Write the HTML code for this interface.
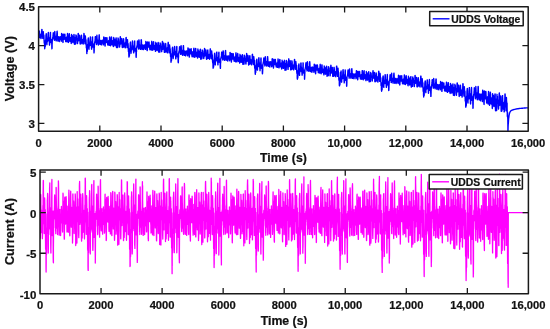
<!DOCTYPE html>
<html lang="en"><head><meta charset="utf-8"><title>UDDS Voltage and Current</title>
<style>html,body{margin:0;padding:0;background:#fff;overflow:hidden}body{width:550px;height:329px}</style></head>
<body>
<svg width="550" height="329" viewBox="0 0 550 329" style="display:block">
<rect width="100%" height="100%" fill="#fff"/>
<g font-family="'Liberation Sans', Arial, Helvetica, sans-serif" font-weight="bold" fill="#111" stroke="#111" stroke-width="0.22" stroke-linejoin="round">
<clipPath id="c6"><rect x="38.6" y="6.8" width="489.6" height="124.5"/></clipPath>
<polyline clip-path="url(#c6)" fill="none" stroke="#0000ff" stroke-width="1.35" stroke-linejoin="round" points="38.6,30.9 38.7,37.2 38.7,37.8 38.8,37.9 38.8,37.8 38.9,37.4 39.0,36.7 39.0,35.5 39.1,33.5 39.2,32.4 39.2,31.8 39.3,31.3 39.3,31.0 39.4,31.2 39.5,31.8 39.5,32.4 39.6,33.3 39.6,34.3 39.7,35.2 39.8,36.1 39.8,36.8 39.9,37.2 39.9,37.4 40.0,37.5 40.1,37.0 40.1,36.3 40.2,35.7 40.3,35.5 40.3,34.4 40.4,34.5 40.4,34.8 40.5,34.6 40.6,36.1 40.6,37.4 40.7,37.7 40.7,37.3 40.8,36.6 40.9,37.2 40.9,38.2 41.0,38.6 41.0,38.6 41.1,38.3 41.2,38.0 41.2,37.2 41.3,36.2 41.4,35.6 41.4,34.3 41.5,33.4 41.5,34.1 41.6,34.4 41.7,32.5 41.7,30.9 41.8,30.0 41.8,29.6 41.9,29.5 42.0,29.6 42.0,30.1 42.1,31.1 42.1,32.5 42.2,33.7 42.3,35.3 42.3,36.2 42.4,35.1 42.5,34.0 42.5,34.8 42.6,35.7 42.6,36.1 42.7,37.1 42.8,38.1 42.8,38.4 42.9,38.4 42.9,38.4 43.0,37.8 43.1,36.8 43.1,35.1 43.2,32.5 43.3,31.6 43.3,31.9 43.4,32.6 43.4,33.7 43.5,34.5 43.6,34.3 43.6,34.8 43.7,35.5 43.7,35.4 43.8,35.6 43.9,35.4 43.9,35.3 44.0,37.3 44.0,39.1 44.1,40.7 44.2,42.4 44.2,42.9 44.3,42.7 44.4,41.8 44.4,41.1 44.5,41.3 44.5,43.1 44.6,46.3 44.7,48.0 44.7,48.7 44.8,48.1 44.8,47.0 44.9,45.0 45.0,44.1 45.0,45.3 45.1,46.8 45.1,47.1 45.2,46.8 45.3,45.5 45.3,44.1 45.4,42.6 45.5,40.9 45.5,40.0 45.6,40.7 45.6,41.1 45.7,42.0 45.8,42.4 45.8,41.0 45.9,37.6 45.9,35.6 46.0,35.0 46.1,34.8 46.1,34.3 46.2,33.8 46.2,33.6 46.3,33.6 46.4,34.0 46.4,34.9 46.5,37.1 46.6,40.9 46.6,41.7 46.7,42.0 46.7,42.9 46.8,44.3 46.9,44.7 46.9,44.5 47.0,42.8 47.0,41.7 47.1,40.7 47.2,40.4 47.2,40.8 47.3,40.3 47.4,41.1 47.4,41.7 47.5,41.2 47.5,39.8 47.6,38.6 47.7,40.1 47.7,40.5 47.8,39.0 47.8,39.1 47.9,38.1 48.0,37.2 48.0,36.7 48.1,35.9 48.1,34.3 48.2,33.2 48.3,32.7 48.3,32.5 48.4,32.5 48.5,33.2 48.5,34.6 48.6,36.0 48.6,37.0 48.7,37.5 48.8,39.2 48.8,40.8 48.9,41.1 48.9,40.6 49.0,39.1 49.1,37.6 49.1,38.8 49.2,40.2 49.2,41.2 49.3,42.0 49.4,43.2 49.4,44.6 49.5,45.2 49.6,44.7 49.6,43.2 49.7,41.9 49.7,40.4 49.8,39.5 49.9,39.6 49.9,40.0 50.0,38.7 50.0,38.1 50.1,39.8 50.2,41.1 50.2,40.7 50.3,36.9 50.4,34.3 50.4,33.0 50.5,32.5 50.5,33.1 50.6,38.0 50.7,40.8 50.7,41.9 50.8,42.5 50.8,42.6 50.9,42.5 51.0,41.7 51.0,40.9 51.1,40.4 51.1,40.9 51.2,41.1 51.3,40.5 51.3,41.2 51.4,40.9 51.5,40.2 51.5,40.1 51.6,39.6 51.6,40.9 51.7,42.6 51.8,44.5 51.8,47.2 51.9,48.3 51.9,48.9 52.0,48.6 52.1,46.9 52.1,44.8 52.2,43.3 52.2,42.7 52.3,40.9 52.4,39.8 52.4,38.9 52.5,39.2 52.6,38.6 52.6,37.9 52.7,38.2 52.7,37.9 52.8,37.2 52.9,37.3 52.9,37.2 53.0,36.5 53.0,35.6 53.1,34.7 53.2,33.7 53.2,32.9 53.3,32.9 53.3,32.7 53.4,33.1 53.5,33.9 53.5,35.2 53.6,36.6 53.7,36.1 53.7,36.8 53.8,37.0 53.8,37.3 53.9,37.0 54.0,37.7 54.0,38.7 54.1,39.3 54.1,38.9 54.2,38.9 54.3,39.6 54.3,40.1 54.4,40.3 54.5,40.3 54.5,39.6 54.6,38.6 54.6,36.5 54.7,32.4 54.8,31.4 54.8,31.5 54.9,32.2 54.9,33.2 55.0,34.5 55.1,35.7 55.1,36.4 55.2,35.7 55.2,35.9 55.3,36.8 55.4,36.4 55.4,36.4 55.5,37.8 55.6,39.0 55.6,39.7 55.7,39.2 55.7,38.4 55.8,38.6 55.9,38.2 55.9,37.6 56.0,38.2 56.0,39.2 56.1,40.1 56.2,40.6 56.2,40.9 56.3,40.8 56.3,40.2 56.4,39.3 56.5,38.1 56.5,37.6 56.6,37.0 56.7,35.8 56.7,35.6 56.8,36.3 56.8,34.7 56.9,33.1 57.0,32.1 57.0,31.4 57.1,31.2 57.1,31.4 57.2,31.9 57.3,33.1 57.3,34.6 57.4,36.0 57.4,37.7 57.5,38.3 57.6,38.2 57.6,38.6 57.7,39.3 57.8,40.3 57.8,41.1 57.9,41.0 57.9,40.9 58.0,40.3 58.1,39.3 58.1,38.0 58.2,37.0 58.2,37.1 58.3,37.8 58.4,37.9 58.4,37.1 58.5,37.6 58.6,38.3 58.6,36.8 58.7,36.7 58.7,37.3 58.8,37.4 58.9,37.5 58.9,38.0 59.0,38.3 59.0,38.7 59.1,39.6 59.2,40.9 59.2,41.5 59.3,41.6 59.3,41.3 59.4,40.8 59.5,39.7 59.5,38.6 59.6,38.3 59.7,38.5 59.7,38.4 59.8,38.6 59.8,39.3 59.9,39.5 60.0,39.4 60.0,38.3 60.1,36.6 60.1,37.7 60.2,38.8 60.3,38.0 60.3,37.8 60.4,38.6 60.4,38.1 60.5,37.9 60.6,37.8 60.6,37.2 60.7,37.0 60.8,37.8 60.8,37.8 60.9,38.1 60.9,38.3 61.0,38.6 61.1,39.9 61.1,40.8 61.2,41.1 61.2,41.2 61.3,41.1 61.4,40.2 61.4,39.5 61.5,38.0 61.5,35.0 61.6,33.5 61.7,33.4 61.7,33.5 61.8,34.0 61.9,34.9 61.9,36.2 62.0,37.7 62.0,38.8 62.1,39.5 62.2,39.0 62.2,38.0 62.3,37.8 62.3,37.7 62.4,37.4 62.5,36.1 62.5,35.1 62.6,34.9 62.7,35.7 62.7,38.8 62.8,40.7 62.8,41.7 62.9,42.3 63.0,42.5 63.0,42.4 63.1,41.8 63.1,40.8 63.2,38.8 63.3,35.5 63.3,34.4 63.4,34.2 63.4,34.2 63.5,35.0 63.6,35.7 63.6,36.2 63.7,36.5 63.8,37.1 63.8,38.6 63.9,39.0 63.9,38.1 64.0,37.4 64.1,38.0 64.1,38.2 64.2,38.3 64.2,39.4 64.3,39.1 64.4,38.7 64.4,37.8 64.5,37.7 64.5,36.6 64.6,35.8 64.7,35.0 64.7,34.3 64.8,34.1 64.9,34.3 64.9,34.8 65.0,35.5 65.0,36.5 65.1,37.3 65.2,37.8 65.2,38.2 65.3,38.1 65.3,38.7 65.4,39.6 65.5,39.9 65.5,40.1 65.6,40.9 65.7,41.6 65.7,41.6 65.8,41.4 65.8,41.0 65.9,39.9 66.0,38.8 66.0,38.2 66.1,39.2 66.1,38.9 66.2,38.8 66.3,38.2 66.3,38.6 66.4,38.6 66.4,37.6 66.5,37.1 66.6,38.5 66.6,38.5 66.7,38.0 66.8,38.4 66.8,39.2 66.9,40.2 66.9,41.3 67.0,41.8 67.1,41.9 67.1,41.9 67.2,41.5 67.2,40.4 67.3,38.6 67.4,35.7 67.4,34.1 67.5,33.7 67.5,33.5 67.6,33.5 67.7,34.0 67.7,35.0 67.8,36.2 67.9,37.7 67.9,38.6 68.0,37.7 68.0,37.5 68.1,37.9 68.2,37.8 68.2,39.0 68.3,40.6 68.3,41.7 68.4,42.3 68.5,42.5 68.5,42.1 68.6,41.4 68.6,40.6 68.7,39.4 68.8,39.1 68.8,39.4 68.9,38.1 69.0,37.5 69.0,38.1 69.1,37.1 69.1,35.7 69.2,34.7 69.3,34.0 69.3,33.9 69.4,33.8 69.4,34.6 69.5,35.5 69.6,36.4 69.6,37.4 69.7,37.5 69.8,38.1 69.8,39.3 69.9,40.4 69.9,41.1 70.0,41.2 70.1,41.0 70.1,40.1 70.2,39.4 70.2,39.6 70.3,39.6 70.4,39.2 70.4,39.1 70.5,37.9 70.5,38.8 70.6,39.1 70.7,38.4 70.7,37.7 70.8,37.7 70.9,38.7 70.9,38.7 71.0,39.8 71.0,41.2 71.1,42.5 71.2,43.2 71.2,43.6 71.3,43.3 71.3,42.5 71.4,41.1 71.5,38.8 71.5,35.1 71.6,34.4 71.6,35.2 71.7,35.9 71.8,37.1 71.8,39.5 71.9,40.1 72.0,38.8 72.0,38.3 72.1,38.4 72.1,38.0 72.2,36.8 72.3,35.8 72.3,35.7 72.4,36.0 72.4,37.5 72.5,39.1 72.6,38.7 72.6,39.3 72.7,40.7 72.7,41.7 72.8,42.4 72.9,42.6 72.9,42.5 73.0,41.8 73.1,40.9 73.1,39.6 73.2,38.6 73.2,38.1 73.3,37.9 73.4,37.9 73.4,38.3 73.5,38.7 73.5,38.3 73.6,38.1 73.7,37.5 73.7,37.1 73.8,36.0 73.9,35.2 73.9,34.6 74.0,34.5 74.0,34.7 74.1,35.2 74.2,36.7 74.2,40.2 74.3,42.1 74.3,43.4 74.4,44.3 74.5,44.3 74.5,44.1 74.6,43.3 74.6,42.0 74.7,40.3 74.8,39.0 74.8,39.9 74.9,41.2 75.0,41.4 75.0,41.1 75.1,40.1 75.1,38.5 75.2,37.8 75.3,38.9 75.3,40.4 75.4,42.1 75.4,43.3 75.5,43.9 75.6,44.1 75.6,43.8 75.7,43.2 75.7,42.1 75.8,39.4 75.9,35.2 75.9,34.8 76.0,35.8 76.1,37.0 76.1,38.4 76.2,39.1 76.2,37.8 76.3,36.5 76.4,35.7 76.4,36.0 76.5,37.2 76.5,38.6 76.6,38.6 76.7,38.9 76.7,39.8 76.8,38.8 76.8,38.5 76.9,39.2 77.0,39.3 77.0,39.5 77.1,38.3 77.2,39.3 77.2,40.7 77.3,41.8 77.3,42.8 77.4,43.4 77.5,43.6 77.5,43.5 77.6,43.0 77.6,41.9 77.7,40.5 77.8,38.9 77.8,38.6 77.9,39.7 78.0,39.3 78.0,36.7 78.1,35.0 78.1,33.9 78.2,33.4 78.3,33.4 78.3,33.4 78.4,33.9 78.4,35.1 78.5,37.5 78.6,40.6 78.6,40.7 78.7,39.4 78.7,38.9 78.8,39.2 78.9,38.6 78.9,40.1 79.0,40.6 79.1,39.9 79.1,38.5 79.2,38.8 79.2,39.6 79.3,39.9 79.4,38.2 79.4,36.8 79.5,35.8 79.5,35.2 79.6,35.5 79.7,35.7 79.7,35.9 79.8,36.8 79.8,38.3 79.9,40.5 80.0,41.1 80.0,42.5 80.1,43.6 80.2,44.0 80.2,44.1 80.3,44.1 80.3,43.7 80.4,42.9 80.5,42.0 80.5,41.1 80.6,39.9 80.6,40.5 80.7,42.0 80.8,43.0 80.8,43.8 80.9,43.9 81.0,43.6 81.0,43.1 81.1,42.1 81.1,40.7 81.2,38.2 81.3,36.6 81.3,35.8 81.4,35.2 81.4,35.1 81.5,35.3 81.6,35.7 81.6,36.6 81.7,37.9 81.7,39.3 81.8,40.7 81.9,41.5 81.9,42.5 82.0,43.1 82.1,43.0 82.1,43.1 82.2,42.6 82.2,41.6 82.3,41.1 82.4,40.9 82.4,39.6 82.5,39.9 82.5,40.0 82.6,39.6 82.7,41.4 82.7,42.9 82.8,43.3 82.8,42.8 82.9,41.9 83.0,42.4 83.0,43.5 83.1,44.0 83.2,44.1 83.2,44.1 83.3,43.7 83.3,42.6 83.4,41.8 83.5,41.3 83.5,39.6 83.6,38.2 83.6,39.2 83.7,39.4 83.8,37.0 83.8,35.1 83.9,34.0 83.9,33.5 84.0,33.5 84.1,33.7 84.1,34.2 84.2,35.1 84.3,36.8 84.3,38.6 84.4,40.3 84.4,40.9 84.5,39.8 84.6,39.0 84.6,40.0 84.7,40.7 84.7,41.2 84.8,42.0 84.9,43.1 84.9,43.5 85.0,43.7 85.1,43.7 85.1,43.2 85.2,41.9 85.2,39.7 85.3,36.7 85.4,35.9 85.4,36.5 85.5,37.5 85.5,38.3 85.6,38.9 85.7,38.9 85.7,39.2 85.8,40.2 85.8,40.2 85.9,40.3 86.0,39.8 86.0,39.8 86.1,42.2 86.2,44.0 86.2,45.3 86.3,46.5 86.3,47.8 86.4,47.9 86.5,46.9 86.5,46.3 86.6,46.2 86.6,47.8 86.7,50.5 86.8,52.6 86.8,53.6 86.9,53.4 86.9,51.7 87.0,49.8 87.1,49.0 87.1,50.1 87.2,51.3 87.3,51.5 87.3,51.3 87.4,50.1 87.4,48.8 87.5,47.6 87.6,45.4 87.6,44.3 87.7,45.2 87.7,45.6 87.8,46.7 87.9,47.3 87.9,45.8 88.0,41.9 88.0,40.0 88.1,39.4 88.2,39.5 88.2,38.7 88.3,38.0 88.4,38.0 88.4,38.1 88.5,38.8 88.5,39.6 88.6,41.6 88.7,44.9 88.7,45.9 88.8,46.5 88.8,47.7 88.9,49.0 89.0,49.3 89.0,49.2 89.1,47.3 89.2,46.0 89.2,44.8 89.3,44.8 89.3,45.2 89.4,44.6 89.5,45.5 89.5,46.0 89.6,45.4 89.6,44.2 89.7,43.0 89.8,44.6 89.8,45.2 89.9,43.6 89.9,43.7 90.0,42.7 90.1,41.7 90.1,41.1 90.2,40.0 90.3,38.5 90.3,37.4 90.4,37.0 90.4,36.9 90.5,36.9 90.6,37.4 90.6,38.8 90.7,40.6 90.7,41.7 90.8,42.0 90.9,43.8 90.9,45.4 91.0,45.5 91.0,44.9 91.1,43.5 91.2,41.7 91.2,43.1 91.3,44.5 91.4,45.4 91.4,46.6 91.5,47.9 91.5,49.0 91.6,49.2 91.7,49.0 91.7,48.2 91.8,46.7 91.8,44.9 91.9,43.9 92.0,43.9 92.0,44.6 92.1,43.4 92.2,42.3 92.2,43.8 92.3,45.4 92.3,44.7 92.4,40.7 92.5,38.6 92.5,37.4 92.6,36.9 92.6,37.4 92.7,41.9 92.8,45.0 92.8,46.0 92.9,46.8 92.9,47.0 93.0,46.7 93.1,46.2 93.1,45.6 93.2,45.1 93.3,45.1 93.3,45.2 93.4,44.9 93.4,45.6 93.5,45.3 93.6,44.4 93.6,44.4 93.7,44.1 93.7,44.9 93.8,46.8 93.9,48.8 93.9,50.8 94.0,52.4 94.0,52.9 94.1,52.2 94.2,51.0 94.2,48.9 94.3,47.6 94.4,47.1 94.4,45.0 94.5,43.5 94.5,43.1 94.6,43.2 94.7,42.5 94.7,41.8 94.8,42.0 94.8,42.0 94.9,41.5 95.0,41.5 95.0,41.1 95.1,40.4 95.1,39.6 95.2,38.5 95.3,37.4 95.3,36.7 95.4,36.6 95.5,36.8 95.5,36.9 95.6,37.8 95.6,39.2 95.7,40.8 95.8,40.3 95.8,40.7 95.9,41.0 95.9,41.5 96.0,41.3 96.1,41.9 96.1,43.0 96.2,43.1 96.3,42.8 96.3,43.0 96.4,43.8 96.4,44.5 96.5,44.6 96.6,44.4 96.6,43.8 96.7,42.9 96.7,40.6 96.8,36.3 96.9,35.2 96.9,35.3 97.0,35.9 97.0,37.0 97.1,38.4 97.2,39.7 97.2,40.3 97.3,39.7 97.4,40.2 97.4,40.8 97.5,40.1 97.5,40.2 97.6,41.7 97.7,42.8 97.7,43.1 97.8,42.8 97.8,42.2 97.9,42.5 98.0,42.2 98.0,41.2 98.1,41.4 98.1,42.8 98.2,44.0 98.3,44.6 98.3,44.9 98.4,45.0 98.5,44.2 98.5,42.9 98.6,42.1 98.6,41.9 98.7,41.1 98.8,40.0 98.8,39.6 98.9,40.0 98.9,38.7 99.0,36.9 99.1,35.5 99.1,35.0 99.2,34.8 99.2,34.9 99.3,35.7 99.4,37.1 99.4,38.6 99.5,39.8 99.6,41.8 99.6,42.2 99.7,41.9 99.7,42.1 99.8,43.0 99.9,43.8 99.9,44.3 100.0,44.4 100.0,44.3 100.1,43.8 100.2,42.8 100.2,41.6 100.3,40.7 100.4,40.9 100.4,42.0 100.5,42.0 100.5,40.9 100.6,41.0 100.7,41.4 100.7,40.3 100.8,40.3 100.8,40.8 100.9,41.1 101.0,41.0 101.0,41.7 101.1,42.0 101.1,42.2 101.2,43.3 101.3,44.3 101.3,44.9 101.4,44.9 101.5,44.9 101.5,44.4 101.6,43.1 101.6,42.2 101.7,41.7 101.8,41.8 101.8,41.7 101.9,42.2 101.9,42.8 102.0,43.2 102.1,43.1 102.1,41.9 102.2,40.3 102.2,41.3 102.3,42.4 102.4,41.5 102.4,41.4 102.5,42.1 102.6,41.0 102.6,40.9 102.7,41.4 102.7,40.4 102.8,40.2 102.9,40.9 102.9,41.0 103.0,41.5 103.0,41.9 103.1,42.3 103.2,43.3 103.2,44.1 103.3,44.8 103.3,44.9 103.4,44.8 103.5,44.3 103.5,43.2 103.6,41.5 103.7,38.8 103.7,37.4 103.8,37.0 103.8,37.0 103.9,37.8 104.0,38.6 104.0,39.9 104.1,41.3 104.1,42.2 104.2,42.8 104.3,42.7 104.3,41.8 104.4,41.5 104.5,41.2 104.5,41.0 104.6,39.6 104.6,38.2 104.7,37.9 104.8,38.8 104.8,42.2 104.9,44.2 104.9,45.2 105.0,45.9 105.1,46.0 105.1,45.9 105.2,45.3 105.2,44.2 105.3,42.3 105.4,38.9 105.4,37.7 105.5,37.7 105.6,37.7 105.6,38.2 105.7,39.1 105.7,39.9 105.8,40.4 105.9,40.4 105.9,41.9 106.0,42.4 106.0,41.5 106.1,40.9 106.2,41.5 106.2,41.7 106.3,41.6 106.3,42.5 106.4,42.3 106.5,42.1 106.5,41.6 106.6,41.2 106.7,40.0 106.7,39.0 106.8,38.3 106.8,37.6 106.9,37.6 107.0,37.8 107.0,38.1 107.1,39.0 107.1,39.9 107.2,40.6 107.3,41.5 107.3,41.9 107.4,41.5 107.4,42.2 107.5,43.1 107.6,43.3 107.6,43.5 107.7,44.4 107.8,44.9 107.8,45.0 107.9,44.9 107.9,44.5 108.0,43.7 108.1,42.4 108.1,41.3 108.2,42.5 108.2,42.5 108.3,42.3 108.4,42.0 108.4,42.1 108.5,41.9 108.6,40.8 108.6,40.6 108.7,42.4 108.7,42.0 108.8,41.4 108.9,41.8 108.9,42.7 109.0,43.5 109.0,44.5 109.1,45.2 109.2,45.4 109.2,44.9 109.3,44.5 109.3,43.8 109.4,42.0 109.5,39.4 109.5,37.7 109.6,37.1 109.7,37.0 109.7,37.1 109.8,37.5 109.8,38.6 109.9,39.9 110.0,41.5 110.0,42.1 110.1,41.1 110.1,41.0 110.2,41.4 110.3,41.1 110.3,42.4 110.4,44.1 110.4,45.1 110.5,45.6 110.6,45.8 110.6,45.7 110.7,45.0 110.8,43.9 110.8,42.7 110.9,42.1 110.9,42.2 111.0,41.2 111.1,41.1 111.1,41.3 111.2,39.9 111.2,38.6 111.3,37.8 111.4,37.4 111.4,37.1 111.5,37.0 111.6,37.4 111.6,38.8 111.7,40.4 111.7,41.3 111.8,41.1 111.9,41.8 111.9,42.9 112.0,43.9 112.0,44.7 112.1,44.8 112.2,44.1 112.2,43.1 112.3,42.6 112.3,43.0 112.4,42.7 112.5,42.4 112.5,42.4 112.6,41.4 112.7,42.1 112.7,42.3 112.8,41.5 112.8,40.7 112.9,41.0 113.0,41.8 113.0,41.8 113.1,43.0 113.1,44.5 113.2,45.8 113.3,46.5 113.3,46.5 113.4,46.5 113.4,45.9 113.5,44.6 113.6,42.1 113.6,38.1 113.7,37.5 113.8,38.2 113.8,39.2 113.9,40.7 113.9,42.8 114.0,43.6 114.1,42.5 114.1,42.0 114.2,41.9 114.2,41.3 114.3,40.3 114.4,39.3 114.4,39.0 114.5,39.3 114.5,40.7 114.6,42.2 114.7,42.2 114.7,43.0 114.8,44.1 114.9,45.2 114.9,45.8 115.0,45.7 115.0,45.6 115.1,45.2 115.2,44.4 115.2,43.2 115.3,41.7 115.3,41.2 115.4,41.3 115.5,41.3 115.5,41.8 115.6,42.0 115.7,41.4 115.7,41.4 115.8,40.8 115.8,40.2 115.9,39.2 116.0,38.3 116.0,37.9 116.1,37.9 116.1,38.0 116.2,38.3 116.3,40.1 116.3,43.4 116.4,45.5 116.4,46.6 116.5,47.5 116.6,47.6 116.6,47.2 116.7,46.5 116.8,45.3 116.8,43.5 116.9,42.0 116.9,43.1 117.0,44.3 117.1,44.8 117.1,44.7 117.2,43.3 117.2,41.8 117.3,41.1 117.4,42.4 117.4,43.9 117.5,45.4 117.5,46.2 117.6,47.0 117.7,47.6 117.7,47.4 117.8,46.5 117.9,45.5 117.9,42.9 118.0,38.6 118.0,38.0 118.1,39.1 118.2,40.3 118.2,41.5 118.3,42.5 118.3,40.9 118.4,39.3 118.5,39.0 118.5,39.5 118.6,40.7 118.6,41.8 118.7,41.6 118.8,41.9 118.8,42.9 118.9,42.5 119.0,42.1 119.0,42.7 119.1,42.8 119.1,42.9 119.2,41.9 119.3,42.6 119.3,44.0 119.4,45.2 119.4,46.2 119.5,46.9 119.6,47.1 119.6,47.0 119.7,46.5 119.8,45.4 119.8,43.6 119.9,42.2 119.9,42.1 120.0,43.2 120.1,42.7 120.1,40.5 120.2,38.5 120.2,37.3 120.3,36.7 120.4,36.7 120.4,36.8 120.5,37.4 120.5,38.5 120.6,40.7 120.7,44.0 120.7,43.8 120.8,42.7 120.9,42.1 120.9,42.2 121.0,41.9 121.0,43.6 121.1,43.8 121.2,43.2 121.2,41.8 121.3,42.2 121.3,43.1 121.4,43.4 121.5,41.7 121.5,40.0 121.6,39.2 121.6,38.8 121.7,38.6 121.8,38.7 121.8,39.4 121.9,40.5 122.0,41.9 122.0,43.8 122.1,44.5 122.1,45.5 122.2,46.7 122.3,47.4 122.3,47.6 122.4,47.5 122.4,46.9 122.5,46.1 122.6,45.6 122.6,44.7 122.7,43.6 122.8,44.2 122.8,45.5 122.9,46.5 122.9,47.1 123.0,47.4 123.1,47.3 123.1,46.7 123.2,45.8 123.2,44.7 123.3,42.1 123.4,40.4 123.4,39.4 123.5,38.7 123.5,38.7 123.6,38.9 123.7,39.4 123.7,40.3 123.8,41.4 123.9,42.7 123.9,43.9 124.0,45.1 124.0,46.3 124.1,46.6 124.2,46.7 124.2,46.6 124.3,46.0 124.3,45.3 124.4,44.6 124.5,44.3 124.5,43.2 124.6,43.3 124.6,43.4 124.7,43.1 124.8,44.6 124.8,46.3 124.9,46.8 125.0,46.6 125.0,45.7 125.1,46.1 125.1,47.2 125.2,47.7 125.3,47.9 125.3,47.9 125.4,47.2 125.4,46.1 125.5,45.4 125.6,44.8 125.6,43.2 125.7,42.0 125.7,42.9 125.8,43.3 125.9,41.0 125.9,39.0 126.0,37.8 126.1,37.5 126.1,37.5 126.2,37.6 126.2,38.2 126.3,39.4 126.4,40.9 126.4,42.3 126.5,43.9 126.5,44.8 126.6,43.3 126.7,42.1 126.7,43.3 126.8,44.3 126.9,44.9 126.9,45.8 127.0,46.7 127.0,47.4 127.1,47.6 127.2,47.4 127.2,46.7 127.3,45.7 127.3,43.6 127.4,40.3 127.5,39.6 127.5,40.4 127.6,41.2 127.6,42.1 127.7,42.7 127.8,43.0 127.8,43.5 127.9,44.1 128.0,44.0 128.0,44.0 128.1,43.9 128.1,43.6 128.2,45.5 128.3,47.9 128.3,49.4 128.4,51.0 128.4,51.6 128.5,51.7 128.6,50.7 128.6,49.9 128.7,50.2 128.7,51.7 128.8,55.0 128.9,56.6 128.9,57.0 129.0,56.9 129.1,55.8 129.1,53.6 129.2,52.8 129.2,54.0 129.3,55.5 129.4,56.1 129.4,55.8 129.5,54.4 129.5,52.7 129.6,51.3 129.7,49.4 129.7,48.4 129.8,49.2 129.8,49.6 129.9,50.6 130.0,51.0 130.0,49.5 130.1,46.0 130.2,44.1 130.2,43.3 130.3,43.4 130.3,43.0 130.4,42.2 130.5,42.0 130.5,42.2 130.6,42.6 130.6,43.5 130.7,45.6 130.8,49.2 130.8,50.1 130.9,50.6 131.0,51.8 131.0,53.2 131.1,53.1 131.1,53.0 131.2,51.6 131.3,50.3 131.3,49.2 131.4,48.9 131.4,49.4 131.5,48.8 131.6,49.6 131.6,49.9 131.7,49.3 131.7,48.4 131.8,47.4 131.9,49.1 131.9,49.3 132.0,47.5 132.1,47.5 132.1,46.9 132.2,46.0 132.2,45.3 132.3,44.4 132.4,42.8 132.4,41.5 132.5,41.0 132.5,41.0 132.6,41.5 132.7,42.1 132.7,43.1 132.8,44.5 132.8,45.8 132.9,46.2 133.0,47.6 133.0,49.2 133.1,49.8 133.2,49.4 133.2,47.5 133.3,45.8 133.3,47.5 133.4,48.7 133.5,49.8 133.5,51.1 133.6,52.2 133.6,52.7 133.7,52.9 133.8,52.8 133.8,51.6 133.9,50.6 133.9,49.0 134.0,48.4 134.1,48.5 134.1,48.8 134.2,47.2 134.3,46.4 134.3,48.2 134.4,49.7 134.4,49.3 134.5,45.5 134.6,42.9 134.6,41.6 134.7,41.0 134.7,41.6 134.8,46.6 134.9,49.5 134.9,50.3 135.0,50.9 135.1,51.1 135.1,51.0 135.2,50.5 135.2,49.9 135.3,49.3 135.4,49.7 135.4,49.9 135.5,49.3 135.5,49.7 135.6,49.5 135.7,48.8 135.7,48.7 135.8,48.5 135.8,49.4 135.9,51.3 136.0,53.3 136.0,55.9 136.1,57.2 136.2,57.3 136.2,57.0 136.3,55.3 136.3,53.3 136.4,52.0 136.5,51.5 136.5,49.5 136.6,48.1 136.6,47.3 136.7,47.6 136.8,47.1 136.8,46.3 136.9,46.4 136.9,46.3 137.0,45.7 137.1,45.8 137.1,45.5 137.2,45.1 137.3,44.3 137.3,43.0 137.4,41.8 137.4,41.2 137.5,41.1 137.6,41.0 137.6,41.3 137.7,42.5 137.7,44.1 137.8,45.2 137.9,44.7 137.9,45.3 138.0,45.5 138.1,45.7 138.1,45.3 138.2,46.0 138.2,47.2 138.3,47.7 138.4,47.5 138.4,47.4 138.5,48.3 138.5,48.8 138.6,49.0 138.7,49.1 138.7,48.5 138.8,47.2 138.8,44.7 138.9,40.6 139.0,39.8 139.0,40.0 139.1,40.6 139.2,41.8 139.2,43.4 139.3,44.5 139.3,44.7 139.4,44.4 139.5,44.9 139.5,45.6 139.6,45.0 139.6,44.9 139.7,46.3 139.8,47.8 139.8,48.1 139.9,47.7 139.9,47.0 140.0,47.1 140.1,46.8 140.1,46.0 140.2,46.6 140.3,47.8 140.3,48.8 140.4,49.3 140.4,49.4 140.5,49.4 140.6,48.9 140.6,47.8 140.7,46.8 140.7,46.3 140.8,45.8 140.9,44.8 140.9,44.3 141.0,44.5 141.0,43.4 141.1,41.7 141.2,40.4 141.2,39.7 141.3,39.8 141.4,39.9 141.4,40.2 141.5,41.7 141.5,43.0 141.6,44.4 141.7,46.2 141.7,46.8 141.8,46.2 141.8,46.8 141.9,47.9 142.0,48.9 142.0,49.6 142.1,49.6 142.2,49.3 142.2,48.8 142.3,47.7 142.3,46.3 142.4,45.2 142.5,45.4 142.5,46.3 142.6,46.5 142.6,45.7 142.7,45.9 142.8,46.4 142.8,44.9 142.9,45.0 142.9,45.9 143.0,45.8 143.1,45.5 143.1,46.3 143.2,46.9 143.3,47.0 143.3,47.8 143.4,48.8 143.4,49.6 143.5,49.6 143.6,49.4 143.6,48.9 143.7,47.9 143.7,46.8 143.8,46.2 143.9,46.3 143.9,46.2 144.0,46.9 144.0,47.9 144.1,48.1 144.2,47.7 144.2,46.5 144.3,44.9 144.4,45.9 144.4,47.0 144.5,46.2 144.5,46.2 144.6,46.8 144.7,46.3 144.7,46.3 144.8,46.2 144.8,45.2 144.9,45.0 145.0,45.8 145.0,45.9 145.1,46.2 145.1,46.5 145.2,46.7 145.3,47.8 145.3,48.8 145.4,49.3 145.5,49.4 145.5,49.3 145.6,48.7 145.6,47.5 145.7,46.1 145.8,42.9 145.8,41.4 145.9,41.6 145.9,41.7 146.0,42.3 146.1,43.3 146.1,44.4 146.2,45.9 146.3,46.8 146.3,47.3 146.4,47.1 146.4,46.0 146.5,45.6 146.6,45.9 146.6,45.6 146.7,44.4 146.7,43.3 146.8,43.0 146.9,43.8 146.9,46.8 147.0,48.8 147.0,49.9 147.1,50.4 147.2,50.6 147.2,50.6 147.3,50.2 147.4,49.2 147.4,47.1 147.5,43.6 147.5,42.1 147.6,42.0 147.7,42.3 147.7,42.9 147.8,43.6 147.8,44.5 147.9,44.8 148.0,44.9 148.0,46.3 148.1,46.9 148.1,46.2 148.2,45.6 148.3,46.1 148.3,46.4 148.4,46.1 148.5,47.0 148.5,46.8 148.6,46.5 148.6,45.9 148.7,45.9 148.8,44.5 148.8,43.3 148.9,42.9 148.9,42.4 149.0,42.0 149.1,42.3 149.1,42.8 149.2,43.7 149.2,44.5 149.3,45.1 149.4,45.6 149.4,46.3 149.5,46.3 149.6,46.9 149.6,47.8 149.7,48.2 149.7,48.2 149.8,49.1 149.9,49.6 149.9,49.8 150.0,49.5 150.0,48.9 150.1,47.9 150.2,46.7 150.2,45.9 150.3,47.1 150.4,47.2 150.4,46.9 150.5,46.7 150.5,46.7 150.6,46.5 150.7,45.3 150.7,45.1 150.8,46.7 150.8,46.4 150.9,45.8 151.0,46.2 151.0,46.9 151.1,48.1 151.1,49.3 151.2,49.9 151.3,50.0 151.3,50.1 151.4,49.4 151.5,48.5 151.5,46.9 151.6,44.0 151.6,42.4 151.7,41.6 151.8,41.3 151.8,41.4 151.9,42.1 151.9,43.2 152.0,44.7 152.1,45.8 152.1,46.5 152.2,45.5 152.2,45.4 152.3,46.1 152.4,45.8 152.4,47.1 152.5,48.4 152.6,49.3 152.6,50.0 152.7,50.2 152.7,50.3 152.8,49.6 152.9,48.6 152.9,47.5 153.0,46.9 153.0,46.9 153.1,45.9 153.2,45.9 153.2,46.0 153.3,44.6 153.3,43.2 153.4,42.3 153.5,42.0 153.5,41.8 153.6,41.7 153.7,42.2 153.7,43.4 153.8,44.7 153.8,45.5 153.9,45.6 154.0,46.2 154.0,47.4 154.1,48.5 154.1,49.2 154.2,49.4 154.3,49.1 154.3,48.0 154.4,47.5 154.5,47.6 154.5,47.2 154.6,47.0 154.6,47.3 154.7,46.0 154.8,46.6 154.8,46.9 154.9,46.1 154.9,45.4 155.0,45.6 155.1,46.5 155.1,46.6 155.2,47.7 155.2,49.4 155.3,50.5 155.4,51.2 155.4,51.3 155.5,51.3 155.6,50.8 155.6,49.4 155.7,47.1 155.7,43.3 155.8,42.3 155.9,42.9 155.9,43.7 156.0,45.3 156.0,47.5 156.1,47.8 156.2,46.7 156.2,46.6 156.3,46.4 156.3,46.0 156.4,45.1 156.5,44.0 156.5,43.5 156.6,43.8 156.7,45.2 156.7,46.7 156.8,46.6 156.8,47.6 156.9,48.9 157.0,50.1 157.0,50.4 157.1,50.5 157.1,50.4 157.2,49.9 157.3,48.8 157.3,47.3 157.4,46.3 157.5,45.9 157.5,45.9 157.6,46.0 157.6,46.3 157.7,46.6 157.8,46.1 157.8,46.1 157.9,45.4 157.9,45.0 158.0,44.4 158.1,43.1 158.1,42.3 158.2,42.3 158.2,42.5 158.3,43.2 158.4,44.6 158.4,47.9 158.5,50.1 158.6,51.3 158.6,52.0 158.7,52.1 158.7,51.9 158.8,51.3 158.9,50.3 158.9,48.2 159.0,46.6 159.0,47.8 159.1,49.2 159.2,49.3 159.2,49.0 159.3,48.2 159.3,46.7 159.4,45.6 159.5,46.9 159.5,48.5 159.6,49.8 159.7,50.9 159.7,51.6 159.8,52.2 159.8,52.1 159.9,51.1 160.0,49.8 160.0,47.3 160.1,43.2 160.1,42.8 160.2,44.0 160.3,45.2 160.3,46.4 160.4,47.1 160.4,45.4 160.5,43.9 160.6,43.8 160.6,44.2 160.7,45.4 160.8,46.6 160.8,46.4 160.9,46.4 160.9,47.5 161.0,46.8 161.1,46.5 161.1,47.1 161.2,47.0 161.2,47.4 161.3,46.3 161.4,47.2 161.4,48.5 161.5,49.9 161.6,51.0 161.6,51.5 161.7,51.7 161.7,51.6 161.8,50.8 161.9,49.9 161.9,48.7 162.0,46.9 162.0,46.3 162.1,47.5 162.2,47.4 162.2,45.3 162.3,43.3 162.3,41.8 162.4,41.4 162.5,41.5 162.5,41.4 162.6,41.9 162.7,43.1 162.7,45.7 162.8,49.4 162.8,49.0 162.9,47.6 163.0,47.0 163.0,47.2 163.1,46.6 163.1,48.4 163.2,48.7 163.3,48.0 163.3,46.7 163.4,47.2 163.4,48.2 163.5,48.3 163.6,46.5 163.6,44.7 163.7,43.6 163.8,43.2 163.8,43.1 163.9,43.3 163.9,43.8 164.0,44.9 164.1,46.4 164.1,48.2 164.2,49.3 164.2,50.7 164.3,51.8 164.4,52.4 164.4,52.4 164.5,52.2 164.5,51.7 164.6,51.0 164.7,50.5 164.7,49.4 164.8,48.4 164.9,49.0 164.9,50.4 165.0,51.5 165.0,52.2 165.1,52.1 165.2,51.9 165.2,51.6 165.3,50.6 165.3,48.9 165.4,46.4 165.5,45.1 165.5,44.3 165.6,43.6 165.7,43.6 165.7,43.5 165.8,44.2 165.8,45.2 165.9,46.3 166.0,47.6 166.0,49.2 166.1,50.4 166.1,51.3 166.2,51.8 166.3,51.8 166.3,51.4 166.4,50.7 166.4,49.7 166.5,49.3 166.6,49.2 166.6,48.1 166.7,48.6 166.8,48.7 166.8,48.2 166.9,49.5 166.9,51.3 167.0,51.8 167.1,51.4 167.1,50.3 167.2,51.0 167.2,52.2 167.3,52.7 167.4,52.9 167.4,52.9 167.5,52.2 167.5,51.0 167.6,49.9 167.7,49.4 167.7,47.9 167.8,46.9 167.9,47.7 167.9,47.9 168.0,45.9 168.0,44.0 168.1,42.8 168.2,42.3 168.2,42.3 168.3,42.5 168.3,43.0 168.4,43.9 168.5,45.4 168.5,47.0 168.6,48.8 168.7,49.7 168.7,48.5 168.8,47.3 168.8,48.5 168.9,49.4 169.0,49.7 169.0,51.0 169.1,52.1 169.1,52.8 169.2,52.9 169.3,52.7 169.3,52.1 169.4,50.9 169.4,48.9 169.5,45.6 169.6,44.9 169.6,45.5 169.7,46.1 169.8,47.1 169.8,47.8 169.9,47.7 169.9,48.3 170.0,49.2 170.1,49.4 170.1,49.4 170.2,48.9 170.2,48.8 170.3,51.2 170.4,53.3 170.4,54.6 170.5,55.8 170.5,56.6 170.6,56.7 170.7,55.9 170.7,55.5 170.8,55.5 170.9,57.5 170.9,60.6 171.0,62.3 171.0,62.3 171.1,62.0 171.2,61.0 171.2,58.9 171.3,58.0 171.3,59.2 171.4,60.4 171.5,60.5 171.5,60.2 171.6,59.3 171.6,57.9 171.7,56.7 171.8,54.6 171.8,53.6 171.9,54.4 172.0,54.6 172.0,55.7 172.1,56.1 172.1,54.6 172.2,50.9 172.3,48.9 172.3,48.4 172.4,48.4 172.4,47.9 172.5,47.5 172.6,47.3 172.6,47.2 172.7,47.9 172.8,48.9 172.8,50.8 172.9,54.6 172.9,55.4 173.0,55.8 173.1,56.5 173.1,57.8 173.2,58.5 173.2,58.5 173.3,57.0 173.4,55.5 173.4,54.2 173.5,53.9 173.5,54.4 173.6,53.9 173.7,55.0 173.7,55.5 173.8,55.0 173.9,53.9 173.9,52.7 174.0,54.4 174.0,54.8 174.1,53.0 174.2,52.9 174.2,52.3 174.3,51.3 174.3,50.5 174.4,49.6 174.5,48.3 174.5,47.2 174.6,46.5 174.6,46.3 174.7,46.7 174.8,47.1 174.8,48.3 174.9,50.1 175.0,51.1 175.0,51.5 175.1,53.4 175.1,54.7 175.2,55.0 175.3,54.5 175.3,52.9 175.4,51.4 175.4,52.7 175.5,53.8 175.6,54.9 175.6,56.2 175.7,57.4 175.7,58.8 175.8,58.9 175.9,58.5 175.9,57.5 176.0,56.3 176.1,54.5 176.1,53.2 176.2,53.5 176.2,53.9 176.3,52.5 176.4,51.7 176.4,53.4 176.5,54.9 176.5,54.5 176.6,50.2 176.7,47.9 176.7,47.0 176.8,46.4 176.9,46.9 176.9,51.8 177.0,54.8 177.0,55.8 177.1,56.5 177.2,56.8 177.2,56.7 177.3,55.9 177.3,55.1 177.4,54.7 177.5,55.2 177.5,55.6 177.6,54.5 177.6,54.9 177.7,54.8 177.8,54.2 177.8,54.3 177.9,54.0 178.0,54.6 178.0,56.6 178.1,58.7 178.1,61.4 178.2,62.5 178.3,62.6 178.3,62.7 178.4,61.5 178.4,59.0 178.5,57.5 178.6,56.7 178.6,54.9 178.7,53.4 178.7,52.6 178.8,53.1 178.9,52.5 178.9,51.6 179.0,51.9 179.1,51.8 179.1,51.0 179.2,51.2 179.2,50.9 179.3,50.3 179.4,49.7 179.4,48.4 179.5,47.5 179.5,46.9 179.6,46.7 179.7,46.7 179.7,47.1 179.8,48.1 179.8,49.5 179.9,50.8 180.0,50.4 180.0,50.9 180.1,51.1 180.2,51.6 180.2,51.4 180.3,51.8 180.3,52.7 180.4,53.4 180.5,53.2 180.5,52.9 180.6,53.5 180.6,54.2 180.7,54.4 180.8,54.4 180.8,53.9 180.9,52.8 181.0,50.5 181.0,46.5 181.1,45.6 181.1,45.6 181.2,46.3 181.3,47.7 181.3,48.8 181.4,49.9 181.4,50.5 181.5,50.0 181.6,50.4 181.6,51.3 181.7,50.7 181.7,50.5 181.8,51.8 181.9,53.2 181.9,53.8 182.0,53.7 182.1,52.8 182.1,53.0 182.2,52.9 182.2,51.8 182.3,52.0 182.4,53.2 182.4,54.3 182.5,55.0 182.5,55.2 182.6,55.1 182.7,54.5 182.7,53.5 182.8,52.5 182.8,52.1 182.9,51.3 183.0,50.2 183.0,49.8 183.1,50.0 183.2,48.6 183.2,47.3 183.3,46.1 183.3,45.6 183.4,45.7 183.5,45.7 183.5,46.1 183.6,47.4 183.6,48.9 183.7,50.4 183.8,52.4 183.8,52.7 183.9,52.1 183.9,52.6 184.0,53.6 184.1,54.6 184.1,55.2 184.2,55.4 184.3,55.3 184.3,54.4 184.4,53.5 184.4,52.3 184.5,51.2 184.6,51.5 184.6,52.5 184.7,52.6 184.7,51.6 184.8,51.7 184.9,52.1 184.9,50.9 185.0,51.0 185.1,51.7 185.1,51.8 185.2,51.4 185.2,52.1 185.3,52.8 185.4,53.1 185.4,53.9 185.5,54.9 185.5,55.7 185.6,55.9 185.7,55.8 185.7,55.3 185.8,54.2 185.8,53.1 185.9,52.7 186.0,52.7 186.0,52.4 186.1,52.8 186.2,53.6 186.2,54.0 186.3,53.9 186.3,52.5 186.4,51.0 186.5,52.3 186.5,53.2 186.6,52.3 186.6,52.4 186.7,52.9 186.8,52.3 186.8,52.0 186.9,52.1 186.9,51.6 187.0,51.2 187.1,51.7 187.1,52.0 187.2,52.3 187.3,52.7 187.3,53.0 187.4,54.1 187.4,55.2 187.5,55.6 187.6,55.9 187.6,55.9 187.7,55.2 187.7,54.0 187.8,52.1 187.9,48.9 187.9,48.1 188.0,48.0 188.1,48.1 188.1,48.7 188.2,49.3 188.2,50.5 188.3,52.3 188.4,53.5 188.4,54.0 188.5,53.6 188.5,52.3 188.6,52.1 188.7,52.0 188.7,51.7 188.8,50.7 188.8,49.8 188.9,49.3 189.0,50.3 189.0,53.5 189.1,55.5 189.2,56.5 189.2,56.9 189.3,57.0 189.3,57.1 189.4,56.4 189.5,55.2 189.5,53.1 189.6,50.2 189.6,49.2 189.7,49.0 189.8,49.2 189.8,49.5 189.9,50.3 189.9,51.1 190.0,51.4 190.1,51.6 190.1,52.9 190.2,53.2 190.3,52.6 190.3,52.4 190.4,52.8 190.4,53.0 190.5,53.0 190.6,53.9 190.6,53.7 190.7,53.5 190.7,53.0 190.8,53.0 190.9,51.6 190.9,50.3 191.0,49.5 191.0,48.9 191.1,48.7 191.2,48.8 191.2,49.4 191.3,50.3 191.4,51.4 191.4,52.4 191.5,52.5 191.5,52.9 191.6,52.6 191.7,53.4 191.7,54.5 191.8,54.8 191.8,55.0 191.9,55.8 192.0,56.4 192.0,56.6 192.1,56.7 192.2,55.9 192.2,54.8 192.3,53.5 192.3,52.7 192.4,53.9 192.5,54.0 192.5,53.8 192.6,53.1 192.6,53.4 192.7,53.5 192.8,52.2 192.8,51.6 192.9,53.5 192.9,53.3 193.0,52.7 193.1,53.1 193.1,54.0 193.2,54.9 193.3,55.9 193.3,56.7 193.4,56.9 193.4,56.8 193.5,56.0 193.6,54.8 193.6,52.8 193.7,50.0 193.7,48.7 193.8,48.4 193.9,48.3 193.9,48.4 194.0,48.8 194.0,49.9 194.1,51.2 194.2,52.6 194.2,53.5 194.3,52.5 194.4,52.2 194.4,52.6 194.5,52.5 194.5,53.9 194.6,55.4 194.7,56.5 194.7,57.3 194.8,57.4 194.8,57.1 194.9,56.4 195.0,55.7 195.0,54.4 195.1,53.9 195.1,53.7 195.2,52.4 195.3,52.1 195.3,52.4 195.4,51.4 195.5,50.2 195.5,49.2 195.6,48.6 195.6,48.3 195.7,48.5 195.8,49.0 195.8,50.2 195.9,51.7 195.9,52.5 196.0,52.4 196.1,52.9 196.1,54.0 196.2,55.1 196.3,56.1 196.3,56.5 196.4,56.2 196.4,55.2 196.5,54.6 196.6,54.6 196.6,54.1 196.7,53.8 196.7,53.8 196.8,52.7 196.9,53.5 196.9,53.8 197.0,52.9 197.0,52.1 197.1,52.2 197.2,53.3 197.2,53.4 197.3,54.5 197.4,56.0 197.4,57.1 197.5,58.0 197.5,58.1 197.6,57.9 197.7,57.3 197.7,56.1 197.8,53.9 197.8,49.8 197.9,49.0 198.0,49.7 198.0,50.7 198.1,52.2 198.1,54.4 198.2,54.6 198.3,53.6 198.3,53.6 198.4,53.3 198.5,52.7 198.5,51.8 198.6,51.0 198.6,50.7 198.7,51.0 198.8,52.4 198.8,53.8 198.9,53.4 198.9,54.4 199.0,55.5 199.1,56.4 199.1,57.1 199.2,57.4 199.2,57.3 199.3,57.0 199.4,56.0 199.4,54.5 199.5,53.2 199.6,52.9 199.6,53.0 199.7,52.9 199.7,53.3 199.8,53.7 199.9,53.5 199.9,53.5 200.0,52.6 200.0,51.9 200.1,51.0 200.2,50.0 200.2,49.4 200.3,49.4 200.4,49.3 200.4,50.0 200.5,51.5 200.5,54.7 200.6,57.0 200.7,58.5 200.7,59.0 200.8,59.3 200.8,59.0 200.9,58.2 201.0,56.9 201.0,55.0 201.1,53.7 201.1,54.8 201.2,56.3 201.3,56.6 201.3,56.0 201.4,54.9 201.5,53.5 201.5,52.4 201.6,53.6 201.6,55.2 201.7,56.9 201.8,58.3 201.8,58.7 201.9,58.7 201.9,58.7 202.0,58.1 202.1,57.0 202.1,54.7 202.2,50.4 202.2,50.0 202.3,51.0 202.4,52.0 202.4,53.4 202.5,54.2 202.6,52.4 202.6,51.1 202.7,50.9 202.7,51.3 202.8,52.3 202.9,53.5 202.9,53.5 203.0,53.9 203.0,54.7 203.1,53.9 203.2,53.8 203.2,54.4 203.3,54.0 203.4,54.2 203.4,53.4 203.5,54.4 203.5,55.7 203.6,57.0 203.7,57.8 203.7,58.4 203.8,58.5 203.8,58.4 203.9,57.8 204.0,56.7 204.0,55.2 204.1,53.6 204.1,53.4 204.2,54.6 204.3,54.6 204.3,52.0 204.4,50.2 204.5,49.0 204.5,48.4 204.6,48.4 204.6,48.4 204.7,48.9 204.8,50.1 204.8,52.6 204.9,56.1 204.9,55.6 205.0,54.2 205.1,53.9 205.1,54.0 205.2,53.5 205.2,55.1 205.3,55.3 205.4,54.7 205.4,53.5 205.5,53.8 205.6,54.8 205.6,55.0 205.7,53.1 205.7,51.4 205.8,50.4 205.9,50.0 205.9,50.0 206.0,50.3 206.0,50.9 206.1,51.8 206.2,53.4 206.2,55.5 206.3,56.3 206.3,57.6 206.4,58.7 206.5,59.2 206.5,59.3 206.6,58.9 206.7,58.4 206.7,57.7 206.8,57.2 206.8,56.3 206.9,55.2 207.0,55.8 207.0,56.9 207.1,58.0 207.1,58.6 207.2,58.7 207.3,58.7 207.3,58.3 207.4,57.2 207.5,55.7 207.5,53.4 207.6,51.8 207.6,51.0 207.7,50.3 207.8,50.0 207.8,50.3 207.9,51.0 207.9,51.8 208.0,53.1 208.1,54.3 208.1,55.4 208.2,56.6 208.2,57.6 208.3,58.2 208.4,58.4 208.4,58.2 208.5,57.8 208.6,57.0 208.6,55.9 208.7,55.5 208.7,54.4 208.8,54.8 208.9,55.0 208.9,54.8 209.0,56.5 209.0,57.9 209.1,58.3 209.2,57.8 209.2,57.0 209.3,57.7 209.3,58.7 209.4,59.1 209.5,59.3 209.5,59.0 209.6,58.5 209.7,57.5 209.7,56.8 209.8,56.0 209.8,54.6 209.9,53.6 210.0,54.3 210.0,54.4 210.1,52.3 210.1,50.5 210.2,49.4 210.3,48.8 210.3,48.9 210.4,49.0 210.4,49.3 210.5,50.7 210.6,52.2 210.6,53.6 210.7,55.2 210.8,56.3 210.8,54.9 210.9,54.1 210.9,55.2 211.0,55.7 211.1,56.1 211.1,56.9 211.2,58.2 211.2,58.6 211.3,58.8 211.4,58.7 211.4,58.4 211.5,57.3 211.6,55.2 211.6,51.8 211.7,50.9 211.7,51.4 211.8,52.3 211.9,53.1 211.9,53.9 212.0,54.0 212.0,54.6 212.1,55.3 212.2,55.1 212.2,55.2 212.3,54.8 212.3,54.8 212.4,57.3 212.5,59.3 212.5,60.8 212.6,62.0 212.7,62.9 212.7,62.9 212.8,62.0 212.8,61.3 212.9,61.4 213.0,63.3 213.0,66.3 213.1,67.9 213.1,68.2 213.2,68.0 213.3,67.1 213.3,65.2 213.4,64.2 213.4,65.3 213.5,66.4 213.6,67.0 213.6,66.7 213.7,65.5 213.8,64.0 213.8,62.6 213.9,60.6 213.9,59.8 214.0,60.7 214.1,60.9 214.1,61.6 214.2,62.1 214.2,61.0 214.3,57.4 214.4,55.3 214.4,54.8 214.5,54.9 214.5,54.2 214.6,53.4 214.7,53.2 214.7,53.4 214.8,53.8 214.9,54.9 214.9,57.2 215.0,60.6 215.0,61.4 215.1,61.9 215.2,63.0 215.2,64.5 215.3,64.9 215.3,64.4 215.4,62.8 215.5,61.6 215.5,60.2 215.6,60.2 215.7,60.9 215.7,60.1 215.8,60.7 215.8,61.1 215.9,60.5 216.0,59.5 216.0,58.3 216.1,60.2 216.1,60.8 216.2,59.1 216.3,58.9 216.3,58.1 216.4,57.2 216.4,56.5 216.5,55.6 216.6,54.2 216.6,52.8 216.7,52.2 216.8,52.1 216.8,52.2 216.9,52.9 216.9,54.3 217.0,55.9 217.1,57.1 217.1,57.7 217.2,59.5 217.2,60.5 217.3,60.9 217.4,60.5 217.4,59.1 217.5,57.4 217.5,58.5 217.6,59.9 217.7,61.0 217.7,62.1 217.8,63.1 217.9,64.9 217.9,64.9 218.0,64.3 218.0,63.2 218.1,62.0 218.2,60.2 218.2,59.2 218.3,59.3 218.3,59.7 218.4,58.3 218.5,57.7 218.5,59.4 218.6,60.6 218.7,60.2 218.7,56.5 218.8,53.9 218.8,52.8 218.9,52.2 219.0,52.7 219.0,57.4 219.1,60.3 219.1,61.5 219.2,62.2 219.3,62.1 219.3,62.0 219.4,61.6 219.4,60.8 219.5,60.6 219.6,60.8 219.6,61.2 219.7,60.6 219.8,60.8 219.8,60.7 219.9,60.1 219.9,59.8 220.0,59.2 220.1,60.1 220.1,62.3 220.2,64.2 220.2,66.8 220.3,67.9 220.4,68.1 220.4,68.4 220.5,66.9 220.5,64.3 220.6,62.9 220.7,62.4 220.7,60.5 220.8,59.0 220.9,58.5 220.9,58.7 221.0,58.0 221.0,57.3 221.1,57.6 221.2,57.5 221.2,56.6 221.3,56.6 221.3,56.6 221.4,55.9 221.5,54.8 221.5,54.1 221.6,53.3 221.6,52.5 221.7,52.2 221.8,52.0 221.8,52.6 221.9,53.6 222.0,55.1 222.0,56.4 222.1,55.5 222.1,56.2 222.2,56.9 222.3,57.1 222.3,56.7 222.4,57.2 222.4,58.2 222.5,58.4 222.6,58.5 222.6,58.7 222.7,59.3 222.8,59.9 222.8,60.1 222.9,60.1 222.9,59.6 223.0,58.7 223.1,56.5 223.1,51.9 223.2,50.8 223.2,51.0 223.3,51.6 223.4,52.6 223.4,54.1 223.5,55.4 223.5,55.6 223.6,54.8 223.7,55.5 223.7,56.5 223.8,55.9 223.9,55.7 223.9,57.3 224.0,58.8 224.0,59.1 224.1,58.7 224.2,58.0 224.2,58.3 224.3,57.9 224.3,56.9 224.4,57.3 224.5,58.8 224.5,59.9 224.6,60.3 224.6,60.2 224.7,60.2 224.8,59.7 224.8,58.5 224.9,57.5 225.0,57.4 225.0,57.0 225.1,56.0 225.1,55.5 225.2,55.8 225.3,54.2 225.3,52.5 225.4,51.3 225.4,50.7 225.5,50.5 225.6,50.6 225.6,51.3 225.7,52.4 225.7,53.8 225.8,55.3 225.9,57.1 225.9,57.7 226.0,57.4 226.1,57.7 226.1,58.7 226.2,59.6 226.2,60.2 226.3,60.2 226.4,60.0 226.4,59.6 226.5,58.7 226.5,57.5 226.6,56.6 226.7,56.7 226.7,57.3 226.8,57.3 226.9,56.3 226.9,56.9 227.0,57.7 227.0,56.3 227.1,55.9 227.2,56.6 227.2,57.0 227.3,56.9 227.3,57.3 227.4,57.9 227.5,58.0 227.5,59.1 227.6,60.2 227.6,60.8 227.7,60.9 227.8,61.0 227.8,60.3 227.9,59.1 228.0,58.0 228.0,57.5 228.1,57.4 228.1,57.5 228.2,58.1 228.3,58.8 228.3,59.0 228.4,58.9 228.4,57.5 228.5,55.9 228.6,57.0 228.6,58.1 228.7,57.2 228.7,57.2 228.8,58.0 228.9,57.0 228.9,57.1 229.0,57.6 229.1,56.6 229.1,56.2 229.2,56.7 229.2,56.8 229.3,57.4 229.4,57.7 229.4,58.0 229.5,59.1 229.5,60.0 229.6,60.7 229.7,60.7 229.7,60.2 229.8,59.7 229.8,59.0 229.9,57.3 230.0,54.0 230.0,52.6 230.1,52.5 230.2,52.8 230.2,53.3 230.3,54.2 230.3,55.7 230.4,57.3 230.5,58.2 230.5,58.7 230.6,58.3 230.6,57.3 230.7,57.0 230.8,56.7 230.8,56.5 230.9,55.1 231.0,54.0 231.0,53.8 231.1,54.9 231.1,58.2 231.2,60.0 231.3,61.2 231.3,61.9 231.4,62.0 231.4,61.6 231.5,61.0 231.6,60.1 231.6,58.0 231.7,54.7 231.7,53.6 231.8,53.5 231.9,53.4 231.9,54.1 232.0,54.8 232.1,55.8 232.1,56.4 232.2,56.6 232.2,58.0 232.3,58.6 232.4,57.7 232.4,57.1 232.5,57.5 232.5,57.8 232.6,58.0 232.7,59.0 232.7,58.5 232.8,58.4 232.8,57.9 232.9,57.5 233.0,56.3 233.0,55.3 233.1,54.2 233.2,53.7 233.2,53.6 233.3,53.8 233.3,54.3 233.4,55.2 233.5,56.0 233.5,56.7 233.6,57.3 233.6,57.9 233.7,57.4 233.8,58.5 233.8,59.4 233.9,59.6 234.0,59.9 234.0,60.6 234.1,61.1 234.1,61.3 234.2,61.0 234.3,60.3 234.3,59.4 234.4,58.2 234.4,57.6 234.5,58.8 234.6,58.6 234.6,58.6 234.7,58.3 234.7,58.5 234.8,58.5 234.9,57.5 234.9,56.9 235.0,58.7 235.1,58.3 235.1,57.5 235.2,58.0 235.2,58.8 235.3,59.9 235.4,60.9 235.4,61.5 235.5,61.8 235.5,61.8 235.6,61.1 235.7,59.8 235.7,57.9 235.8,55.1 235.8,53.8 235.9,53.0 236.0,52.8 236.0,53.0 236.1,53.9 236.2,54.8 236.2,56.0 236.3,57.5 236.3,58.4 236.4,57.2 236.5,57.1 236.5,57.5 236.6,57.3 236.6,59.0 236.7,60.5 236.8,61.4 236.8,61.8 236.9,62.0 236.9,61.7 237.0,61.2 237.1,60.3 237.1,59.1 237.2,58.7 237.3,58.7 237.3,57.7 237.4,57.3 237.4,57.8 237.5,56.4 237.6,55.2 237.6,54.1 237.7,53.5 237.7,53.6 237.8,53.7 237.9,54.5 237.9,55.5 238.0,56.5 238.1,57.4 238.1,57.5 238.2,58.2 238.2,59.2 238.3,60.1 238.4,61.0 238.4,61.3 238.5,60.9 238.5,59.9 238.6,59.6 238.7,59.6 238.7,59.1 238.8,59.0 238.8,59.0 238.9,57.8 239.0,58.5 239.0,59.0 239.1,58.4 239.2,57.4 239.2,57.4 239.3,58.4 239.3,58.7 239.4,59.9 239.5,61.5 239.5,62.5 239.6,63.0 239.6,63.0 239.7,62.9 239.8,62.3 239.8,61.3 239.9,59.0 239.9,55.3 240.0,54.3 240.1,54.9 240.1,55.8 240.2,57.3 240.3,59.4 240.3,60.1 240.4,58.8 240.4,58.5 240.5,58.5 240.6,58.3 240.6,57.1 240.7,55.8 240.7,55.5 240.8,56.0 240.9,57.4 240.9,58.8 241.0,58.6 241.0,59.6 241.1,60.7 241.2,61.7 241.2,62.4 241.3,62.3 241.4,62.3 241.4,61.8 241.5,61.0 241.5,59.7 241.6,58.4 241.7,58.0 241.7,57.7 241.8,57.8 241.8,58.4 241.9,58.6 242.0,58.4 242.0,58.2 242.1,57.7 242.2,57.3 242.2,56.3 242.3,55.3 242.3,54.7 242.4,54.7 242.5,54.7 242.5,55.4 242.6,57.0 242.6,60.2 242.7,62.4 242.8,63.3 242.8,63.8 242.9,64.3 242.9,64.3 243.0,63.4 243.1,62.1 243.1,60.3 243.2,58.8 243.3,59.8 243.3,61.2 243.4,61.7 243.4,61.5 243.5,60.3 243.6,58.9 243.6,58.0 243.7,59.0 243.7,60.8 243.8,62.5 243.9,63.5 243.9,63.8 244.0,64.2 244.0,64.0 244.1,63.4 244.2,62.1 244.2,59.5 244.3,55.4 244.4,55.3 244.4,56.3 244.5,57.4 244.5,58.4 244.6,59.1 244.7,57.6 244.7,56.2 244.8,56.0 244.8,56.3 244.9,57.5 245.0,58.7 245.0,58.3 245.1,58.7 245.2,59.8 245.2,59.1 245.3,58.7 245.3,59.5 245.4,59.6 245.5,59.8 245.5,58.7 245.6,59.4 245.6,60.9 245.7,62.2 245.8,63.5 245.8,63.8 245.9,63.9 245.9,64.0 246.0,63.6 246.1,62.4 246.1,61.0 246.2,59.5 246.3,59.2 246.3,60.1 246.4,59.8 246.4,57.6 246.5,55.5 246.6,54.2 246.6,53.6 246.7,53.5 246.7,53.7 246.8,54.1 246.9,55.3 246.9,57.9 247.0,61.3 247.0,61.0 247.1,59.3 247.2,59.1 247.2,59.5 247.3,58.9 247.4,60.6 247.4,61.0 247.5,60.4 247.5,58.7 247.6,59.1 247.7,59.8 247.7,60.1 247.8,58.5 247.8,57.0 247.9,56.2 248.0,55.5 248.0,55.6 248.1,55.7 248.1,56.1 248.2,56.7 248.3,58.3 248.3,60.5 248.4,61.5 248.5,62.8 248.5,63.7 248.6,64.5 248.6,65.0 248.7,64.6 248.8,64.0 248.8,63.2 248.9,62.4 248.9,61.3 249.0,60.3 249.1,61.0 249.1,62.5 249.2,63.7 249.3,64.2 249.3,64.3 249.4,64.2 249.4,63.3 249.5,62.4 249.6,61.2 249.6,58.7 249.7,56.9 249.7,56.1 249.8,55.6 249.9,55.8 249.9,55.7 250.0,56.2 250.0,57.3 250.1,58.4 250.2,59.7 250.2,60.8 250.3,61.8 250.4,63.1 250.4,63.8 250.5,63.7 250.5,63.3 250.6,62.8 250.7,62.0 250.7,61.3 250.8,61.4 250.8,60.4 250.9,60.6 251.0,60.6 251.0,59.9 251.1,61.8 251.1,63.3 251.2,64.1 251.3,63.7 251.3,62.6 251.4,63.0 251.5,64.1 251.5,64.8 251.6,64.9 251.6,64.6 251.7,64.1 251.8,63.3 251.8,62.2 251.9,61.4 251.9,59.9 252.0,59.0 252.1,59.7 252.1,59.7 252.2,57.8 252.2,55.8 252.3,54.6 252.4,54.3 252.4,54.3 252.5,54.4 252.6,54.8 252.6,56.1 252.7,57.9 252.7,59.3 252.8,60.6 252.9,61.3 252.9,60.2 253.0,59.1 253.0,60.2 253.1,61.3 253.2,61.8 253.2,62.4 253.3,63.5 253.4,64.1 253.4,64.5 253.5,64.5 253.5,63.9 253.6,62.6 253.7,60.6 253.7,57.3 253.8,56.6 253.8,56.9 253.9,57.6 254.0,58.9 254.0,59.7 254.1,59.6 254.1,60.2 254.2,61.2 254.3,61.1 254.3,60.9 254.4,60.6 254.5,60.4 254.5,62.7 254.6,65.1 254.6,66.3 254.7,67.7 254.8,68.3 254.8,67.9 254.9,67.5 254.9,66.7 255.0,66.7 255.1,68.6 255.1,71.9 255.2,73.2 255.2,74.1 255.3,74.4 255.4,73.0 255.4,70.2 255.5,69.4 255.6,70.6 255.6,72.3 255.7,72.4 255.7,72.0 255.8,70.8 255.9,69.5 255.9,68.3 256.0,66.2 256.0,65.1 256.1,65.8 256.2,66.2 256.2,67.6 256.3,68.1 256.3,66.6 256.4,62.9 256.5,60.7 256.5,60.4 256.6,60.2 256.7,59.7 256.7,59.3 256.8,59.3 256.8,59.1 256.9,59.3 257.0,60.7 257.0,63.1 257.1,66.5 257.1,67.1 257.2,67.5 257.3,68.9 257.3,69.9 257.4,70.1 257.5,69.9 257.5,68.7 257.6,67.1 257.6,65.8 257.7,65.9 257.8,66.4 257.8,65.8 257.9,66.7 257.9,66.9 258.0,66.3 258.1,65.2 258.1,64.5 258.2,66.0 258.2,66.4 258.3,64.7 258.4,64.6 258.4,63.9 258.5,62.9 258.6,62.2 258.6,61.0 258.7,59.6 258.7,58.3 258.8,57.8 258.9,57.9 258.9,58.0 259.0,58.5 259.0,59.4 259.1,61.0 259.2,62.6 259.2,63.1 259.3,64.8 259.3,66.3 259.4,66.7 259.5,66.4 259.5,64.6 259.6,63.0 259.7,64.5 259.7,65.5 259.8,66.6 259.8,67.8 259.9,68.9 260.0,70.0 260.0,70.7 260.1,70.1 260.1,68.9 260.2,67.5 260.3,65.6 260.3,64.6 260.4,65.0 260.4,65.8 260.5,64.4 260.6,63.5 260.6,64.9 260.7,66.1 260.8,65.7 260.8,62.0 260.9,59.4 260.9,58.5 261.0,58.0 261.1,58.7 261.1,63.4 261.2,66.4 261.2,67.4 261.3,68.0 261.4,68.2 261.4,67.8 261.5,67.0 261.6,66.3 261.6,66.1 261.7,66.6 261.7,67.0 261.8,66.2 261.9,66.7 261.9,66.3 262.0,65.3 262.0,65.3 262.1,65.1 262.2,65.9 262.2,67.9 262.3,70.0 262.3,72.4 262.4,73.7 262.5,73.8 262.5,73.6 262.6,72.5 262.7,70.4 262.7,68.8 262.8,67.9 262.8,66.1 262.9,64.6 263.0,63.9 263.0,64.4 263.1,63.7 263.1,62.9 263.2,63.2 263.3,63.1 263.3,62.3 263.4,62.3 263.4,61.9 263.5,61.4 263.6,61.0 263.6,60.0 263.7,58.9 263.8,58.1 263.8,58.0 263.9,58.0 263.9,58.2 264.0,59.1 264.1,60.7 264.1,62.1 264.2,61.5 264.2,62.0 264.3,62.3 264.4,62.8 264.4,62.4 264.5,62.8 264.6,64.1 264.6,64.5 264.7,64.3 264.7,64.5 264.8,65.4 264.9,65.8 264.9,66.0 265.0,65.7 265.0,65.0 265.1,64.2 265.2,61.8 265.2,57.6 265.3,56.6 265.3,56.7 265.4,57.7 265.5,58.7 265.5,60.0 265.6,61.4 265.7,61.8 265.7,61.1 265.8,61.5 265.8,62.3 265.9,61.7 266.0,61.7 266.0,62.9 266.1,64.1 266.1,64.8 266.2,64.5 266.3,63.9 266.3,64.2 266.4,63.8 266.4,62.8 266.5,63.0 266.6,64.2 266.6,65.3 266.7,65.9 266.8,66.1 266.8,66.1 266.9,65.5 266.9,64.4 267.0,63.3 267.1,63.1 267.1,62.3 267.2,61.1 267.2,60.8 267.3,61.4 267.4,60.2 267.4,58.4 267.5,57.1 267.5,56.6 267.6,56.7 267.7,56.7 267.7,57.2 267.8,58.5 267.9,60.0 267.9,61.5 268.0,63.3 268.0,63.5 268.1,63.0 268.2,63.7 268.2,64.6 268.3,65.6 268.3,66.1 268.4,66.2 268.5,66.3 268.5,65.7 268.6,64.5 268.7,63.2 268.7,62.1 268.8,62.3 268.8,63.2 268.9,63.1 269.0,62.5 269.0,63.1 269.1,63.4 269.1,61.9 269.2,61.8 269.3,62.8 269.3,63.0 269.4,62.9 269.4,63.5 269.5,63.9 269.6,63.8 269.6,64.7 269.7,65.9 269.8,66.8 269.8,67.0 269.9,66.6 269.9,66.0 270.0,65.2 270.1,64.0 270.1,63.5 270.2,63.6 270.2,63.7 270.3,64.1 270.4,64.6 270.4,64.8 270.5,64.3 270.5,63.1 270.6,61.7 270.7,63.0 270.7,64.2 270.8,63.3 270.9,63.3 270.9,64.1 271.0,63.2 271.0,63.2 271.1,63.2 271.2,62.3 271.2,62.2 271.3,63.0 271.3,62.9 271.4,63.4 271.5,63.6 271.5,64.1 271.6,65.1 271.6,66.0 271.7,66.7 271.8,66.7 271.8,66.7 271.9,66.3 272.0,65.1 272.0,63.3 272.1,60.2 272.1,59.1 272.2,58.9 272.3,58.6 272.3,59.2 272.4,60.2 272.4,61.5 272.5,63.0 272.6,64.1 272.6,64.8 272.7,64.1 272.8,63.3 272.8,62.9 272.9,62.5 272.9,62.7 273.0,61.5 273.1,60.5 273.1,60.2 273.2,61.0 273.2,64.1 273.3,66.1 273.4,67.2 273.4,67.9 273.5,68.1 273.5,67.9 273.6,67.2 273.7,66.2 273.7,64.1 273.8,60.6 273.9,59.2 273.9,59.2 274.0,59.6 274.0,60.2 274.1,61.0 274.2,61.9 274.2,62.1 274.3,62.3 274.3,63.7 274.4,64.3 274.5,63.7 274.5,62.9 274.6,63.6 274.6,63.8 274.7,63.5 274.8,64.6 274.8,64.5 274.9,64.3 275.0,63.7 275.0,63.3 275.1,61.9 275.1,60.7 275.2,60.0 275.3,59.5 275.3,59.6 275.4,59.5 275.4,60.1 275.5,61.2 275.6,61.9 275.6,62.6 275.7,63.2 275.8,63.6 275.8,63.3 275.9,64.2 275.9,65.3 276.0,65.7 276.1,65.6 276.1,66.3 276.2,66.9 276.2,67.0 276.3,66.9 276.4,66.5 276.4,65.6 276.5,64.1 276.5,63.4 276.6,64.4 276.7,64.4 276.7,64.4 276.8,64.3 276.9,64.5 276.9,64.2 277.0,63.1 277.0,62.8 277.1,64.5 277.2,64.1 277.2,63.7 277.3,63.6 277.3,64.4 277.4,65.7 277.5,66.8 277.5,67.4 277.6,67.3 277.6,67.2 277.7,66.8 277.8,65.8 277.8,64.1 277.9,61.1 278.0,59.5 278.0,58.9 278.1,59.0 278.1,59.3 278.2,59.7 278.3,60.6 278.3,61.8 278.4,63.4 278.4,64.1 278.5,63.2 278.6,63.2 278.6,63.5 278.7,63.8 278.7,65.0 278.8,66.1 278.9,67.2 278.9,67.7 279.0,67.9 279.1,67.8 279.1,67.3 279.2,66.1 279.2,64.9 279.3,64.7 279.4,64.6 279.4,63.4 279.5,63.3 279.5,63.5 279.6,62.2 279.7,60.7 279.7,59.9 279.8,59.7 279.9,59.5 279.9,59.4 280.0,60.0 280.0,61.2 280.1,62.6 280.2,63.4 280.2,63.4 280.3,64.2 280.3,65.1 280.4,66.0 280.5,66.8 280.5,66.9 280.6,66.8 280.6,65.9 280.7,65.4 280.8,65.1 280.8,64.8 280.9,64.8 281.0,64.6 281.0,63.4 281.1,64.1 281.1,64.6 281.2,64.2 281.3,63.1 281.3,63.2 281.4,64.4 281.4,64.3 281.5,65.6 281.6,67.2 281.6,68.4 281.7,68.9 281.7,69.1 281.8,68.8 281.9,68.1 281.9,67.1 282.0,64.9 282.1,60.8 282.1,60.1 282.2,60.8 282.2,61.6 282.3,63.1 282.4,65.2 282.4,65.6 282.5,64.5 282.5,64.2 282.6,64.1 282.7,63.7 282.7,62.9 282.8,61.7 282.8,61.4 282.9,61.8 283.0,63.0 283.0,64.8 283.1,64.7 283.2,65.4 283.2,66.6 283.3,67.7 283.3,68.3 283.4,68.4 283.5,68.2 283.5,67.8 283.6,66.8 283.6,65.4 283.7,64.2 283.8,63.5 283.8,63.5 283.9,63.6 284.0,63.8 284.0,64.1 284.1,63.9 284.1,64.0 284.2,63.3 284.3,62.9 284.3,61.9 284.4,60.8 284.4,60.2 284.5,60.4 284.6,60.6 284.6,61.0 284.7,62.7 284.7,65.9 284.8,67.8 284.9,69.0 284.9,70.1 285.0,70.2 285.1,70.0 285.1,69.2 285.2,67.7 285.2,65.6 285.3,64.1 285.4,65.6 285.4,67.1 285.5,67.4 285.5,66.9 285.6,65.9 285.7,64.3 285.7,63.3 285.8,64.8 285.8,66.4 285.9,68.0 286.0,69.1 286.0,69.6 286.1,70.1 286.2,69.8 286.2,68.9 286.3,67.8 286.3,65.2 286.4,60.8 286.5,60.5 286.5,61.7 286.6,62.9 286.6,63.8 286.7,64.6 286.8,63.2 286.8,61.8 286.9,61.4 286.9,61.6 287.0,63.1 287.1,64.2 287.1,64.3 287.2,64.5 287.3,65.3 287.3,64.5 287.4,64.1 287.4,65.0 287.5,65.1 287.6,65.3 287.6,64.1 287.7,65.0 287.7,66.3 287.8,67.6 287.9,68.8 287.9,69.2 288.0,69.3 288.1,69.4 288.1,68.8 288.2,67.6 288.2,66.0 288.3,64.6 288.4,64.5 288.4,65.6 288.5,65.1 288.5,62.7 288.6,60.9 288.7,59.7 288.7,59.0 288.8,58.8 288.8,58.9 288.9,59.4 289.0,60.8 289.0,63.3 289.1,66.6 289.2,66.5 289.2,65.0 289.3,64.4 289.3,64.6 289.4,64.5 289.5,66.2 289.5,65.9 289.6,65.4 289.6,64.1 289.7,64.5 289.8,65.2 289.8,65.3 289.9,63.5 289.9,62.1 290.0,61.4 290.1,61.2 290.1,60.8 290.2,60.7 290.3,61.3 290.3,62.3 290.4,64.0 290.4,66.0 290.5,66.9 290.6,68.0 290.6,69.1 290.7,69.8 290.7,69.9 290.8,69.8 290.9,69.3 290.9,68.4 291.0,68.1 291.1,67.0 291.1,66.0 291.2,66.5 291.2,68.1 291.3,69.1 291.4,69.7 291.4,69.7 291.5,69.2 291.5,68.9 291.6,68.0 291.7,66.5 291.7,63.9 291.8,62.2 291.8,61.3 291.9,60.8 292.0,61.0 292.0,61.3 292.1,61.6 292.2,62.3 292.2,63.7 292.3,65.0 292.3,66.3 292.4,67.4 292.5,68.3 292.5,68.8 292.6,69.0 292.6,69.0 292.7,68.3 292.8,67.2 292.8,66.5 292.9,66.4 292.9,65.0 293.0,65.3 293.1,65.5 293.1,65.2 293.2,67.2 293.3,68.9 293.3,69.3 293.4,68.7 293.4,67.5 293.5,68.0 293.6,69.2 293.6,69.7 293.7,69.8 293.7,69.9 293.8,69.4 293.9,68.3 293.9,67.1 294.0,66.6 294.0,65.2 294.1,64.0 294.2,64.9 294.2,65.2 294.3,63.2 294.4,61.4 294.4,60.0 294.5,59.4 294.5,59.4 294.6,59.4 294.7,60.0 294.7,61.2 294.8,62.7 294.8,64.3 294.9,65.9 295.0,66.6 295.0,65.4 295.1,64.4 295.2,65.4 295.2,66.3 295.3,67.0 295.3,67.5 295.4,68.4 295.5,69.1 295.5,69.3 295.6,69.2 295.6,68.7 295.7,67.7 295.8,65.7 295.8,62.5 295.9,61.6 295.9,62.3 296.0,63.1 296.1,63.9 296.1,64.6 296.2,64.7 296.3,65.2 296.3,66.0 296.4,65.8 296.4,65.9 296.5,65.8 296.6,65.5 296.6,67.6 296.7,69.9 296.7,71.4 296.8,72.7 296.9,73.2 296.9,73.5 297.0,72.6 297.0,71.7 297.1,72.0 297.2,74.1 297.2,77.3 297.3,79.0 297.4,79.2 297.4,78.8 297.5,77.5 297.5,75.3 297.6,74.5 297.7,75.7 297.7,77.4 297.8,77.9 297.8,77.5 297.9,75.9 298.0,74.3 298.0,73.3 298.1,71.2 298.1,70.2 298.2,71.2 298.3,71.7 298.3,72.7 298.4,73.0 298.5,71.3 298.5,67.7 298.6,65.8 298.6,65.2 298.7,65.1 298.8,64.8 298.8,64.3 298.9,63.9 298.9,63.9 299.0,64.3 299.1,65.5 299.1,67.5 299.2,71.3 299.3,72.3 299.3,72.4 299.4,73.3 299.4,74.6 299.5,75.4 299.6,75.2 299.6,73.5 299.7,72.3 299.7,71.0 299.8,70.7 299.9,71.3 299.9,70.6 300.0,71.5 300.0,71.9 300.1,71.3 300.2,69.9 300.2,69.1 300.3,70.9 300.4,71.1 300.4,69.4 300.5,69.5 300.5,68.6 300.6,67.7 300.7,67.3 300.7,66.4 300.8,64.7 300.8,63.5 300.9,63.0 301.0,62.9 301.0,62.8 301.1,63.4 301.1,64.7 301.2,66.4 301.3,67.6 301.3,67.9 301.4,69.7 301.5,71.2 301.5,71.6 301.6,71.2 301.6,69.7 301.7,67.8 301.8,69.1 301.8,70.6 301.9,71.3 301.9,72.4 302.0,73.7 302.1,75.2 302.1,75.1 302.2,74.9 302.2,74.3 302.3,72.9 302.4,71.0 302.4,69.8 302.5,70.0 302.6,70.5 302.6,69.2 302.7,68.6 302.7,70.0 302.8,71.1 302.9,70.8 302.9,67.0 303.0,64.5 303.0,63.5 303.1,62.8 303.2,63.2 303.2,68.0 303.3,71.3 303.4,72.3 303.4,72.8 303.5,73.0 303.5,72.9 303.6,72.3 303.7,71.5 303.7,71.3 303.8,71.7 303.8,71.8 303.9,70.9 304.0,71.4 304.0,71.4 304.1,70.6 304.1,70.5 304.2,70.2 304.3,71.3 304.3,73.0 304.4,74.8 304.5,77.1 304.5,79.0 304.6,79.2 304.6,78.6 304.7,77.1 304.8,75.3 304.8,73.8 304.9,73.1 304.9,71.1 305.0,69.6 305.1,69.1 305.1,69.3 305.2,69.0 305.2,68.2 305.3,68.3 305.4,68.3 305.4,67.4 305.5,67.5 305.6,67.2 305.6,66.7 305.7,66.0 305.7,64.9 305.8,63.8 305.9,63.1 305.9,62.9 306.0,62.8 306.0,63.4 306.1,64.5 306.2,65.8 306.2,67.2 306.3,66.8 306.4,67.3 306.4,67.5 306.5,68.1 306.5,67.6 306.6,68.0 306.7,69.2 306.7,69.5 306.8,69.4 306.8,69.3 306.9,70.2 307.0,71.0 307.0,70.9 307.1,70.7 307.1,70.1 307.2,69.3 307.3,66.8 307.3,62.4 307.4,61.7 307.5,62.0 307.5,62.4 307.6,63.5 307.6,65.0 307.7,66.3 307.8,66.8 307.8,66.1 307.9,66.7 307.9,67.4 308.0,66.9 308.1,66.6 308.1,68.2 308.2,70.0 308.2,70.2 308.3,69.6 308.4,68.9 308.4,69.1 308.5,68.9 308.6,68.4 308.6,68.7 308.7,69.8 308.7,70.7 308.8,71.3 308.9,71.4 308.9,71.3 309.0,70.8 309.0,70.1 309.1,68.9 309.2,68.5 309.2,67.9 309.3,66.7 309.3,66.3 309.4,66.8 309.5,65.5 309.5,63.6 309.6,62.3 309.7,61.8 309.7,61.6 309.8,61.8 309.8,62.4 309.9,63.6 310.0,65.1 310.0,66.4 310.1,68.5 310.1,68.9 310.2,68.4 310.3,68.9 310.3,70.2 310.4,71.1 310.5,71.2 310.5,71.4 310.6,71.5 310.6,70.8 310.7,69.8 310.8,68.6 310.8,67.5 310.9,67.8 310.9,68.5 311.0,68.4 311.1,67.5 311.1,68.2 311.2,68.8 311.2,67.3 311.3,67.2 311.4,67.9 311.4,68.1 311.5,68.0 311.6,68.4 311.6,69.1 311.7,69.3 311.7,70.5 311.8,71.7 311.9,72.3 311.9,72.3 312.0,71.8 312.0,71.1 312.1,70.2 312.2,69.3 312.2,68.9 312.3,69.1 312.3,68.9 312.4,69.0 312.5,69.8 312.5,70.5 312.6,70.0 312.7,68.5 312.7,67.0 312.8,68.1 312.8,69.4 312.9,68.7 313.0,68.7 313.0,69.6 313.1,68.6 313.1,68.4 313.2,68.4 313.3,67.7 313.3,67.7 313.4,68.3 313.4,68.4 313.5,68.6 313.6,69.0 313.6,69.1 313.7,70.3 313.8,71.5 313.8,72.0 313.9,72.3 313.9,72.2 314.0,71.5 314.1,70.3 314.1,68.3 314.2,65.3 314.2,64.3 314.3,64.2 314.4,64.4 314.4,65.1 314.5,66.0 314.6,67.2 314.6,68.6 314.7,69.3 314.7,70.0 314.8,69.9 314.9,68.9 314.9,68.4 315.0,68.0 315.0,67.8 315.1,66.8 315.2,65.5 315.2,65.1 315.3,66.3 315.3,69.4 315.4,71.5 315.5,72.7 315.5,73.5 315.6,73.8 315.7,73.4 315.7,72.7 315.8,71.6 315.8,69.6 315.9,66.4 316.0,65.1 316.0,65.1 316.1,65.0 316.1,65.2 316.2,66.2 316.3,67.2 316.3,67.5 316.4,67.9 316.4,69.2 316.5,69.7 316.6,68.7 316.6,68.2 316.7,68.9 316.8,69.3 316.8,69.4 316.9,70.1 316.9,70.0 317.0,70.0 317.1,69.4 317.1,69.4 317.2,68.0 317.2,66.6 317.3,65.5 317.4,65.0 317.4,65.1 317.5,65.5 317.5,65.8 317.6,66.5 317.7,67.5 317.7,68.2 317.8,68.7 317.9,69.5 317.9,69.2 318.0,69.9 318.0,70.9 318.1,71.2 318.2,71.4 318.2,72.1 318.3,72.3 318.3,72.7 318.4,72.6 318.5,71.9 318.5,71.0 318.6,70.0 318.7,69.1 318.7,70.3 318.8,70.2 318.8,69.9 318.9,69.9 319.0,70.0 319.0,69.6 319.1,68.5 319.1,68.5 319.2,70.3 319.3,70.0 319.3,69.2 319.4,69.2 319.4,69.9 319.5,71.2 319.6,72.3 319.6,73.0 319.7,73.1 319.8,73.1 319.8,72.5 319.9,71.6 319.9,69.6 320.0,66.5 320.1,65.1 320.1,64.5 320.2,64.3 320.2,64.4 320.3,65.4 320.4,66.7 320.4,67.9 320.5,69.1 320.5,69.6 320.6,68.6 320.7,68.6 320.7,69.1 320.8,69.1 320.9,70.5 320.9,71.9 321.0,72.7 321.0,73.4 321.1,73.7 321.2,73.7 321.2,73.2 321.3,72.0 321.3,71.0 321.4,70.4 321.5,70.4 321.5,69.5 321.6,69.1 321.7,69.3 321.7,67.9 321.8,66.5 321.8,65.6 321.9,65.1 322.0,64.8 322.0,64.9 322.1,65.6 322.1,66.6 322.2,67.8 322.3,68.7 322.3,68.7 322.4,69.5 322.4,70.6 322.5,71.5 322.6,72.4 322.6,72.6 322.7,72.4 322.8,71.6 322.8,71.1 322.9,71.1 322.9,70.9 323.0,70.5 323.1,70.4 323.1,69.3 323.2,70.0 323.2,70.5 323.3,69.8 323.4,69.1 323.4,69.2 323.5,69.8 323.5,70.0 323.6,71.3 323.7,73.0 323.7,73.9 323.8,74.4 323.9,74.8 323.9,74.9 324.0,74.1 324.0,72.7 324.1,70.5 324.2,66.6 324.2,65.8 324.3,66.3 324.3,67.4 324.4,69.0 324.5,71.4 324.5,71.9 324.6,70.6 324.6,70.2 324.7,70.1 324.8,69.6 324.8,68.6 324.9,67.8 325.0,67.5 325.0,67.8 325.1,69.1 325.1,70.8 325.2,70.5 325.3,71.2 325.3,72.5 325.4,73.7 325.4,73.9 325.5,74.0 325.6,74.2 325.6,73.4 325.7,72.6 325.8,71.5 325.8,70.3 325.9,69.7 325.9,69.5 326.0,69.4 326.1,69.8 326.1,70.5 326.2,70.0 326.2,69.7 326.3,69.1 326.4,68.5 326.4,67.9 326.5,66.8 326.5,66.3 326.6,66.2 326.7,66.3 326.7,66.9 326.8,68.6 326.9,71.9 326.9,73.9 327.0,75.3 327.0,76.2 327.1,76.0 327.2,75.6 327.2,74.9 327.3,73.7 327.3,72.0 327.4,70.9 327.5,72.3 327.5,73.6 327.6,73.8 327.6,73.1 327.7,71.8 327.8,70.4 327.8,69.7 327.9,70.7 328.0,72.3 328.0,73.8 328.1,75.0 328.1,75.8 328.2,75.8 328.3,75.6 328.3,75.2 328.4,74.1 328.4,71.4 328.5,66.9 328.6,66.7 328.6,67.9 328.7,69.1 328.7,70.1 328.8,70.6 328.9,68.9 328.9,67.9 329.0,67.8 329.1,68.1 329.1,69.4 329.2,70.9 329.2,70.8 329.3,70.7 329.4,71.4 329.4,70.5 329.5,70.7 329.5,71.2 329.6,71.1 329.7,71.5 329.7,70.1 329.8,71.0 329.9,72.6 329.9,74.0 330.0,75.0 330.0,75.7 330.1,75.9 330.2,75.6 330.2,74.9 330.3,74.0 330.3,72.6 330.4,70.9 330.5,70.6 330.5,71.8 330.6,71.4 330.6,68.8 330.7,66.9 330.8,65.8 330.8,65.4 330.9,65.3 331.0,65.4 331.0,66.0 331.1,67.1 331.1,69.4 331.2,73.0 331.3,73.0 331.3,71.5 331.4,70.8 331.4,71.0 331.5,70.8 331.6,72.6 331.6,72.7 331.7,72.1 331.7,70.6 331.8,70.9 331.9,71.6 331.9,71.8 332.0,70.4 332.1,68.9 332.1,67.8 332.2,67.5 332.2,67.3 332.3,67.4 332.4,68.0 332.4,68.9 332.5,70.3 332.5,72.4 332.6,73.4 332.7,74.7 332.7,75.7 332.8,76.3 332.8,76.2 332.9,76.1 333.0,75.7 333.0,74.8 333.1,74.1 333.2,73.1 333.2,71.9 333.3,73.0 333.3,74.4 333.4,75.5 333.5,76.1 333.5,76.2 333.6,76.1 333.6,75.5 333.7,74.4 333.8,72.8 333.8,70.6 333.9,69.0 334.0,67.9 334.0,67.6 334.1,67.3 334.1,67.3 334.2,67.8 334.3,69.0 334.3,70.3 334.4,71.7 334.4,72.8 334.5,73.9 334.6,75.0 334.6,75.7 334.7,75.6 334.7,75.4 334.8,74.8 334.9,74.1 334.9,73.6 335.0,73.3 335.1,71.9 335.1,72.2 335.2,72.1 335.2,71.8 335.3,73.6 335.4,75.1 335.4,75.4 335.5,74.9 335.5,74.0 335.6,74.7 335.7,75.9 335.7,76.6 335.8,76.8 335.8,76.5 335.9,75.9 336.0,74.9 336.0,74.1 336.1,73.5 336.2,71.9 336.2,71.0 336.3,71.6 336.3,71.7 336.4,69.5 336.5,67.6 336.5,66.5 336.6,66.2 336.6,66.2 336.7,66.1 336.8,66.7 336.8,67.9 336.9,69.4 337.0,70.9 337.0,72.3 337.1,73.2 337.1,72.0 337.2,70.9 337.3,72.1 337.3,72.9 337.4,73.5 337.4,74.5 337.5,75.7 337.6,76.4 337.6,76.2 337.7,76.0 337.7,75.2 337.8,74.4 337.9,72.4 337.9,69.0 338.0,68.2 338.1,68.9 338.1,69.8 338.2,70.8 338.2,71.5 338.3,71.5 338.4,72.0 338.4,73.0 338.5,72.9 338.5,72.9 338.6,72.8 338.7,72.6 338.7,74.8 338.8,77.1 338.8,78.5 338.9,80.1 339.0,80.1 339.0,79.8 339.1,79.3 339.2,78.7 339.2,79.2 339.3,81.4 339.3,84.1 339.4,85.7 339.5,85.9 339.5,85.5 339.6,84.4 339.6,82.4 339.7,81.7 339.8,82.8 339.8,84.3 339.9,84.8 339.9,84.5 340.0,83.1 340.1,81.4 340.1,80.3 340.2,78.5 340.3,77.2 340.3,77.9 340.4,78.6 340.4,79.7 340.5,80.1 340.6,78.4 340.6,74.8 340.7,72.9 340.7,72.2 340.8,72.0 340.9,71.7 340.9,71.2 341.0,70.9 341.1,70.9 341.1,71.3 341.2,72.1 341.2,74.7 341.3,78.6 341.4,79.3 341.4,79.5 341.5,80.4 341.5,81.8 341.6,82.2 341.7,82.1 341.7,80.3 341.8,79.1 341.8,77.8 341.9,77.8 342.0,78.2 342.0,77.4 342.1,78.4 342.2,78.9 342.2,78.5 342.3,77.3 342.3,76.3 342.4,77.7 342.5,78.1 342.5,76.5 342.6,76.5 342.6,75.8 342.7,74.7 342.8,74.0 342.8,73.2 342.9,71.6 342.9,70.5 343.0,70.0 343.1,69.6 343.1,69.7 343.2,70.8 343.3,72.1 343.3,73.4 343.4,74.6 343.4,75.2 343.5,77.0 343.6,78.4 343.6,78.5 343.7,78.0 343.7,76.3 343.8,74.7 343.9,76.2 343.9,77.7 344.0,78.8 344.0,79.7 344.1,80.9 344.2,82.4 344.2,82.9 344.3,82.4 344.4,81.2 344.4,79.8 344.5,78.3 344.5,76.9 344.6,77.0 344.7,77.6 344.7,76.5 344.8,75.7 344.8,77.1 344.9,78.4 345.0,77.9 345.0,73.7 345.1,71.4 345.2,70.4 345.2,69.8 345.3,70.5 345.3,75.6 345.4,78.6 345.5,79.7 345.5,80.1 345.6,80.2 345.6,80.2 345.7,79.6 345.8,78.6 345.8,78.2 345.9,78.6 345.9,78.9 346.0,78.4 346.1,78.9 346.1,78.5 346.2,77.7 346.3,77.9 346.3,77.4 346.4,78.2 346.4,80.0 346.5,82.1 346.6,84.3 346.6,85.9 346.7,86.1 346.7,86.2 346.8,85.0 346.9,82.3 346.9,80.7 347.0,79.9 347.0,77.9 347.1,76.5 347.2,76.1 347.2,76.6 347.3,76.1 347.4,75.3 347.4,75.5 347.5,75.5 347.5,74.7 347.6,74.6 347.7,74.5 347.7,73.7 347.8,72.8 347.8,71.9 347.9,70.9 348.0,70.1 348.0,69.9 348.1,69.9 348.1,70.3 348.2,71.0 348.3,72.8 348.3,74.3 348.4,73.5 348.5,74.0 348.5,74.3 348.6,74.9 348.6,74.2 348.7,74.8 348.8,76.2 348.8,76.8 348.9,76.6 348.9,76.6 349.0,77.3 349.1,78.0 349.1,78.2 349.2,77.9 349.3,76.9 349.3,76.1 349.4,73.7 349.4,69.7 349.5,69.0 349.6,69.1 349.6,69.7 349.7,70.7 349.7,72.2 349.8,73.6 349.9,73.6 349.9,73.1 350.0,73.7 350.0,74.4 350.1,73.7 350.2,73.7 350.2,75.1 350.3,76.4 350.4,76.8 350.4,76.3 350.5,75.6 350.5,75.9 350.6,75.5 350.7,74.9 350.7,75.4 350.8,76.5 350.8,77.6 350.9,78.2 351.0,78.3 351.0,78.2 351.1,77.5 351.1,76.6 351.2,75.6 351.3,75.2 351.3,74.7 351.4,73.3 351.5,72.8 351.5,73.5 351.6,72.4 351.6,70.4 351.7,69.1 351.8,68.7 351.8,68.7 351.9,68.7 351.9,69.2 352.0,70.3 352.1,71.7 352.1,73.1 352.2,74.9 352.2,75.5 352.3,75.5 352.4,75.9 352.4,76.8 352.5,77.7 352.6,78.4 352.6,78.3 352.7,78.0 352.7,77.6 352.8,76.6 352.9,75.4 352.9,74.0 353.0,74.1 353.0,75.2 353.1,75.5 353.2,74.6 353.2,74.9 353.3,75.3 353.4,74.1 353.4,74.0 353.5,74.4 353.5,74.4 353.6,74.4 353.7,75.0 353.7,75.8 353.8,76.0 353.8,77.1 353.9,78.1 354.0,78.6 354.0,78.7 354.1,78.5 354.1,77.8 354.2,76.9 354.3,76.0 354.3,75.6 354.4,75.7 354.5,75.5 354.5,76.1 354.6,76.9 354.6,76.9 354.7,76.5 354.8,75.3 354.8,73.8 354.9,75.0 354.9,76.1 355.0,75.5 355.1,75.3 355.1,76.0 355.2,75.2 355.2,75.1 355.3,75.0 355.4,74.3 355.4,74.0 355.5,74.9 355.6,74.7 355.6,75.0 355.7,75.6 355.7,76.0 355.8,76.6 355.9,77.7 355.9,78.3 356.0,78.7 356.0,78.7 356.1,78.1 356.2,77.2 356.2,75.3 356.3,72.0 356.4,70.7 356.4,70.6 356.5,70.7 356.5,71.4 356.6,72.2 356.7,73.6 356.7,75.1 356.8,76.2 356.8,76.7 356.9,76.0 357.0,75.1 357.0,74.9 357.1,74.7 357.1,74.6 357.2,73.4 357.3,72.2 357.3,71.9 357.4,73.2 357.5,76.3 357.5,78.1 357.6,79.3 357.6,79.7 357.7,79.7 357.8,79.6 357.8,79.2 357.9,78.1 357.9,75.9 358.0,72.5 358.1,71.3 358.1,71.4 358.2,71.4 358.2,71.8 358.3,72.7 358.4,73.5 358.4,74.0 358.5,74.4 358.6,75.5 358.6,76.2 358.7,75.2 358.7,74.7 358.8,75.6 358.9,75.7 358.9,75.5 359.0,76.6 359.0,76.5 359.1,76.1 359.2,75.1 359.2,75.1 359.3,74.0 359.3,72.8 359.4,71.8 359.5,71.4 359.5,71.5 359.6,71.4 359.7,71.8 359.7,72.7 359.8,73.6 359.8,74.2 359.9,74.6 360.0,75.4 360.0,75.3 360.1,76.2 360.1,77.1 360.2,77.3 360.3,77.3 360.3,78.4 360.4,79.0 360.5,79.1 360.5,78.9 360.6,78.4 360.6,77.5 360.7,75.9 360.8,75.1 360.8,76.4 360.9,76.2 360.9,76.0 361.0,75.7 361.1,76.2 361.1,75.8 361.2,74.6 361.2,74.7 361.3,76.7 361.4,76.1 361.4,75.3 361.5,75.5 361.6,76.3 361.6,77.5 361.7,78.6 361.7,79.2 361.8,79.1 361.9,78.9 361.9,78.5 362.0,77.7 362.0,76.1 362.1,72.8 362.2,71.0 362.2,70.7 362.3,70.6 362.3,70.7 362.4,71.2 362.5,72.4 362.5,73.7 362.6,75.1 362.7,76.0 362.7,75.1 362.8,75.3 362.8,75.9 362.9,75.3 363.0,76.3 363.0,77.9 363.1,78.9 363.1,79.6 363.2,79.9 363.3,79.8 363.3,79.1 363.4,78.0 363.4,76.9 363.5,76.4 363.6,76.5 363.6,75.2 363.7,74.6 363.8,75.0 363.8,73.7 363.9,72.5 363.9,71.6 364.0,70.9 364.1,70.7 364.1,70.9 364.2,71.6 364.2,72.7 364.3,74.0 364.4,75.0 364.4,74.8 364.5,75.2 364.6,76.6 364.6,77.6 364.7,78.4 364.7,78.7 364.8,78.3 364.9,77.2 364.9,76.9 365.0,77.1 365.0,77.0 365.1,76.4 365.2,76.0 365.2,74.9 365.3,75.8 365.3,76.4 365.4,75.6 365.5,74.8 365.5,74.8 365.6,75.8 365.7,76.1 365.7,77.2 365.8,78.9 365.8,80.0 365.9,80.5 366.0,80.5 366.0,80.6 366.1,80.1 366.1,78.9 366.2,76.3 366.3,72.2 366.3,71.5 366.4,72.1 366.4,73.1 366.5,74.6 366.6,76.7 366.6,77.3 366.7,76.1 366.8,75.8 366.8,75.7 366.9,75.2 366.9,74.2 367.0,73.2 367.1,72.8 367.1,73.3 367.2,74.8 367.2,76.4 367.3,76.3 367.4,77.2 367.4,78.5 367.5,79.6 367.6,80.1 367.6,80.1 367.7,79.9 367.7,79.3 367.8,78.4 367.9,77.1 367.9,75.9 368.0,75.5 368.0,75.5 368.1,75.5 368.2,75.7 368.2,76.1 368.3,75.7 368.3,75.7 368.4,75.4 368.5,74.7 368.5,73.4 368.6,72.4 368.7,71.7 368.7,71.7 368.8,71.8 368.8,72.6 368.9,74.2 369.0,77.4 369.0,79.7 369.1,80.8 369.1,81.5 369.2,81.9 369.3,81.4 369.3,80.6 369.4,79.5 369.4,77.9 369.5,76.3 369.6,77.6 369.6,78.9 369.7,79.2 369.8,79.0 369.8,77.7 369.9,75.8 369.9,75.0 370.0,76.4 370.1,78.1 370.1,79.7 370.2,80.8 370.2,81.4 370.3,81.5 370.4,81.2 370.4,80.7 370.5,79.6 370.5,77.0 370.6,72.7 370.7,72.4 370.7,73.6 370.8,74.8 370.9,75.8 370.9,76.6 371.0,75.2 371.0,73.8 371.1,73.3 371.2,73.7 371.2,75.0 371.3,76.0 371.3,75.4 371.4,75.7 371.5,77.1 371.5,76.4 371.6,76.2 371.7,76.7 371.7,76.8 371.8,77.3 371.8,76.1 371.9,76.5 372.0,78.0 372.0,79.7 372.1,80.7 372.1,80.9 372.2,81.0 372.3,81.0 372.3,80.6 372.4,79.7 372.4,78.1 372.5,76.7 372.6,76.4 372.6,77.1 372.7,76.8 372.8,74.5 372.8,72.6 372.9,71.5 372.9,70.9 373.0,70.7 373.1,70.8 373.1,71.3 373.2,72.5 373.2,74.9 373.3,78.4 373.4,78.1 373.4,76.9 373.5,76.7 373.5,76.8 373.6,76.4 373.7,77.9 373.7,77.9 373.8,77.1 373.9,76.1 373.9,76.5 374.0,77.2 374.0,77.4 374.1,75.9 374.2,74.3 374.2,73.2 374.3,72.6 374.3,72.4 374.4,72.4 374.5,73.1 374.5,74.1 374.6,75.7 374.6,77.9 374.7,78.8 374.8,80.0 374.8,81.2 374.9,81.5 375.0,81.6 375.0,81.7 375.1,81.0 375.1,79.9 375.2,79.7 375.3,78.8 375.3,77.7 375.4,78.4 375.4,79.8 375.5,80.8 375.6,81.5 375.6,81.6 375.7,81.4 375.8,80.8 375.8,79.6 375.9,78.1 375.9,75.8 376.0,74.5 376.1,73.6 376.1,73.0 376.2,73.0 376.2,73.2 376.3,73.5 376.4,74.3 376.4,75.4 376.5,76.7 376.5,77.8 376.6,79.0 376.7,80.1 376.7,80.8 376.8,80.9 376.9,80.9 376.9,80.4 377.0,79.2 377.0,78.4 377.1,78.2 377.2,77.0 377.2,77.3 377.3,77.6 377.3,77.1 377.4,78.7 377.5,80.4 377.5,80.9 377.6,80.8 377.6,79.8 377.7,80.2 377.8,80.9 377.8,81.9 377.9,82.0 378.0,82.0 378.0,81.2 378.1,80.0 378.1,79.1 378.2,78.6 378.3,77.2 378.3,75.9 378.4,77.0 378.4,77.2 378.5,74.9 378.6,72.8 378.6,71.8 378.7,71.5 378.7,71.3 378.8,71.2 378.9,71.8 378.9,73.1 379.0,74.7 379.1,76.2 379.1,77.8 379.2,78.7 379.2,77.9 379.3,76.5 379.4,77.4 379.4,78.2 379.5,78.8 379.5,79.6 379.6,80.6 379.7,81.2 379.7,81.4 379.8,81.3 379.9,80.7 379.9,79.8 380.0,77.5 380.0,74.0 380.1,73.3 380.2,74.0 380.2,74.9 380.3,76.1 380.3,76.7 380.4,76.9 380.5,77.4 380.5,78.2 380.6,78.1 380.6,78.2 380.7,78.0 380.8,77.9 380.8,80.0 380.9,82.1 381.0,83.3 381.0,85.1 381.1,85.7 381.1,85.8 381.2,84.9 381.3,83.9 381.3,84.2 381.4,86.3 381.4,89.3 381.5,90.5 381.6,90.9 381.6,91.2 381.7,89.6 381.7,87.4 381.8,86.9 381.9,88.5 381.9,89.7 382.0,90.1 382.1,89.6 382.1,88.2 382.2,86.5 382.2,85.4 382.3,83.4 382.4,82.4 382.4,83.0 382.5,83.2 382.5,84.2 382.6,84.6 382.7,83.3 382.7,79.9 382.8,77.9 382.9,77.3 382.9,77.0 383.0,76.6 383.0,76.2 383.1,76.0 383.2,75.9 383.2,76.1 383.3,77.3 383.3,79.5 383.4,83.0 383.5,84.0 383.5,84.5 383.6,85.8 383.6,86.9 383.7,87.1 383.8,87.4 383.8,86.0 383.9,84.2 384.0,82.8 384.0,82.6 384.1,83.5 384.1,82.8 384.2,83.3 384.3,83.7 384.3,83.3 384.4,82.1 384.4,81.0 384.5,82.7 384.6,83.4 384.6,81.6 384.7,81.3 384.7,80.5 384.8,79.7 384.9,79.0 384.9,78.0 385.0,76.7 385.1,75.5 385.1,74.6 385.2,74.6 385.2,74.9 385.3,75.6 385.4,76.8 385.4,78.2 385.5,79.4 385.5,79.9 385.6,81.8 385.7,83.4 385.7,83.8 385.8,83.2 385.8,81.3 385.9,79.7 386.0,81.0 386.0,82.2 386.1,83.3 386.2,84.5 386.2,85.9 386.3,86.9 386.3,87.2 386.4,87.4 386.5,86.6 386.5,84.8 386.6,82.9 386.6,81.5 386.7,81.7 386.8,82.5 386.8,81.1 386.9,80.0 387.0,81.7 387.0,83.2 387.1,82.4 387.1,78.4 387.2,76.0 387.3,75.1 387.3,74.5 387.4,75.3 387.4,80.1 387.5,82.8 387.6,84.0 387.6,84.7 387.7,85.0 387.7,85.0 387.8,84.3 387.9,83.3 387.9,83.0 388.0,83.2 388.1,83.4 388.1,82.9 388.2,83.6 388.2,83.2 388.3,82.7 388.4,82.6 388.4,81.8 388.5,82.9 388.5,84.8 388.6,86.7 388.7,89.0 388.7,90.6 388.8,90.6 388.8,90.5 388.9,89.6 389.0,87.1 389.0,85.7 389.1,85.0 389.2,83.0 389.2,81.6 389.3,80.9 389.3,81.2 389.4,80.5 389.5,79.7 389.5,80.3 389.6,80.4 389.6,79.4 389.7,79.3 389.8,79.0 389.8,78.3 389.9,77.6 389.9,76.6 390.0,75.5 390.1,74.7 390.1,74.6 390.2,74.6 390.3,75.1 390.3,76.0 390.4,77.8 390.4,79.3 390.5,78.5 390.6,78.8 390.6,79.3 390.7,79.8 390.7,79.3 390.8,79.9 390.9,80.9 390.9,81.1 391.0,81.0 391.1,81.2 391.1,82.1 391.2,82.5 391.2,82.5 391.3,82.6 391.4,82.2 391.4,81.1 391.5,78.5 391.5,74.3 391.6,73.3 391.7,73.2 391.7,73.9 391.8,75.0 391.8,76.5 391.9,77.8 392.0,78.2 392.0,77.7 392.1,78.4 392.2,79.1 392.2,78.4 392.3,78.4 392.3,80.1 392.4,81.1 392.5,81.5 392.5,81.2 392.6,80.5 392.6,80.8 392.7,80.4 392.8,79.3 392.8,80.0 392.9,81.2 392.9,82.2 393.0,82.9 393.1,83.1 393.1,83.2 393.2,82.3 393.3,81.1 393.3,80.1 393.4,80.0 393.4,79.3 393.5,78.0 393.6,77.6 393.6,78.3 393.7,77.0 393.7,75.0 393.8,74.0 393.9,73.3 393.9,73.1 394.0,73.2 394.0,73.7 394.1,74.9 394.2,76.5 394.2,77.9 394.3,79.7 394.4,80.4 394.4,80.0 394.5,80.1 394.5,81.0 394.6,82.3 394.7,83.1 394.7,83.2 394.8,82.9 394.8,82.1 394.9,80.9 395.0,79.6 395.0,78.4 395.1,79.1 395.2,80.0 395.2,80.0 395.3,79.1 395.3,79.5 395.4,79.9 395.5,78.5 395.5,78.6 395.6,79.4 395.6,79.3 395.7,79.3 395.8,79.8 395.8,80.4 395.9,80.6 395.9,81.7 396.0,82.9 396.1,83.5 396.1,83.3 396.2,83.2 396.3,82.9 396.3,81.9 396.4,80.7 396.4,80.1 396.5,80.3 396.6,80.4 396.6,80.6 396.7,81.5 396.7,82.0 396.8,81.5 396.9,80.1 396.9,78.4 397.0,79.5 397.0,80.8 397.1,79.7 397.2,79.6 397.2,80.6 397.3,80.0 397.4,79.8 397.4,79.9 397.5,79.2 397.5,78.8 397.6,79.2 397.7,79.2 397.7,80.0 397.8,80.5 397.8,80.5 397.9,81.8 398.0,83.0 398.0,83.3 398.1,83.5 398.2,83.5 398.2,82.9 398.3,81.8 398.3,79.9 398.4,76.8 398.5,75.2 398.5,75.1 398.6,75.4 398.6,75.7 398.7,76.7 398.8,78.0 398.8,79.6 398.9,80.6 398.9,81.4 399.0,81.2 399.1,80.0 399.1,79.7 399.2,79.4 399.3,79.2 399.3,77.8 399.4,76.7 399.4,76.5 399.5,77.2 399.6,80.9 399.6,82.9 399.7,83.9 399.7,84.7 399.8,85.0 399.9,84.4 399.9,83.8 400.0,82.7 400.0,80.7 400.1,77.2 400.2,75.7 400.2,75.8 400.3,76.3 400.4,76.8 400.4,77.6 400.5,78.4 400.5,78.6 400.6,78.7 400.7,80.1 400.7,80.9 400.8,80.1 400.8,79.5 400.9,80.1 401.0,80.2 401.0,80.3 401.1,81.1 401.1,80.9 401.2,80.6 401.3,80.0 401.3,79.9 401.4,78.6 401.5,77.4 401.5,76.7 401.6,76.2 401.6,75.9 401.7,75.7 401.8,76.4 401.8,77.3 401.9,78.4 401.9,79.3 402.0,79.9 402.1,80.4 402.1,80.1 402.2,81.1 402.3,81.9 402.3,82.1 402.4,82.3 402.4,83.0 402.5,83.6 402.6,83.9 402.6,83.9 402.7,83.0 402.7,82.1 402.8,81.0 402.9,80.3 402.9,81.3 403.0,80.9 403.0,80.9 403.1,80.5 403.2,80.6 403.2,80.4 403.3,79.2 403.4,79.2 403.4,81.3 403.5,80.9 403.5,80.3 403.6,80.6 403.7,81.7 403.7,82.7 403.8,83.3 403.8,83.8 403.9,84.0 404.0,84.0 404.0,83.3 404.1,82.2 404.1,80.6 404.2,77.6 404.3,75.8 404.3,75.0 404.4,75.0 404.5,75.5 404.5,76.1 404.6,77.1 404.6,78.3 404.7,79.5 404.8,80.5 404.8,79.5 404.9,79.3 404.9,80.1 405.0,80.2 405.1,81.3 405.1,83.0 405.2,83.8 405.2,84.2 405.3,84.5 405.4,84.6 405.4,83.9 405.5,82.9 405.6,81.9 405.6,81.6 405.7,81.3 405.7,79.8 405.8,79.4 405.9,79.9 405.9,78.9 406.0,77.4 406.0,76.5 406.1,76.0 406.2,75.7 406.2,75.9 406.3,76.5 406.4,77.5 406.4,78.6 406.5,79.8 406.5,79.8 406.6,80.3 406.7,81.5 406.7,82.8 406.8,83.5 406.8,83.5 406.9,83.2 407.0,82.2 407.0,82.0 407.1,82.1 407.1,81.6 407.2,81.3 407.3,81.3 407.3,79.9 407.4,80.8 407.5,81.5 407.5,80.7 407.6,79.5 407.6,79.9 407.7,80.7 407.8,80.7 407.8,82.1 407.9,83.8 407.9,85.0 408.0,85.6 408.1,85.8 408.1,85.5 408.2,84.8 408.2,83.7 408.3,81.4 408.4,77.2 408.4,76.2 408.5,76.9 408.6,78.1 408.6,79.9 408.7,82.3 408.7,82.4 408.8,81.1 408.9,81.0 408.9,80.8 409.0,80.3 409.0,79.4 409.1,78.2 409.2,77.9 409.2,78.2 409.3,79.5 409.3,81.1 409.4,81.2 409.5,82.2 409.5,83.2 409.6,84.3 409.7,85.0 409.7,85.1 409.8,84.9 409.8,84.4 409.9,83.4 410.0,82.0 410.0,80.5 410.1,79.9 410.1,80.0 410.2,80.2 410.3,80.5 410.3,81.2 410.4,80.9 410.5,80.5 410.5,79.7 410.6,79.3 410.6,78.4 410.7,77.3 410.8,76.7 410.8,76.7 410.9,76.6 410.9,77.3 411.0,79.1 411.1,82.7 411.1,84.8 411.2,85.9 411.2,86.8 411.3,87.2 411.4,86.7 411.4,85.7 411.5,84.7 411.6,82.9 411.6,81.2 411.7,82.2 411.7,83.8 411.8,84.2 411.9,83.8 411.9,82.5 412.0,81.0 412.0,80.2 412.1,81.6 412.2,83.3 412.2,84.9 412.3,85.9 412.3,86.3 412.4,86.3 412.5,86.4 412.5,85.8 412.6,84.8 412.7,82.1 412.7,77.5 412.8,77.0 412.8,78.1 412.9,79.4 413.0,80.5 413.0,81.3 413.1,79.6 413.1,78.4 413.2,78.2 413.3,78.5 413.3,79.8 413.4,81.0 413.5,80.9 413.5,81.1 413.6,82.1 413.6,81.3 413.7,81.2 413.8,82.0 413.8,81.7 413.9,81.7 413.9,80.5 414.0,81.6 414.1,83.1 414.1,84.5 414.2,85.5 414.2,86.1 414.3,86.5 414.4,86.4 414.4,85.7 414.5,84.6 414.6,83.2 414.6,81.7 414.7,81.2 414.7,82.5 414.8,82.0 414.9,79.2 414.9,77.1 415.0,76.1 415.0,75.5 415.1,75.4 415.2,75.7 415.2,76.3 415.3,77.5 415.3,79.8 415.4,83.3 415.5,83.2 415.5,81.6 415.6,81.2 415.7,81.4 415.7,81.0 415.8,82.7 415.8,83.1 415.9,82.4 416.0,80.8 416.0,81.2 416.1,82.0 416.1,82.2 416.2,80.4 416.3,79.0 416.3,78.1 416.4,77.4 416.4,77.4 416.5,77.5 416.6,78.2 416.6,78.9 416.7,80.6 416.8,82.9 416.8,83.7 416.9,85.2 416.9,86.4 417.0,86.7 417.1,86.8 417.1,86.6 417.2,86.0 417.2,85.4 417.3,85.1 417.4,84.1 417.4,82.9 417.5,83.2 417.6,84.6 417.6,85.9 417.7,86.5 417.7,86.7 417.8,86.5 417.9,86.0 417.9,85.0 418.0,83.4 418.0,80.8 418.1,79.1 418.2,78.1 418.2,77.6 418.3,77.6 418.3,77.8 418.4,78.5 418.5,79.5 418.5,80.7 418.6,82.1 418.7,83.5 418.7,84.6 418.8,85.5 418.8,85.9 418.9,85.8 419.0,85.7 419.0,85.3 419.1,84.1 419.1,83.4 419.2,83.3 419.3,82.1 419.3,82.4 419.4,82.5 419.4,82.3 419.5,84.2 419.6,85.7 419.6,85.9 419.7,85.5 419.8,85.2 419.8,85.8 419.9,86.6 419.9,86.8 420.0,87.0 420.1,87.0 420.1,86.7 420.2,85.6 420.2,84.4 420.3,83.7 420.4,82.2 420.4,81.0 420.5,81.8 420.5,81.8 420.6,79.7 420.7,77.8 420.7,76.6 420.8,76.2 420.9,76.0 420.9,76.3 421.0,76.7 421.0,77.7 421.1,79.2 421.2,81.1 421.2,82.8 421.3,83.7 421.3,82.6 421.4,81.4 421.5,82.4 421.5,83.1 421.6,83.8 421.7,85.0 421.7,86.1 421.8,86.7 421.8,86.9 421.9,86.9 422.0,86.5 422.0,85.3 422.1,83.0 422.1,79.5 422.2,78.7 422.3,79.2 422.3,79.8 422.4,80.8 422.4,81.6 422.5,81.8 422.6,82.5 422.6,83.3 422.7,83.0 422.8,82.9 422.8,82.8 422.9,82.9 422.9,85.3 423.0,87.4 423.1,88.9 423.1,90.5 423.2,91.3 423.2,90.8 423.3,89.9 423.4,89.5 423.4,89.6 423.5,91.7 423.5,94.4 423.6,96.0 423.7,96.9 423.7,97.0 423.8,95.5 423.9,93.0 423.9,91.9 424.0,93.5 424.0,95.2 424.1,95.5 424.2,95.0 424.2,93.7 424.3,91.7 424.3,90.2 424.4,88.1 424.5,87.0 424.5,88.2 424.6,88.7 424.6,89.9 424.7,90.2 424.8,88.3 424.8,84.6 424.9,82.8 425.0,82.3 425.0,82.3 425.1,81.8 425.1,81.3 425.2,81.0 425.3,80.9 425.3,81.2 425.4,82.2 425.4,84.6 425.5,88.4 425.6,89.2 425.6,89.8 425.7,91.6 425.8,92.5 425.8,92.5 425.9,92.7 425.9,91.5 426.0,89.6 426.1,88.0 426.1,87.9 426.2,88.8 426.2,88.0 426.3,88.6 426.4,89.2 426.4,89.0 426.5,87.5 426.5,86.5 426.6,88.1 426.7,88.3 426.7,86.6 426.8,86.6 426.9,85.9 426.9,85.2 427.0,84.4 427.0,83.1 427.1,81.7 427.2,80.5 427.2,79.8 427.3,79.9 427.3,80.1 427.4,80.6 427.5,81.7 427.5,83.3 427.6,84.6 427.6,85.0 427.7,86.7 427.8,88.4 427.8,89.0 427.9,88.7 428.0,86.8 428.0,84.7 428.1,86.3 428.1,87.6 428.2,88.9 428.3,90.2 428.3,91.3 428.4,92.7 428.4,93.2 428.5,93.1 428.6,91.9 428.6,90.1 428.7,88.4 428.8,87.3 428.8,87.3 428.9,87.7 428.9,86.3 429.0,85.4 429.1,87.1 429.1,88.8 429.2,88.3 429.2,84.0 429.3,81.1 429.4,79.9 429.4,79.5 429.5,80.3 429.5,85.2 429.6,88.4 429.7,89.8 429.7,90.3 429.8,90.4 429.9,90.4 429.9,89.7 430.0,88.6 430.0,88.2 430.1,88.5 430.2,89.1 430.2,88.6 430.3,89.0 430.3,88.6 430.4,88.0 430.5,88.0 430.5,87.2 430.6,88.2 430.6,90.3 430.7,92.3 430.8,94.9 430.8,96.4 430.9,96.4 431.0,96.2 431.0,95.0 431.1,92.8 431.1,91.1 431.2,90.0 431.3,87.9 431.3,86.8 431.4,86.1 431.4,86.2 431.5,85.8 431.6,85.4 431.6,85.8 431.7,85.7 431.7,84.6 431.8,84.5 431.9,84.3 431.9,83.5 432.0,82.7 432.1,81.7 432.1,80.5 432.2,79.7 432.2,79.6 432.3,79.7 432.4,80.2 432.4,81.0 432.5,82.3 432.5,83.9 432.6,83.3 432.7,83.9 432.7,84.4 432.8,85.1 432.9,84.8 432.9,85.8 433.0,86.8 433.0,86.9 433.1,86.6 433.2,86.8 433.2,87.5 433.3,88.0 433.3,88.2 433.4,87.8 433.5,87.4 433.5,86.7 433.6,83.9 433.6,79.3 433.7,78.5 433.8,78.7 433.8,79.2 433.9,80.4 434.0,82.1 434.0,83.3 434.1,84.0 434.1,83.5 434.2,83.9 434.3,84.7 434.3,83.7 434.4,84.0 434.4,85.7 434.5,87.2 434.6,87.6 434.6,87.0 434.7,86.4 434.7,86.5 434.8,86.0 434.9,85.3 434.9,85.7 435.0,86.9 435.1,88.0 435.1,88.8 435.2,88.8 435.2,88.5 435.3,87.9 435.4,86.8 435.4,85.8 435.5,85.4 435.5,84.9 435.6,83.7 435.7,83.3 435.7,83.9 435.8,82.4 435.8,80.5 435.9,79.6 436.0,79.0 436.0,78.9 436.1,79.0 436.2,79.5 436.2,80.8 436.3,82.4 436.3,83.7 436.4,85.7 436.5,86.2 436.5,85.8 436.6,86.3 436.6,87.0 436.7,88.0 436.8,89.1 436.8,89.3 436.9,89.1 437.0,88.6 437.0,87.5 437.1,85.7 437.1,84.7 437.2,85.0 437.3,86.0 437.3,86.4 437.4,85.3 437.4,85.7 437.5,86.2 437.6,84.6 437.6,84.4 437.7,85.2 437.7,85.7 437.8,85.4 437.9,85.7 437.9,86.4 438.0,86.9 438.1,87.8 438.1,88.8 438.2,89.5 438.2,89.8 438.3,89.7 438.4,89.2 438.4,88.0 438.5,86.4 438.5,86.2 438.6,86.4 438.7,86.3 438.7,86.6 438.8,87.6 438.8,88.2 438.9,87.9 439.0,86.4 439.0,84.7 439.1,85.9 439.2,87.1 439.2,86.1 439.3,85.8 439.3,86.3 439.4,85.5 439.5,85.8 439.5,86.2 439.6,85.3 439.6,84.8 439.7,85.5 439.8,85.5 439.8,86.2 439.9,86.7 439.9,87.1 440.0,88.2 440.1,89.3 440.1,89.7 440.2,89.9 440.3,89.8 440.3,89.3 440.4,88.2 440.4,86.2 440.5,82.7 440.6,81.4 440.6,81.4 440.7,81.7 440.7,82.3 440.8,83.0 440.9,84.1 440.9,85.9 441.0,87.3 441.1,88.0 441.1,87.6 441.2,86.7 441.2,86.3 441.3,86.1 441.4,85.9 441.4,84.4 441.5,83.1 441.5,82.8 441.6,83.9 441.7,87.2 441.7,89.5 441.8,90.6 441.8,91.2 441.9,91.4 442.0,91.3 442.0,90.8 442.1,89.6 442.2,87.4 442.2,83.7 442.3,82.5 442.3,82.2 442.4,82.4 442.5,83.2 442.5,84.2 442.6,84.7 442.6,85.1 442.7,85.7 442.8,87.0 442.8,87.7 442.9,87.0 442.9,86.3 443.0,86.8 443.1,86.8 443.1,86.7 443.2,88.0 443.3,88.0 443.3,87.7 443.4,86.9 443.4,86.6 443.5,85.3 443.6,84.1 443.6,83.3 443.7,82.9 443.7,82.8 443.8,82.9 443.9,83.4 443.9,84.3 444.0,85.2 444.1,86.1 444.1,86.6 444.2,87.2 444.2,86.7 444.3,87.2 444.4,88.7 444.4,89.0 444.5,89.4 444.5,90.3 444.6,90.8 444.7,91.0 444.7,90.9 444.8,90.3 444.8,89.2 444.9,87.8 445.0,87.0 445.0,88.4 445.1,88.3 445.2,88.1 445.2,87.5 445.3,87.9 445.3,87.8 445.4,86.2 445.5,86.1 445.5,88.3 445.6,87.7 445.6,86.9 445.7,87.3 445.8,88.2 445.8,89.5 445.9,90.8 445.9,91.3 446.0,91.3 446.1,91.2 446.1,90.9 446.2,89.8 446.3,87.9 446.3,84.6 446.4,83.0 446.4,82.3 446.5,82.1 446.6,82.4 446.6,83.2 446.7,84.4 446.7,85.5 446.8,86.7 446.9,87.8 446.9,86.8 447.0,86.6 447.0,87.0 447.1,87.3 447.2,88.9 447.2,90.2 447.3,91.3 447.4,92.0 447.4,92.4 447.5,92.2 447.5,91.4 447.6,90.4 447.7,89.0 447.7,88.6 447.8,88.7 447.8,87.2 447.9,86.8 448.0,87.2 448.0,85.7 448.1,84.1 448.2,83.1 448.2,82.6 448.3,82.7 448.3,82.8 448.4,83.4 448.5,84.4 448.5,85.9 448.6,86.9 448.6,86.7 448.7,87.5 448.8,88.9 448.8,89.7 448.9,90.9 448.9,91.5 449.0,90.8 449.1,89.6 449.1,88.9 449.2,88.9 449.3,89.0 449.3,88.7 449.4,88.4 449.4,87.5 449.5,88.4 449.6,88.5 449.6,87.7 449.7,86.6 449.7,86.8 449.8,87.8 449.9,88.3 449.9,89.8 450.0,91.5 450.0,92.6 450.1,93.3 450.2,93.5 450.2,93.3 450.3,92.7 450.4,91.5 450.4,88.9 450.5,84.6 450.5,83.3 450.6,84.0 450.7,85.1 450.7,86.8 450.8,89.6 450.8,90.1 450.9,88.7 451.0,88.5 451.0,87.8 451.1,87.3 451.1,86.5 451.2,85.7 451.3,85.0 451.3,85.1 451.4,86.8 451.5,88.6 451.5,88.2 451.6,89.3 451.6,90.7 451.7,92.1 451.8,93.1 451.8,93.0 451.9,92.6 451.9,92.2 452.0,91.1 452.1,89.6 452.1,88.4 452.2,87.8 452.3,87.8 452.3,87.8 452.4,88.2 452.4,88.5 452.5,88.1 452.6,87.8 452.6,86.9 452.7,86.4 452.7,85.5 452.8,84.5 452.9,83.9 452.9,83.9 453.0,84.0 453.0,84.4 453.1,86.0 453.2,90.2 453.2,92.8 453.3,93.7 453.4,94.6 453.4,95.2 453.5,95.1 453.5,93.8 453.6,92.6 453.7,90.8 453.7,88.8 453.8,90.4 453.8,92.0 453.9,92.1 454.0,91.8 454.0,90.6 454.1,88.7 454.1,87.6 454.2,89.3 454.3,91.0 454.3,92.6 454.4,93.9 454.5,95.3 454.5,95.5 454.6,94.8 454.6,94.0 454.7,92.9 454.8,89.7 454.8,84.5 454.9,84.3 454.9,85.6 455.0,86.9 455.1,88.2 455.1,89.3 455.2,87.4 455.2,85.9 455.3,85.5 455.4,85.7 455.4,87.1 455.5,88.5 455.6,88.5 455.6,88.8 455.7,89.9 455.7,88.8 455.8,88.7 455.9,89.5 455.9,89.6 456.0,89.6 456.0,88.4 456.1,89.5 456.2,91.2 456.2,92.8 456.3,94.1 456.4,94.8 456.4,95.2 456.5,95.2 456.5,94.3 456.6,92.9 456.7,91.0 456.7,89.5 456.8,89.2 456.8,90.2 456.9,89.7 457.0,86.8 457.0,84.8 457.1,83.6 457.1,83.0 457.2,82.9 457.3,83.0 457.3,83.5 457.4,84.7 457.5,87.8 457.5,91.8 457.6,91.4 457.6,89.6 457.7,89.1 457.8,89.2 457.8,88.7 457.9,91.1 457.9,91.6 458.0,90.5 458.1,88.7 458.1,89.0 458.2,90.2 458.2,90.6 458.3,88.5 458.4,86.8 458.4,85.8 458.5,85.2 458.6,85.1 458.6,85.3 458.7,85.9 458.7,86.7 458.8,88.7 458.9,91.4 458.9,92.5 459.0,93.8 459.0,94.9 459.1,95.5 459.2,96.0 459.2,96.5 459.3,95.6 459.4,94.4 459.4,93.8 459.5,92.5 459.5,91.1 459.6,91.8 459.7,93.6 459.7,94.8 459.8,95.4 459.8,95.6 459.9,95.4 460.0,94.9 460.0,93.7 460.1,91.9 460.1,88.6 460.2,86.7 460.3,85.8 460.3,85.4 460.4,85.1 460.5,85.4 460.5,86.0 460.6,87.0 460.6,88.5 460.7,90.0 460.8,91.6 460.8,93.1 460.9,94.2 460.9,95.1 461.0,95.2 461.1,95.0 461.1,94.1 461.2,93.0 461.2,92.3 461.3,91.8 461.4,90.1 461.4,90.7 461.5,91.0 461.6,90.5 461.6,92.6 461.7,94.6 461.7,95.0 461.8,94.5 461.9,93.8 461.9,94.6 462.0,95.6 462.0,96.8 462.1,97.2 462.2,96.8 462.2,95.7 462.3,94.4 462.3,93.3 462.4,92.8 462.5,90.3 462.5,88.7 462.6,89.8 462.7,90.3 462.7,87.8 462.8,85.6 462.8,84.4 462.9,83.7 463.0,83.7 463.0,83.7 463.1,84.2 463.1,85.4 463.2,87.3 463.3,89.6 463.3,91.6 463.4,92.2 463.5,90.8 463.5,89.8 463.6,91.2 463.6,92.0 463.7,93.1 463.8,94.1 463.8,95.0 463.9,95.7 463.9,96.0 464.0,96.0 464.1,95.4 464.1,94.1 464.2,91.6 464.2,87.4 464.3,86.7 464.4,87.3 464.4,87.8 464.5,89.2 464.6,90.3 464.6,90.3 464.7,90.7 464.7,91.4 464.8,91.7 464.9,91.9 464.9,91.4 465.0,91.4 465.0,94.0 465.1,96.7 465.2,99.1 465.2,100.8 465.3,101.2 465.3,100.7 465.4,99.7 465.5,98.7 465.5,98.8 465.6,101.7 465.7,105.0 465.7,106.7 465.8,107.2 465.8,106.7 465.9,105.7 466.0,103.3 466.0,102.2 466.1,103.4 466.1,105.1 466.2,105.8 466.3,105.1 466.3,104.0 466.4,102.0 466.4,100.2 466.5,97.5 466.6,96.1 466.6,97.1 466.7,97.4 466.8,99.2 466.8,99.9 466.9,98.2 466.9,93.3 467.0,90.9 467.1,90.3 467.1,89.9 467.2,89.5 467.2,88.8 467.3,88.4 467.4,88.5 467.4,89.3 467.5,90.6 467.6,93.7 467.6,98.4 467.7,99.2 467.7,99.6 467.8,101.7 467.9,102.7 467.9,103.0 468.0,102.9 468.0,101.7 468.1,99.4 468.2,97.6 468.2,97.8 468.3,98.5 468.3,97.5 468.4,98.3 468.5,98.9 468.5,98.3 468.6,96.8 468.7,95.9 468.7,97.9 468.8,98.3 468.8,95.8 468.9,95.9 469.0,94.9 469.0,93.6 469.1,92.8 469.1,91.5 469.2,89.7 469.3,88.2 469.3,87.7 469.4,87.6 469.4,87.7 469.5,88.6 469.6,89.9 469.6,91.6 469.7,92.9 469.8,93.5 469.8,96.3 469.9,98.5 469.9,99.0 470.0,98.1 470.1,96.0 470.1,93.8 470.2,95.8 470.2,97.1 470.3,98.8 470.4,100.3 470.4,102.6 470.5,103.7 470.5,103.8 470.6,104.0 470.7,102.0 470.7,99.9 470.8,98.3 470.9,96.4 470.9,96.8 471.0,97.8 471.0,95.5 471.1,94.0 471.2,96.3 471.2,98.1 471.3,97.9 471.3,92.8 471.4,89.5 471.5,88.1 471.5,87.4 471.6,88.1 471.7,94.5 471.7,98.5 471.8,99.6 471.8,100.1 471.9,100.4 472.0,100.3 472.0,99.6 472.1,98.9 472.1,98.3 472.2,99.0 472.3,99.3 472.3,98.1 472.4,99.1 472.4,98.7 472.5,97.4 472.6,97.4 472.6,96.9 472.7,97.9 472.8,100.4 472.8,103.3 472.9,106.6 472.9,108.2 473.0,108.1 473.1,107.9 473.1,106.3 473.2,103.5 473.2,101.2 473.3,100.7 473.4,98.0 473.4,95.8 473.5,95.2 473.5,95.9 473.6,94.9 473.7,94.3 473.7,94.8 473.8,94.7 473.9,93.6 473.9,93.9 474.0,93.3 474.0,92.1 474.1,91.2 474.2,90.2 474.2,88.9 474.3,88.0 474.3,87.7 474.4,88.2 474.5,88.8 474.5,89.7 474.6,91.6 474.7,93.6 474.7,92.8 474.8,93.4 474.8,93.9 474.9,94.3 475.0,94.2 475.0,95.0 475.1,96.4 475.1,96.9 475.2,96.5 475.3,96.7 475.3,98.0 475.4,98.7 475.4,98.8 475.5,98.8 475.6,97.8 475.6,96.2 475.7,92.7 475.8,87.2 475.8,86.4 475.9,86.8 475.9,87.6 476.0,89.0 476.1,90.7 476.1,92.0 476.2,92.9 476.2,92.2 476.3,93.0 476.4,93.7 476.4,92.9 476.5,93.1 476.5,95.2 476.6,97.0 476.7,97.5 476.7,97.2 476.8,96.1 476.9,96.3 476.9,96.0 477.0,94.8 477.0,95.2 477.1,97.0 477.2,98.8 477.2,99.5 477.3,99.8 477.3,99.6 477.4,98.6 477.5,97.3 477.5,95.8 477.6,95.1 477.6,94.5 477.7,93.1 477.8,92.1 477.8,92.6 477.9,91.3 478.0,89.0 478.0,87.4 478.1,86.6 478.1,86.4 478.2,86.6 478.3,87.6 478.3,89.1 478.4,90.8 478.4,92.9 478.5,95.7 478.6,96.4 478.6,96.3 478.7,96.9 478.8,97.7 478.8,98.6 478.9,99.3 478.9,99.5 479.0,99.8 479.1,99.4 479.1,98.3 479.2,96.1 479.2,94.1 479.3,94.4 479.4,96.2 479.4,96.3 479.5,94.7 479.5,95.0 479.6,95.7 479.7,94.0 479.7,94.1 479.8,95.1 479.9,95.1 479.9,95.3 480.0,96.1 480.0,96.8 480.1,97.1 480.2,98.4 480.2,99.8 480.3,100.5 480.3,100.6 480.4,100.8 480.5,100.2 480.5,98.9 480.6,97.2 480.6,96.6 480.7,97.1 480.8,96.4 480.8,96.8 480.9,98.4 481.0,99.2 481.0,98.5 481.1,96.3 481.1,94.0 481.2,95.8 481.3,97.5 481.3,96.0 481.4,95.8 481.4,97.4 481.5,96.2 481.6,96.2 481.6,96.7 481.7,95.1 481.7,94.7 481.8,95.6 481.9,95.6 481.9,96.5 482.0,97.0 482.1,97.3 482.1,98.7 482.2,100.3 482.2,101.0 482.3,101.4 482.4,101.5 482.4,100.8 482.5,99.3 482.5,96.3 482.6,91.7 482.7,90.3 482.7,90.4 482.8,90.3 482.9,90.8 482.9,92.3 483.0,94.0 483.0,96.4 483.1,97.6 483.2,98.8 483.2,98.6 483.3,96.9 483.3,95.9 483.4,95.7 483.5,95.5 483.5,93.8 483.6,92.4 483.6,92.2 483.7,93.3 483.8,98.0 483.8,101.3 483.9,103.0 484.0,103.9 484.0,104.3 484.1,104.5 484.1,103.3 484.2,101.1 484.3,97.9 484.3,92.8 484.4,91.1 484.4,90.9 484.5,91.4 484.6,92.3 484.6,93.1 484.7,94.3 484.7,95.1 484.8,95.8 484.9,98.0 484.9,98.8 485.0,97.8 485.1,96.6 485.1,97.5 485.2,97.9 485.2,97.4 485.3,98.8 485.4,98.7 485.4,98.9 485.5,97.7 485.5,97.3 485.6,95.6 485.7,94.1 485.7,92.6 485.8,91.9 485.8,91.5 485.9,91.5 486.0,92.6 486.0,94.2 486.1,95.6 486.2,96.5 486.2,96.8 486.3,97.6 486.3,97.3 486.4,98.5 486.5,100.3 486.5,101.2 486.6,101.7 486.6,102.5 486.7,103.0 486.8,103.1 486.8,102.8 486.9,102.1 487.0,101.1 487.0,99.1 487.1,98.4 487.1,100.5 487.2,99.8 487.3,98.8 487.3,98.1 487.4,98.5 487.4,98.4 487.5,97.1 487.6,96.8 487.6,99.3 487.7,98.5 487.7,97.6 487.8,98.4 487.9,99.6 487.9,101.4 488.0,103.0 488.1,103.9 488.1,104.1 488.2,103.8 488.2,102.9 488.3,101.6 488.4,99.0 488.4,94.3 488.5,92.0 488.5,91.5 488.6,91.5 488.7,91.8 488.7,92.7 488.8,93.8 488.8,95.5 488.9,97.3 489.0,98.5 489.0,97.2 489.1,97.4 489.2,98.2 489.2,97.9 489.3,100.0 489.3,102.4 489.4,104.1 489.5,104.8 489.5,105.3 489.6,104.9 489.6,104.0 489.7,102.6 489.8,101.1 489.8,100.5 489.9,100.2 490.0,98.4 490.0,97.8 490.1,98.4 490.1,96.7 490.2,94.5 490.3,93.1 490.3,92.4 490.4,92.1 490.4,92.3 490.5,93.6 490.6,94.4 490.6,96.4 490.7,97.9 490.7,97.6 490.8,98.5 490.9,100.3 490.9,102.2 491.0,103.8 491.1,104.1 491.1,103.5 491.2,102.2 491.2,101.3 491.3,101.2 491.4,100.9 491.4,100.6 491.5,100.3 491.5,98.4 491.6,99.7 491.7,100.2 491.7,99.0 491.8,98.0 491.8,98.3 491.9,100.2 492.0,100.2 492.0,101.6 492.1,104.4 492.2,106.0 492.2,107.4 492.3,108.5 492.3,108.1 492.4,106.4 492.5,104.8 492.5,101.4 492.6,95.1 492.6,93.7 492.7,94.6 492.8,95.6 492.8,98.0 492.9,101.7 492.9,102.3 493.0,100.4 493.1,99.9 493.1,99.6 493.2,99.2 493.3,97.8 493.3,96.2 493.4,95.5 493.4,95.8 493.5,98.1 493.6,101.1 493.6,100.2 493.7,101.3 493.7,103.6 493.8,105.6 493.9,106.4 493.9,106.6 494.0,106.3 494.1,105.8 494.1,104.0 494.2,101.7 494.2,99.6 494.3,99.1 494.4,99.3 494.4,99.5 494.5,100.1 494.5,100.8 494.6,100.2 494.7,99.9 494.7,98.3 494.8,97.4 494.8,96.2 494.9,94.5 495.0,94.0 495.0,93.8 495.1,93.8 495.2,94.6 495.2,97.4 495.3,103.3 495.3,106.7 495.4,108.6 495.5,110.0 495.5,110.7 495.6,110.5 495.6,108.9 495.7,106.3 495.8,103.2 495.8,100.4 495.9,102.8 495.9,105.1 496.0,105.7 496.1,105.0 496.1,103.3 496.2,100.1 496.3,98.9 496.3,101.0 496.4,103.3 496.4,106.1 496.5,108.1 496.6,110.2 496.6,110.6 496.7,109.8 496.7,108.6 496.8,106.5 496.9,102.3 496.9,95.2 497.0,94.3 497.0,96.1 497.1,98.1 497.2,100.2 497.2,101.2 497.3,98.9 497.4,97.1 497.4,96.5 497.5,96.5 497.5,98.2 497.6,100.5 497.7,100.3 497.7,100.8 497.8,103.0 497.8,101.2 497.9,100.6 498.0,101.9 498.0,101.7 498.1,102.0 498.2,100.5 498.2,102.0 498.3,104.6 498.3,106.6 498.4,108.2 498.5,109.1 498.5,109.0 498.6,108.8 498.6,107.9 498.7,106.8 498.8,104.4 498.8,101.7 498.9,101.1 498.9,102.7 499.0,102.1 499.1,98.0 499.1,95.3 499.2,93.7 499.3,93.0 499.3,92.9 499.4,92.9 499.4,93.9 499.5,95.7 499.6,99.4 499.6,105.2 499.7,105.0 499.7,102.4 499.8,101.6 499.9,101.9 499.9,101.5 500.0,104.6 500.0,105.0 500.1,104.0 500.2,101.0 500.2,100.9 500.3,102.5 500.4,103.1 500.4,100.0 500.5,98.0 500.5,96.6 500.6,95.9 500.7,96.0 500.7,96.1 500.8,96.4 500.8,97.7 500.9,100.0 501.0,104.0 501.0,105.5 501.1,107.5 501.1,109.2 501.2,111.2 501.3,111.4 501.3,110.9 501.4,109.7 501.5,108.5 501.5,107.6 501.6,105.8 501.6,103.4 501.7,104.7 501.8,107.1 501.8,109.0 501.9,110.4 501.9,111.0 502.0,110.2 502.1,108.7 502.1,107.0 502.2,104.7 502.3,100.5 502.3,97.9 502.4,96.6 502.4,96.0 502.5,95.7 502.6,95.6 502.6,96.7 502.7,98.5 502.7,100.4 502.8,102.2 502.9,104.2 502.9,106.6 503.0,108.3 503.0,108.9 503.1,108.8 503.2,109.0 503.2,108.6 503.3,106.7 503.4,105.4 503.4,105.5 503.5,103.0 503.5,103.8 503.6,103.9 503.7,102.8 503.7,105.9 503.8,108.9 503.8,109.6 503.9,109.0 504.0,107.1 504.0,108.5 504.1,110.8 504.1,111.8 504.2,111.9 504.3,111.5 504.3,109.8 504.4,108.1 504.5,106.5 504.5,105.7 504.6,102.8 504.6,100.8 504.7,102.2 504.8,103.0 504.8,99.4 504.9,96.2 504.9,94.5 505.0,94.0 505.1,94.0 505.1,94.2 505.2,95.0 505.2,96.3 505.3,98.7 505.4,101.4 505.4,104.7 505.5,106.2 505.6,103.9 505.6,102.4 505.7,104.2 505.7,105.3 505.8,106.5 505.9,108.2 505.9,109.4 506.0,110.7 506.0,110.8 506.1,110.4 506.2,109.3 506.2,107.6 506.3,103.9 506.4,98.4 506.4,97.4 506.5,98.5 506.5,99.7 506.6,101.1 506.7,102.3 506.7,102.3 506.8,103.1 506.8,104.1 506.9,103.9 507.0,104.0 507.0,103.6 507.1,103.2 507.1,107.5 507.2,111.0 507.3,113.9 507.3,115.7 507.4,116.6 507.5,116.6 507.5,115.1 507.6,112.6 507.6,112.5 507.7,116.6 507.8,119.8 507.8,119.6 507.9,127.4 507.9,131.2 508.0,131.2 508.1,127.0 508.2,124.7 508.4,122.7 508.5,121.0 508.6,119.5 508.7,118.3 508.9,117.2 509.0,116.3 509.1,115.5 509.2,114.8 509.4,114.2 509.5,113.7 509.6,113.2 509.7,112.8 509.8,112.5 510.0,112.2 510.1,111.9 510.2,111.7 510.3,111.5 510.5,111.3 510.6,111.2 510.7,111.0 510.8,110.9 510.9,110.8 511.1,110.7 511.2,110.6 511.3,110.5 511.4,110.4 511.6,110.4 511.7,110.3 511.8,110.2 511.9,110.2 512.0,110.1 512.2,110.1 512.3,110.0 512.4,110.0 512.5,109.9 512.7,109.9 512.8,109.8 512.9,109.8 513.0,109.8 513.1,109.7 513.3,109.7 513.4,109.6 513.5,109.6 513.6,109.6 513.8,109.5 513.9,109.5 514.0,109.5 514.1,109.4 514.2,109.4 514.4,109.4 514.5,109.3 514.6,109.3 514.7,109.3 514.9,109.3 515.0,109.2 515.1,109.2 515.2,109.2 515.3,109.2 515.5,109.1 515.6,109.1 515.7,109.1 515.8,109.1 516.0,109.0 516.1,109.0 516.2,109.0 516.3,109.0 516.4,108.9 516.6,108.9 516.7,108.9 516.8,108.9 516.9,108.8 517.1,108.8 517.2,108.8 517.3,108.8 517.4,108.8 517.6,108.7 517.7,108.7 517.8,108.7 517.9,108.7 518.0,108.7 518.2,108.7 518.3,108.6 518.4,108.6 518.5,108.6 518.7,108.6 518.8,108.6 518.9,108.5 519.0,108.5 519.1,108.5 519.3,108.5 519.4,108.5 519.5,108.5 519.6,108.5 519.8,108.4 519.9,108.4 520.0,108.4 520.1,108.4 520.2,108.4 520.4,108.4 520.5,108.4 520.6,108.3 520.7,108.3 520.9,108.3 521.0,108.3 521.1,108.3 521.2,108.3 521.3,108.3 521.5,108.3 521.6,108.2 521.7,108.2 521.8,108.2 522.0,108.2 522.1,108.2 522.2,108.2 522.3,108.2 522.4,108.2 522.6,108.2 522.7,108.1 522.8,108.1 522.9,108.1 523.1,108.1 523.2,108.1 523.3,108.1 523.4,108.1 523.5,108.1 523.7,108.1 523.8,108.1 523.9,108.1 524.0,108.0 524.2,108.0 524.3,108.0 524.4,108.0 524.5,108.0 524.7,108.0 524.8,108.0 524.9,108.0 525.0,108.0 525.1,108.0 525.3,108.0 525.4,108.0 525.5,108.0 525.6,108.0 525.8,107.9 525.9,107.9 526.0,107.9 526.1,107.9 526.2,107.9 526.4,107.9 526.5,107.9 526.6,107.9 526.7,107.9 526.9,107.9 527.0,107.9 527.1,107.9 527.2,107.9 527.3,107.9 527.5,107.9 527.6,107.9 527.7,107.8 527.8,107.8 528.0,107.8 528.1,107.8 528.2,107.8"/>
<path d="M99.80 131.25v-5.80M99.80 6.80v5.80M161.00 131.25v-5.80M161.00 6.80v5.80M222.20 131.25v-5.80M222.20 6.80v5.80M283.40 131.25v-5.80M283.40 6.80v5.80M344.60 131.25v-5.80M344.60 6.80v5.80M405.80 131.25v-5.80M405.80 6.80v5.80M467.00 131.25v-5.80M467.00 6.80v5.80M38.60 123.47h5.80M528.20 123.47h-5.80M38.60 84.58h5.80M528.20 84.58h-5.80M38.60 45.69h5.80M528.20 45.69h-5.80" stroke="#1a1a1a" stroke-width="1.3" fill="none"/>
<rect x="38.60" y="6.80" width="489.60" height="124.45" fill="none" stroke="#1a1a1a" stroke-width="1.5"/>
<text x="38.6" y="146.8" font-size="11.2" text-anchor="middle">0</text>
<text x="99.8" y="146.8" font-size="11.2" text-anchor="middle">2000</text>
<text x="161.0" y="146.8" font-size="11.2" text-anchor="middle">4000</text>
<text x="222.2" y="146.8" font-size="11.2" text-anchor="middle">6000</text>
<text x="283.4" y="146.8" font-size="11.2" text-anchor="middle">8000</text>
<text x="344.6" y="146.8" font-size="11.2" text-anchor="middle">10,000</text>
<text x="405.8" y="146.8" font-size="11.2" text-anchor="middle">12,000</text>
<text x="467.0" y="146.8" font-size="11.2" text-anchor="middle">14,000</text>
<text x="528.2" y="146.8" font-size="11.2" text-anchor="middle">16,000</text>
<text x="35.0" y="128.0" font-size="11.5" text-anchor="end">3</text>
<text x="35.0" y="89.1" font-size="11.5" text-anchor="end">3.5</text>
<text x="35.0" y="50.2" font-size="11.5" text-anchor="end">4</text>
<text x="35.0" y="11.3" font-size="11.5" text-anchor="end">4.5</text>
<text x="283.4" y="162.2" font-size="12.3" text-anchor="middle">Time (s)</text>
<text transform="translate(13.7 68.7) rotate(-90)" font-size="12.7" text-anchor="middle">Voltage (V)</text>
<rect x="429.7" y="11.5" width="93.5" height="14.3" fill="#fff" stroke="#1a1a1a" stroke-width="1.5"/>
<path d="M432.7 18.8H449.5" stroke="#0000ff" stroke-width="1.4"/>
<text x="451.3" y="22.6" font-size="10.4" >UDDS Voltage</text>
<clipPath id="c170"><rect x="40.0" y="170.0" width="488.4" height="123.8"/></clipPath>
<polyline clip-path="url(#c170)" fill="none" stroke="#ff00ff" stroke-width="1.3" stroke-linejoin="round" points="40.0,224.5 40.1,232.0 40.1,238.3 40.2,237.0 40.2,236.3 40.3,233.6 40.4,227.5 40.4,221.3 40.5,208.4 40.5,203.0 40.6,200.4 40.7,196.6 40.7,194.5 40.8,195.1 40.9,200.8 40.9,203.0 41.0,208.6 41.0,213.4 41.1,217.6 41.2,222.5 41.2,226.9 41.3,230.1 41.3,229.9 41.4,232.7 41.5,227.2 41.5,223.3 41.6,218.2 41.6,222.3 41.7,210.3 41.8,214.0 41.8,217.3 41.9,210.9 42.0,222.6 42.0,230.5 42.1,232.5 42.1,229.7 42.2,220.9 42.3,227.1 42.3,235.9 42.4,238.7 42.4,237.9 42.5,235.4 42.6,232.9 42.6,227.4 42.7,220.0 42.7,220.2 42.8,212.1 42.9,205.4 42.9,211.3 43.0,216.3 43.1,203.0 43.1,194.0 43.2,185.3 43.2,182.8 43.3,180.4 43.4,180.8 43.4,188.6 43.5,194.6 43.5,204.4 43.6,208.5 43.7,216.4 43.7,223.6 43.8,214.7 43.8,207.8 43.9,214.5 44.0,218.7 44.0,218.7 44.1,224.0 44.2,231.5 44.2,233.2 44.3,231.7 44.3,233.6 44.4,228.8 44.5,221.9 44.5,217.8 44.6,199.9 44.6,197.9 44.7,199.5 44.8,203.8 44.8,208.3 44.9,214.3 44.9,209.7 45.0,212.9 45.1,218.2 45.1,214.5 45.2,217.4 45.3,215.7 45.3,209.6 45.4,223.4 45.4,228.3 45.5,239.9 45.6,249.2 45.6,248.7 45.7,246.5 45.7,239.7 45.8,229.1 45.9,228.0 45.9,239.8 46.0,259.7 46.0,265.8 46.1,272.0 46.2,262.1 46.2,258.3 46.3,242.5 46.3,234.0 46.4,245.2 46.5,254.4 46.5,253.5 46.6,253.6 46.7,245.0 46.7,237.2 46.8,227.0 46.8,219.0 46.9,213.9 47.0,221.0 47.0,220.4 47.1,227.4 47.1,231.6 47.2,225.8 47.3,207.3 47.3,200.2 47.4,199.6 47.4,199.2 47.5,197.8 47.6,193.5 47.6,195.1 47.7,194.3 47.8,197.3 47.8,202.2 47.9,207.5 47.9,233.5 48.0,232.9 48.1,234.1 48.1,241.9 48.2,251.1 48.2,250.5 48.3,253.0 48.4,240.0 48.4,233.3 48.5,225.8 48.5,223.6 48.6,230.6 48.7,221.7 48.7,229.8 48.8,234.4 48.9,230.0 48.9,223.2 49.0,212.0 49.0,225.7 49.1,230.0 49.2,213.3 49.2,222.7 49.3,213.8 49.3,211.2 49.4,209.0 49.5,207.0 49.5,198.0 49.6,191.0 49.6,187.6 49.7,187.3 49.8,182.9 49.8,192.0 49.9,199.4 50.0,206.2 50.0,211.3 50.1,210.2 50.1,218.6 50.2,227.7 50.3,228.5 50.3,225.6 50.4,219.3 50.4,207.7 50.5,218.2 50.6,222.6 50.6,228.6 50.7,230.5 50.7,243.0 50.8,248.9 50.9,253.0 50.9,249.4 51.0,242.5 51.1,230.9 51.1,222.3 51.2,218.7 51.2,218.9 51.3,224.9 51.4,214.9 51.4,210.2 51.5,221.8 51.5,226.7 51.6,230.3 51.7,204.9 51.7,197.7 51.8,185.2 51.8,183.3 51.9,179.4 52.0,220.2 52.0,223.9 52.1,232.0 52.1,234.4 52.2,235.4 52.3,235.6 52.3,228.4 52.4,225.3 52.5,221.3 52.5,224.5 52.6,228.7 52.6,218.2 52.7,227.6 52.8,223.0 52.8,217.6 52.9,219.7 52.9,211.2 53.0,220.4 53.1,225.3 53.1,235.6 53.2,255.0 53.2,258.1 53.3,261.7 53.4,262.8 53.4,249.0 53.5,239.7 53.6,225.1 53.6,230.7 53.7,216.5 53.7,217.6 53.8,211.0 53.9,217.9 53.9,215.6 54.0,211.1 54.0,216.2 54.1,215.9 54.2,210.8 54.2,214.1 54.3,214.0 54.3,210.8 54.4,208.1 54.5,204.7 54.5,200.4 54.6,195.4 54.7,198.4 54.7,195.0 54.8,199.4 54.8,203.7 54.9,207.7 55.0,218.9 55.0,208.5 55.1,218.3 55.1,214.1 55.2,219.4 55.3,214.2 55.3,219.1 55.4,223.1 55.4,227.8 55.5,223.6 55.6,223.1 55.6,227.5 55.7,231.4 55.8,230.3 55.8,233.7 55.9,227.1 55.9,222.3 56.0,218.8 56.1,189.7 56.1,187.5 56.2,187.6 56.2,193.9 56.3,199.0 56.4,205.3 56.4,209.6 56.5,215.5 56.5,208.4 56.6,209.4 56.7,217.0 56.7,212.0 56.8,210.8 56.8,218.8 56.9,223.7 57.0,228.2 57.0,225.5 57.1,218.3 57.2,223.2 57.2,220.4 57.3,215.3 57.3,219.3 57.4,224.5 57.5,228.7 57.5,231.8 57.6,234.5 57.6,232.8 57.7,229.4 57.8,224.8 57.8,217.4 57.9,217.0 57.9,215.0 58.0,208.5 58.1,206.4 58.1,215.4 58.2,203.9 58.3,195.9 58.3,191.4 58.4,184.4 58.4,180.9 58.5,183.8 58.6,188.2 58.6,196.4 58.7,204.6 58.7,208.6 58.8,218.3 58.9,219.8 58.9,218.1 59.0,220.0 59.0,222.5 59.1,228.3 59.2,235.2 59.2,231.7 59.3,233.3 59.4,228.1 59.4,223.1 59.5,217.5 59.5,212.2 59.6,213.5 59.7,216.6 59.7,218.9 59.8,211.4 59.8,214.8 59.9,222.8 60.0,209.3 60.0,211.3 60.1,214.9 60.1,214.8 60.2,214.0 60.3,217.5 60.3,218.2 60.4,218.9 60.5,223.3 60.5,231.2 60.6,235.5 60.6,235.0 60.7,232.8 60.8,230.5 60.8,223.4 60.9,218.1 60.9,216.8 61.0,219.4 61.1,217.8 61.1,218.0 61.2,222.7 61.2,222.8 61.3,223.0 61.4,219.0 61.4,206.5 61.5,214.9 61.6,222.6 61.6,215.3 61.7,212.9 61.7,221.9 61.8,214.5 61.9,216.2 61.9,215.8 62.0,212.8 62.0,209.9 62.1,217.1 62.2,213.5 62.2,216.9 62.3,217.0 62.3,216.8 62.4,224.4 62.5,229.0 62.5,230.8 62.6,230.8 62.6,232.0 62.7,224.0 62.8,223.0 62.8,217.7 62.9,201.6 63.0,193.1 63.0,196.0 63.1,194.1 63.1,198.7 63.2,201.7 63.3,208.1 63.3,214.9 63.4,218.7 63.4,223.1 63.5,220.5 63.6,214.0 63.6,214.7 63.7,213.7 63.7,214.6 63.8,206.9 63.9,202.3 63.9,202.2 64.0,202.0 64.1,220.7 64.1,227.6 64.2,232.8 64.2,237.9 64.3,239.2 64.4,239.1 64.4,234.2 64.5,227.9 64.5,220.8 64.6,201.1 64.7,199.8 64.7,198.2 64.8,197.1 64.8,202.6 64.9,205.9 65.0,208.0 65.0,208.7 65.1,209.1 65.2,219.2 65.2,219.8 65.3,215.6 65.3,210.0 65.4,216.2 65.5,215.7 65.5,213.2 65.6,224.1 65.6,217.4 65.7,219.2 65.8,211.3 65.8,215.9 65.9,207.3 65.9,206.2 66.0,202.0 66.1,198.1 66.1,196.7 66.2,198.2 66.3,201.0 66.3,203.4 66.4,208.8 66.4,212.2 66.5,212.7 66.6,216.9 66.6,212.9 66.7,216.8 66.7,221.6 66.8,222.5 66.9,221.9 66.9,226.6 67.0,232.1 67.0,230.8 67.1,229.5 67.2,228.6 67.2,221.3 67.3,218.0 67.4,211.0 67.4,222.7 67.5,215.4 67.5,219.3 67.6,212.3 67.7,217.1 67.7,217.3 67.8,212.3 67.8,206.2 67.9,219.2 68.0,215.4 68.0,212.9 68.1,215.1 68.1,218.2 68.2,222.6 68.3,229.4 68.3,232.0 68.4,232.2 68.4,231.7 68.5,230.7 68.6,223.3 68.6,218.0 68.7,201.7 68.8,195.5 68.8,192.5 68.9,193.2 68.9,190.1 69.0,195.5 69.1,200.3 69.1,205.9 69.2,211.8 69.2,218.6 69.3,210.2 69.4,210.9 69.4,214.2 69.5,210.2 69.5,217.4 69.6,224.0 69.7,230.9 69.7,234.4 69.8,235.8 69.9,233.1 69.9,227.8 70.0,224.9 70.0,217.8 70.1,215.9 70.2,221.8 70.2,212.1 70.3,209.0 70.3,216.2 70.4,208.9 70.5,202.5 70.5,198.4 70.6,193.2 70.6,194.3 70.7,191.2 70.8,197.9 70.8,202.8 70.9,205.1 71.0,211.9 71.0,209.5 71.1,212.3 71.1,218.0 71.2,222.9 71.3,227.2 71.3,226.0 71.4,226.4 71.4,220.7 71.5,216.7 71.6,219.1 71.6,220.3 71.7,215.4 71.7,220.1 71.8,207.4 71.9,217.3 71.9,217.7 72.0,213.8 72.1,210.5 72.1,209.1 72.2,218.1 72.2,212.4 72.3,219.6 72.4,225.7 72.4,233.5 72.5,239.3 72.5,243.1 72.6,240.5 72.7,233.9 72.7,225.0 72.8,218.5 72.8,195.0 72.9,194.0 73.0,200.4 73.0,203.2 73.1,206.0 73.2,220.4 73.2,223.0 73.3,213.3 73.3,213.0 73.4,213.4 73.5,213.2 73.5,206.7 73.6,201.0 73.6,202.4 73.7,201.9 73.8,208.8 73.8,220.0 73.9,212.1 73.9,216.3 74.0,223.5 74.1,227.7 74.1,232.6 74.2,232.8 74.2,233.5 74.3,228.2 74.4,223.7 74.4,217.8 74.5,213.0 74.6,211.9 74.6,210.5 74.7,210.8 74.7,211.9 74.8,215.3 74.9,211.6 74.9,212.6 75.0,208.0 75.0,209.1 75.1,201.7 75.2,199.3 75.2,194.0 75.3,195.0 75.3,195.8 75.4,198.1 75.5,202.5 75.5,222.9 75.6,227.9 75.7,238.6 75.7,245.5 75.8,242.2 75.8,244.9 75.9,237.0 76.0,228.6 76.0,220.3 76.1,212.0 76.1,218.2 76.2,225.8 76.3,225.1 76.3,224.9 76.4,219.8 76.4,212.4 76.5,207.1 76.6,214.6 76.6,220.1 76.7,228.3 76.8,237.6 76.8,241.7 76.9,243.1 76.9,240.8 77.0,235.3 77.1,228.9 77.1,220.1 77.2,191.6 77.2,195.3 77.3,200.7 77.4,206.5 77.4,211.2 77.5,218.4 77.5,207.9 77.6,203.9 77.7,198.8 77.7,200.5 77.8,206.4 77.9,214.4 77.9,212.6 78.0,211.4 78.0,221.6 78.1,211.1 78.2,210.6 78.2,216.5 78.3,213.3 78.3,220.1 78.4,206.7 78.5,216.2 78.5,221.0 78.6,226.0 78.6,232.4 78.7,235.7 78.8,237.7 78.8,237.3 78.9,233.0 78.9,226.6 79.0,220.3 79.1,212.4 79.1,210.0 79.2,217.9 79.3,218.0 79.3,202.3 79.4,196.4 79.4,186.5 79.5,182.9 79.6,183.5 79.6,181.5 79.7,187.1 79.7,195.9 79.8,205.5 79.9,224.3 79.9,221.1 80.0,214.0 80.0,211.2 80.1,217.7 80.2,206.5 80.2,220.8 80.3,220.0 80.4,218.4 80.4,208.3 80.5,213.1 80.5,214.8 80.6,220.0 80.7,208.6 80.7,204.0 80.8,199.2 80.8,194.2 80.9,197.8 81.0,199.5 81.0,197.6 81.1,204.5 81.1,208.0 81.2,222.8 81.3,219.3 81.3,228.4 81.4,236.8 81.5,239.8 81.5,238.7 81.6,241.1 81.6,236.1 81.7,230.0 81.8,225.8 81.8,222.2 81.9,213.9 81.9,217.5 82.0,226.4 82.1,230.6 82.1,237.3 82.2,238.1 82.2,234.8 82.3,233.3 82.4,224.4 82.4,222.0 82.5,207.4 82.6,202.1 82.6,198.7 82.7,193.7 82.7,194.5 82.8,195.3 82.9,197.4 82.9,201.9 83.0,207.8 83.0,213.5 83.1,219.9 83.2,222.0 83.2,228.1 83.3,232.2 83.3,229.5 83.4,231.8 83.5,228.4 83.5,222.4 83.6,219.2 83.7,223.1 83.7,210.7 83.8,216.3 83.8,218.0 83.9,210.3 84.0,223.0 84.0,230.6 84.1,232.8 84.1,229.8 84.2,221.8 84.3,226.3 84.3,233.2 84.4,238.0 84.4,236.7 84.5,238.9 84.6,234.8 84.6,227.4 84.7,222.3 84.7,223.2 84.8,214.0 84.9,205.1 84.9,213.8 85.0,216.7 85.1,202.0 85.1,193.9 85.2,183.6 85.2,178.2 85.3,178.2 85.4,181.1 85.4,186.8 85.5,191.9 85.5,202.6 85.6,210.2 85.7,216.9 85.7,221.7 85.8,214.3 85.8,208.3 85.9,217.1 86.0,218.2 86.0,219.8 86.1,223.6 86.2,230.7 86.2,232.0 86.3,233.5 86.3,234.3 86.4,231.1 86.5,223.0 86.5,215.9 86.6,198.4 86.6,195.6 86.7,200.7 86.8,205.0 86.8,208.5 86.9,211.3 86.9,210.3 87.0,210.5 87.1,218.4 87.1,214.4 87.2,217.9 87.3,213.9 87.3,208.6 87.4,223.4 87.4,229.8 87.5,236.7 87.6,243.5 87.6,249.9 87.7,247.8 87.7,242.0 87.8,232.4 87.9,227.4 87.9,241.1 88.0,252.8 88.0,266.2 88.1,270.0 88.2,270.4 88.2,254.0 88.3,243.6 88.4,235.8 88.4,245.5 88.5,252.4 88.5,251.6 88.6,252.6 88.7,244.8 88.7,236.1 88.8,230.5 88.8,217.6 88.9,212.2 89.0,221.0 89.0,219.4 89.1,227.4 89.1,233.9 89.2,226.9 89.3,205.1 89.3,200.0 89.4,196.9 89.5,201.5 89.5,196.3 89.6,190.7 89.6,193.7 89.7,193.3 89.8,198.9 89.8,202.5 89.9,207.8 89.9,229.6 90.0,230.4 90.1,232.5 90.1,244.1 90.2,251.3 90.2,250.6 90.3,253.9 90.4,240.4 90.4,231.2 90.5,223.3 90.5,223.7 90.6,229.7 90.7,219.8 90.7,230.0 90.8,232.3 90.9,227.7 90.9,222.9 91.0,211.4 91.0,225.3 91.1,231.0 91.2,213.9 91.2,223.0 91.3,214.3 91.3,210.7 91.4,209.6 91.5,204.7 91.5,196.8 91.6,188.1 91.6,185.3 91.7,186.4 91.8,184.4 91.8,188.9 91.9,198.1 92.0,207.0 92.0,212.6 92.1,209.7 92.1,219.7 92.2,229.0 92.3,227.4 92.3,225.4 92.4,219.8 92.4,205.8 92.5,218.2 92.6,222.5 92.6,226.4 92.7,233.7 92.7,243.8 92.8,249.5 92.9,250.3 92.9,248.7 93.0,246.4 93.1,234.3 93.1,222.8 93.2,219.0 93.2,217.8 93.3,226.4 93.4,216.9 93.4,209.4 93.5,219.5 93.5,227.7 93.6,229.1 93.7,201.8 93.7,197.6 93.8,187.0 93.8,183.4 93.9,180.6 94.0,216.6 94.0,225.5 94.1,228.9 94.2,235.6 94.2,237.3 94.3,234.4 94.3,230.2 94.4,227.4 94.5,223.7 94.5,224.0 94.6,227.1 94.6,219.7 94.7,228.7 94.8,224.1 94.8,216.4 94.9,220.3 94.9,213.7 95.0,218.1 95.1,224.9 95.1,238.4 95.2,249.5 95.3,258.2 95.3,263.0 95.4,255.0 95.4,251.2 95.5,236.9 95.6,226.7 95.6,231.9 95.7,217.3 95.7,214.2 95.8,213.0 95.9,217.0 95.9,213.9 96.0,211.4 96.0,214.2 96.1,216.1 96.2,212.3 96.2,214.9 96.3,212.6 96.3,210.7 96.4,207.9 96.5,203.3 96.5,198.1 96.6,194.1 96.7,195.1 96.7,197.6 96.8,197.0 96.8,203.0 96.9,207.4 97.0,219.5 97.0,209.8 97.1,217.0 97.1,214.4 97.2,220.1 97.3,215.5 97.3,219.1 97.4,226.2 97.4,225.2 97.5,223.3 97.6,224.1 97.6,228.1 97.7,234.7 97.8,233.3 97.8,232.9 97.9,229.0 97.9,223.9 98.0,219.5 98.1,188.8 98.1,186.2 98.2,187.3 98.2,190.8 98.3,198.9 98.4,205.4 98.4,210.7 98.5,215.2 98.5,208.2 98.6,212.5 98.7,216.9 98.7,210.8 98.8,210.7 98.9,219.3 98.9,224.4 99.0,225.0 99.0,223.9 99.1,218.8 99.2,223.2 99.2,221.2 99.3,215.0 99.3,215.5 99.4,223.2 99.5,230.3 99.5,233.1 99.6,234.1 99.6,237.2 99.7,230.5 99.8,223.0 99.8,218.6 99.9,219.9 100.0,215.8 100.0,210.5 100.1,207.9 100.1,214.3 100.2,205.3 100.3,198.5 100.3,186.1 100.4,182.4 100.4,181.6 100.5,179.6 100.6,189.2 100.6,198.3 100.7,206.6 100.7,207.7 100.8,220.7 100.9,220.6 100.9,217.6 101.0,219.1 101.0,223.1 101.1,228.0 101.2,230.3 101.2,230.7 101.3,230.8 101.4,227.7 101.4,222.6 101.5,217.0 101.5,212.3 101.6,213.3 101.7,220.1 101.7,220.3 101.8,212.4 101.8,213.3 101.9,220.0 102.0,208.7 102.0,211.9 102.1,213.5 102.1,216.1 102.2,212.6 102.3,218.0 102.3,219.2 102.4,217.8 102.5,224.7 102.5,230.0 102.6,234.2 102.6,232.3 102.7,233.8 102.8,231.1 102.8,222.3 102.9,219.7 102.9,215.9 103.0,218.5 103.1,215.8 103.1,219.2 103.2,222.1 103.2,224.4 103.3,223.9 103.4,219.6 103.4,206.9 103.5,216.0 103.6,222.8 103.6,214.4 103.7,213.9 103.7,222.4 103.8,211.6 103.9,213.2 103.9,217.9 104.0,210.3 104.0,209.6 104.1,215.0 104.2,212.5 104.2,216.4 104.3,217.7 104.3,217.7 104.4,224.9 104.5,226.6 104.5,233.1 104.6,232.2 104.7,231.9 104.7,229.8 104.8,223.0 104.8,217.5 104.9,202.6 105.0,197.5 105.0,195.7 105.1,194.1 105.1,200.6 105.2,202.7 105.3,208.9 105.3,215.8 105.4,218.1 105.4,221.6 105.5,222.4 105.6,214.9 105.6,216.7 105.7,213.3 105.8,215.6 105.8,207.6 105.9,200.5 105.9,199.5 106.0,200.7 106.1,220.6 106.1,228.0 106.2,232.8 106.2,240.6 106.3,240.3 106.4,239.1 106.4,234.5 106.5,227.2 106.5,220.9 106.6,201.7 106.7,197.3 106.7,199.9 106.8,198.1 106.8,201.0 106.9,205.2 107.0,208.7 107.0,212.0 107.1,207.7 107.2,218.4 107.2,220.1 107.3,215.0 107.3,210.7 107.4,215.4 107.5,217.3 107.5,212.5 107.6,221.8 107.6,217.1 107.7,218.2 107.8,214.4 107.8,215.1 107.9,208.1 107.9,204.3 108.0,201.8 108.1,196.5 108.1,197.5 108.2,198.4 108.3,199.8 108.3,204.5 108.4,208.4 108.4,210.7 108.5,214.6 108.6,217.7 108.6,212.7 108.7,217.1 108.7,222.4 108.8,221.9 108.9,222.0 108.9,228.3 109.0,231.0 109.0,231.4 109.1,229.9 109.2,229.2 109.2,223.4 109.3,219.7 109.4,209.0 109.4,222.1 109.5,217.6 109.5,218.5 109.6,215.7 109.7,216.9 109.7,217.4 109.8,211.3 109.8,206.5 109.9,222.4 110.0,215.1 110.0,212.6 110.1,215.1 110.1,219.1 110.2,222.1 110.3,227.9 110.3,231.3 110.4,233.9 110.5,229.0 110.5,227.9 110.6,224.9 110.6,217.0 110.7,204.8 110.8,196.3 110.8,192.6 110.9,193.0 110.9,192.9 111.0,195.1 111.1,201.9 111.1,207.0 111.2,214.1 111.2,219.3 111.3,210.2 111.4,211.0 111.4,215.7 111.5,209.0 111.6,217.2 111.6,225.9 111.7,230.9 111.7,233.1 111.8,235.5 111.9,235.5 111.9,229.5 112.0,224.0 112.0,217.7 112.1,214.7 112.2,218.9 112.2,210.3 112.3,211.7 112.3,214.8 112.4,206.5 112.5,200.8 112.5,196.3 112.6,194.3 112.6,193.0 112.7,191.4 112.8,193.4 112.8,202.2 112.9,209.3 113.0,214.5 113.0,209.6 113.1,214.2 113.1,219.6 113.2,223.1 113.3,228.0 113.3,228.9 113.4,224.1 113.4,219.9 113.5,215.8 113.6,220.8 113.6,217.9 113.7,215.4 113.7,220.2 113.8,208.1 113.9,217.6 113.9,217.0 114.0,213.5 114.1,208.4 114.1,209.6 114.2,216.7 114.2,211.7 114.3,219.3 114.4,225.4 114.4,234.1 114.5,240.3 114.5,237.4 114.6,239.9 114.7,234.3 114.7,226.1 114.8,219.4 114.8,192.2 114.9,193.4 115.0,197.9 115.0,202.7 115.1,208.1 115.2,219.1 115.2,224.6 115.3,214.5 115.3,215.1 115.4,214.3 115.5,212.5 115.5,207.6 115.6,202.1 115.6,202.0 115.7,201.6 115.8,208.6 115.8,218.1 115.9,213.0 115.9,218.7 116.0,223.3 116.1,229.0 116.1,234.2 116.2,231.5 116.3,231.1 116.3,229.7 116.4,224.6 116.4,219.6 116.5,211.7 116.6,210.5 116.6,211.9 116.7,210.4 116.7,213.3 116.8,215.8 116.9,210.2 116.9,213.1 117.0,208.3 117.0,207.4 117.1,202.4 117.2,197.8 117.2,194.7 117.3,195.3 117.4,196.8 117.4,195.7 117.5,204.6 117.5,220.9 117.6,230.7 117.7,237.2 117.7,245.2 117.8,244.1 117.8,242.6 117.9,237.8 118.0,228.0 118.0,220.6 118.1,209.8 118.1,219.2 118.2,224.6 118.3,225.9 118.3,227.7 118.4,218.4 118.4,212.7 118.5,206.8 118.6,215.9 118.6,220.9 118.7,230.2 118.8,232.6 118.8,241.4 118.9,244.3 118.9,244.0 119.0,235.1 119.1,230.1 119.1,221.2 119.2,192.4 119.2,194.5 119.3,201.6 119.4,206.5 119.4,210.0 119.5,219.4 119.5,208.1 119.6,200.3 119.7,199.7 119.7,201.8 119.8,207.4 119.9,214.4 119.9,210.6 120.0,211.5 120.0,218.7 120.1,214.9 120.2,210.7 120.2,218.2 120.3,213.8 120.3,219.9 120.4,208.6 120.5,215.6 120.5,220.9 120.6,226.6 120.6,231.5 120.7,238.5 120.8,238.9 120.8,238.2 120.9,234.5 121.0,227.6 121.0,218.6 121.1,211.7 121.1,211.1 121.2,219.1 121.3,216.8 121.3,205.5 121.4,195.7 121.4,188.3 121.5,179.8 121.6,184.6 121.6,180.3 121.7,189.8 121.7,195.6 121.8,203.9 121.9,225.6 121.9,218.8 122.0,214.4 122.1,210.4 122.1,215.3 122.2,206.4 122.2,222.6 122.3,217.7 122.4,219.1 122.4,207.5 122.5,212.6 122.5,215.7 122.6,220.5 122.7,209.0 122.7,202.3 122.8,198.3 122.8,197.1 122.9,195.2 123.0,195.0 123.0,200.1 123.1,204.7 123.2,209.3 123.2,221.4 123.3,219.7 123.3,225.4 123.4,233.4 123.5,239.4 123.5,240.6 123.6,239.8 123.6,234.7 123.7,227.5 123.8,227.1 123.8,222.8 123.9,214.5 123.9,219.4 124.0,226.0 124.1,230.9 124.1,235.1 124.2,237.4 124.2,237.2 124.3,232.2 124.4,226.1 124.4,224.1 124.5,208.8 124.6,203.2 124.6,199.1 124.7,192.8 124.7,195.6 124.8,195.4 124.9,197.9 124.9,202.8 125.0,207.2 125.0,213.4 125.1,217.6 125.2,222.2 125.2,230.7 125.3,230.2 125.3,231.4 125.4,231.5 125.5,226.5 125.5,223.8 125.6,218.7 125.7,221.4 125.7,211.6 125.8,215.5 125.8,216.7 125.9,211.3 126.0,219.7 126.0,230.1 126.1,231.8 126.1,231.3 126.2,222.6 126.3,226.3 126.3,234.1 126.4,237.0 126.4,238.4 126.5,240.3 126.6,233.7 126.6,226.2 126.7,222.6 126.8,222.5 126.8,213.5 126.9,206.0 126.9,212.7 127.0,217.9 127.1,203.4 127.1,194.7 127.2,184.1 127.2,181.6 127.3,181.9 127.4,182.4 127.4,188.2 127.5,196.7 127.5,204.6 127.6,209.0 127.7,216.6 127.7,222.9 127.8,213.5 127.9,204.9 127.9,215.3 128.0,217.8 128.0,219.5 128.1,224.0 128.2,228.6 128.2,234.2 128.3,234.6 128.3,233.0 128.4,228.9 128.5,223.4 128.5,217.8 128.6,196.0 128.6,195.8 128.7,201.0 128.8,203.9 128.8,209.1 128.9,210.6 128.9,212.0 129.0,212.8 129.1,217.5 129.1,215.1 129.2,215.8 129.3,216.2 129.3,208.8 129.4,219.3 129.4,231.3 129.5,237.3 129.6,249.2 129.6,247.5 129.7,248.5 129.7,240.8 129.8,229.9 129.9,229.6 129.9,239.0 130.0,259.1 130.0,266.5 130.1,265.5 130.2,266.0 130.2,257.5 130.3,241.9 130.4,235.0 130.4,245.3 130.5,254.0 130.5,257.0 130.6,255.2 130.7,247.7 130.7,234.8 130.8,229.3 130.8,217.9 130.9,212.6 131.0,221.7 131.0,219.4 131.1,227.7 131.1,232.1 131.2,225.1 131.3,206.1 131.3,201.2 131.4,196.4 131.5,199.7 131.5,198.7 131.6,192.0 131.6,192.7 131.7,194.7 131.8,196.1 131.8,202.7 131.9,206.8 131.9,231.6 132.0,231.7 132.1,233.8 132.1,243.0 132.2,253.9 132.2,247.8 132.3,252.2 132.4,242.5 132.4,231.5 132.5,226.3 132.6,221.9 132.6,230.9 132.7,220.5 132.7,229.5 132.8,231.0 132.9,226.0 132.9,223.8 133.0,212.5 133.0,228.0 133.1,230.6 133.2,213.1 133.2,220.9 133.3,215.2 133.3,212.1 133.4,209.2 133.5,206.1 133.5,198.0 133.6,188.4 133.7,184.7 133.7,184.0 133.8,189.0 133.8,192.8 133.9,198.7 134.0,204.9 134.0,212.8 134.1,210.2 134.1,217.4 134.2,226.9 134.3,228.5 134.3,227.9 134.4,218.2 134.4,204.8 134.5,220.0 134.6,221.8 134.6,227.3 134.7,235.6 134.7,245.3 134.8,245.7 134.9,246.8 134.9,248.4 135.0,240.1 135.1,233.2 135.1,221.4 135.2,221.1 135.2,219.3 135.3,226.6 135.4,214.5 135.4,209.0 135.5,220.9 135.5,227.1 135.6,230.6 135.7,205.0 135.7,196.6 135.8,186.4 135.8,180.3 135.9,179.1 136.0,219.5 136.0,225.9 136.1,228.9 136.2,234.4 136.2,234.0 136.3,234.8 136.3,229.9 136.4,227.4 136.5,222.2 136.5,226.5 136.6,229.0 136.6,220.3 136.7,226.0 136.8,223.5 136.8,217.8 136.9,219.0 136.9,214.5 137.0,218.5 137.1,225.6 137.1,238.8 137.2,254.0 137.3,262.4 137.3,259.8 137.4,260.8 137.4,248.4 137.5,238.5 137.6,225.9 137.6,232.1 137.7,217.5 137.7,215.5 137.8,211.5 137.9,216.9 137.9,215.1 138.0,210.8 138.0,214.0 138.1,215.5 138.2,210.7 138.2,214.0 138.3,212.6 138.4,211.3 138.4,209.2 138.5,203.3 138.5,197.6 138.6,194.8 138.7,196.2 138.7,195.0 138.8,196.4 138.8,203.9 138.9,209.7 139.0,218.4 139.0,209.2 139.1,217.1 139.1,214.8 139.2,218.7 139.3,213.2 139.3,217.8 139.4,223.8 139.5,226.3 139.5,224.7 139.6,222.1 139.6,229.3 139.7,231.9 139.8,232.5 139.8,234.5 139.9,229.8 139.9,222.1 140.0,217.7 140.1,187.0 140.1,186.8 140.2,187.9 140.2,192.2 140.3,199.4 140.4,207.4 140.4,212.3 140.5,212.5 140.5,209.2 140.6,212.6 140.7,217.3 140.7,211.9 140.8,211.3 140.9,217.6 140.9,227.0 141.0,226.8 141.0,225.3 141.1,219.4 141.2,221.9 141.2,222.2 141.3,214.1 141.3,219.2 141.4,224.6 141.5,231.3 141.5,233.2 141.6,234.3 141.6,234.1 141.7,231.2 141.8,224.2 141.8,219.4 141.9,218.1 142.0,216.8 142.0,211.2 142.1,208.2 142.1,212.6 142.2,206.1 142.3,198.2 142.3,190.6 142.4,181.7 142.4,186.0 142.5,185.6 142.6,185.7 142.6,199.9 142.7,203.9 142.7,208.8 142.8,219.1 142.9,221.2 142.9,215.3 143.0,220.1 143.1,224.3 143.1,229.7 143.2,235.4 143.2,234.9 143.3,232.6 143.4,229.8 143.4,223.5 143.5,217.2 143.5,212.0 143.6,212.7 143.7,218.1 143.7,220.2 143.8,213.1 143.8,214.3 143.9,222.4 144.0,208.1 144.0,211.5 144.1,217.1 144.2,215.2 144.2,212.7 144.3,217.3 144.3,221.0 144.4,218.4 144.5,223.6 144.5,229.1 144.6,234.6 144.6,234.3 144.7,232.4 144.8,230.1 144.8,224.0 144.9,218.8 144.9,215.4 145.0,218.1 145.1,215.6 145.1,218.3 145.2,225.9 145.3,224.7 145.3,224.2 145.4,218.8 145.4,207.4 145.5,215.3 145.6,223.0 145.6,214.3 145.7,215.3 145.7,221.6 145.8,215.0 145.9,216.6 145.9,217.9 146.0,210.9 146.0,209.9 146.1,216.7 146.2,214.0 146.2,216.3 146.3,217.6 146.3,217.0 146.4,222.9 146.5,229.0 146.5,231.4 146.6,231.9 146.7,230.7 146.7,228.6 146.8,219.6 146.8,219.4 146.9,199.7 147.0,192.0 147.0,197.1 147.1,195.1 147.1,198.9 147.2,204.0 147.3,207.8 147.3,216.1 147.4,217.9 147.4,221.0 147.5,220.9 147.6,213.7 147.6,212.8 147.7,214.8 147.8,214.8 147.8,208.1 147.9,202.6 147.9,202.1 148.0,202.2 148.1,220.1 148.1,227.4 148.2,233.8 148.2,239.1 148.3,238.6 148.4,240.7 148.4,236.2 148.5,229.6 148.5,221.2 148.6,202.1 148.7,196.5 148.7,197.1 148.8,197.9 148.9,201.8 148.9,204.4 149.0,209.0 149.0,210.9 149.1,207.3 149.2,217.2 149.2,219.2 149.3,215.2 149.3,211.3 149.4,215.4 149.5,217.6 149.5,211.6 149.6,221.6 149.6,216.2 149.7,218.6 149.8,210.9 149.8,217.3 149.9,206.8 150.0,202.2 150.0,201.3 150.1,198.7 150.1,195.2 150.2,198.4 150.3,199.7 150.3,204.9 150.4,208.2 150.4,211.1 150.5,211.8 150.6,216.9 150.6,214.1 150.7,217.6 150.7,222.0 150.8,224.5 150.9,221.5 150.9,228.8 151.0,230.6 151.0,233.1 151.1,229.9 151.2,227.4 151.2,221.8 151.3,217.4 151.4,209.0 151.4,221.7 151.5,218.0 151.5,217.8 151.6,216.2 151.7,217.0 151.7,216.7 151.8,210.8 151.8,206.0 151.9,220.8 152.0,214.3 152.0,211.8 152.1,214.7 152.1,216.5 152.2,222.0 152.3,229.0 152.3,233.0 152.4,231.0 152.5,234.8 152.5,228.5 152.6,223.9 152.6,219.6 152.7,202.7 152.8,197.3 152.8,191.9 152.9,190.7 152.9,190.5 153.0,195.8 153.1,201.2 153.1,208.8 153.2,212.0 153.2,218.6 153.3,209.4 153.4,209.3 153.4,216.3 153.5,209.4 153.6,218.1 153.6,223.6 153.7,227.1 153.7,233.2 153.8,232.4 153.9,235.6 153.9,229.1 154.0,224.1 154.0,218.8 154.1,215.0 154.2,219.5 154.2,210.4 154.3,212.4 154.3,214.7 154.4,207.2 154.5,200.7 154.5,195.4 154.6,195.0 154.7,193.3 154.7,191.2 154.8,195.0 154.8,202.6 154.9,207.2 155.0,212.3 155.0,210.2 155.1,213.2 155.1,218.2 155.2,223.5 155.3,227.2 155.3,227.9 155.4,227.9 155.4,219.7 155.5,218.0 155.6,219.5 155.6,217.9 155.7,214.3 155.8,222.6 155.8,207.6 155.9,216.2 155.9,217.3 156.0,212.6 156.1,209.2 156.1,208.9 156.2,217.1 156.2,212.6 156.3,218.9 156.4,228.3 156.4,233.2 156.5,240.1 156.5,240.6 156.6,240.9 156.7,237.3 156.7,226.5 156.8,219.9 156.8,196.2 156.9,194.0 157.0,199.0 157.0,201.9 157.1,207.8 157.2,220.6 157.2,221.1 157.3,212.5 157.3,215.3 157.4,213.7 157.5,212.3 157.5,208.4 157.6,203.1 157.6,200.5 157.7,201.8 157.8,208.0 157.8,218.0 157.9,211.3 157.9,219.0 158.0,223.5 158.1,231.7 158.1,232.3 158.2,232.7 158.3,233.6 158.3,229.2 158.4,224.0 158.4,216.2 158.5,212.2 158.6,211.1 158.6,211.5 158.7,211.3 158.7,212.2 158.8,215.4 158.9,210.6 158.9,213.6 159.0,207.7 159.0,208.1 159.1,205.7 159.2,198.2 159.2,193.2 159.3,194.1 159.4,194.6 159.4,199.3 159.5,202.8 159.5,221.0 159.6,229.2 159.7,239.0 159.7,244.5 159.8,242.1 159.8,244.1 159.9,237.8 160.0,231.6 160.0,220.3 160.1,209.7 160.1,218.7 160.2,226.7 160.3,225.1 160.3,224.6 160.4,220.3 160.5,214.2 160.5,205.8 160.6,215.2 160.6,221.9 160.7,226.7 160.8,235.5 160.8,239.9 160.9,244.0 160.9,245.1 161.0,235.2 161.1,227.6 161.1,219.9 161.2,192.5 161.2,195.8 161.3,202.3 161.4,207.7 161.4,211.8 161.5,218.5 161.6,207.6 161.6,199.8 161.7,200.8 161.7,202.0 161.8,207.5 161.9,215.1 161.9,211.6 162.0,209.8 162.0,219.9 162.1,212.2 162.2,210.7 162.2,217.0 162.3,211.0 162.3,220.1 162.4,207.1 162.5,215.8 162.5,219.7 162.6,226.9 162.6,234.2 162.7,236.5 162.8,239.0 162.8,239.0 162.9,231.3 163.0,225.8 163.0,222.0 163.1,212.3 163.1,207.5 163.2,217.9 163.3,216.9 163.3,206.0 163.4,197.6 163.4,185.3 163.5,180.0 163.6,185.3 163.6,179.1 163.7,187.2 163.7,194.7 163.8,204.8 163.9,229.9 163.9,220.2 164.0,215.2 164.1,210.8 164.1,217.1 164.2,205.2 164.2,222.8 164.3,218.7 164.4,218.6 164.4,207.9 164.5,214.1 164.5,217.2 164.6,220.8 164.7,209.4 164.7,202.6 164.8,196.2 164.8,194.9 164.9,193.1 165.0,195.7 165.0,196.8 165.1,203.5 165.2,208.2 165.2,219.0 165.3,219.5 165.3,228.8 165.4,234.4 165.5,241.5 165.5,239.4 165.6,238.6 165.6,233.7 165.7,229.0 165.8,227.3 165.8,221.6 165.9,215.0 165.9,219.0 166.0,226.1 166.1,231.8 166.1,238.9 166.2,236.0 166.3,234.6 166.3,233.8 166.4,226.2 166.4,220.3 166.5,206.7 166.6,202.4 166.6,199.1 166.7,193.6 166.7,196.4 166.8,191.8 166.9,199.0 166.9,202.3 167.0,207.7 167.0,212.0 167.1,220.2 167.2,224.3 167.2,230.1 167.3,233.4 167.4,233.3 167.4,230.0 167.5,226.8 167.5,220.9 167.6,217.7 167.7,222.5 167.7,210.7 167.8,217.4 167.8,218.1 167.9,211.6 168.0,219.8 168.0,230.2 168.1,232.5 168.1,231.3 168.2,220.1 168.3,226.0 168.3,235.1 168.4,237.8 168.4,238.7 168.5,240.3 168.6,233.6 168.6,226.6 168.7,219.4 168.8,221.2 168.8,211.7 168.9,206.4 168.9,212.5 169.0,215.3 169.1,203.8 169.1,194.7 169.2,184.6 169.2,179.5 169.3,178.6 169.4,182.7 169.4,186.1 169.5,193.4 169.5,201.8 169.6,208.3 169.7,215.9 169.7,222.5 169.8,214.3 169.9,205.8 169.9,215.7 170.0,218.8 170.0,217.1 170.1,225.9 170.2,230.4 170.2,236.2 170.3,237.1 170.3,235.4 170.4,230.9 170.5,224.2 170.5,218.6 170.6,197.2 170.6,197.5 170.7,201.4 170.8,203.0 170.8,208.6 170.9,211.8 171.0,209.1 171.0,212.6 171.1,217.1 171.1,216.5 171.2,217.7 171.3,215.2 171.3,208.7 171.4,223.0 171.4,232.1 171.5,241.1 171.6,244.6 171.6,248.0 171.7,248.0 171.7,240.8 171.8,234.8 171.9,228.8 171.9,244.1 172.0,260.7 172.1,273.7 172.1,265.6 172.2,265.7 172.2,258.5 172.3,242.9 172.4,235.0 172.4,246.2 172.5,253.0 172.5,251.6 172.6,250.2 172.7,247.0 172.7,235.4 172.8,230.8 172.8,217.7 172.9,212.8 173.0,222.2 173.0,217.8 173.1,227.4 173.2,231.7 173.2,225.6 173.3,204.9 173.3,198.4 173.4,196.6 173.5,199.4 173.5,195.5 173.6,194.5 173.6,193.5 173.7,192.2 173.8,197.5 173.8,203.5 173.9,206.4 173.9,233.5 174.0,231.8 174.1,233.6 174.1,241.5 174.2,247.4 174.2,251.0 174.3,252.7 174.4,243.7 174.4,231.6 174.5,224.0 174.6,221.3 174.6,229.5 174.7,219.0 174.7,231.5 174.8,233.0 174.9,229.2 174.9,224.6 175.0,212.8 175.0,227.6 175.1,232.4 175.2,213.8 175.2,221.4 175.3,215.3 175.3,212.4 175.4,208.2 175.5,205.7 175.5,198.4 175.6,192.9 175.7,185.3 175.7,183.9 175.8,188.8 175.8,190.0 175.9,197.6 176.0,207.8 176.0,211.9 176.1,209.4 176.1,221.7 176.2,226.7 176.3,228.3 176.3,226.1 176.4,219.0 176.4,206.5 176.5,218.7 176.6,220.9 176.6,226.2 176.7,234.7 176.8,241.8 176.8,252.8 176.9,249.2 176.9,249.6 177.0,243.4 177.1,235.1 177.1,223.5 177.2,216.4 177.2,219.2 177.3,223.8 177.4,215.1 177.4,208.2 177.5,220.1 177.5,225.8 177.6,230.5 177.7,201.7 177.7,193.6 177.8,187.6 177.9,180.1 177.9,178.7 178.0,218.5 178.0,225.3 178.1,229.2 178.2,235.8 178.2,236.2 178.3,237.3 178.3,229.7 178.4,225.4 178.5,223.1 178.5,225.8 178.6,231.9 178.6,218.2 178.7,225.2 178.8,223.2 178.8,216.6 178.9,220.3 178.9,214.6 179.0,216.8 179.1,225.1 179.1,237.6 179.2,255.9 179.3,260.2 179.3,257.4 179.4,262.8 179.4,253.6 179.5,239.1 179.6,226.5 179.6,229.4 179.7,217.4 179.7,214.7 179.8,209.9 179.9,217.8 179.9,214.4 180.0,210.3 180.0,214.0 180.1,215.8 180.2,209.2 180.2,214.3 180.3,212.2 180.4,209.6 180.4,209.2 180.5,201.8 180.5,199.3 180.6,195.8 180.7,195.9 180.7,195.8 180.8,198.7 180.8,204.0 180.9,208.6 181.0,218.8 181.0,210.1 181.1,217.5 181.1,214.3 181.2,220.0 181.3,215.7 181.3,218.6 181.4,222.8 181.5,227.5 181.5,225.8 181.6,221.5 181.6,226.7 181.7,231.5 181.8,231.3 181.8,231.6 181.9,229.1 181.9,222.6 182.0,217.8 182.1,188.7 182.1,188.9 182.2,186.9 182.2,192.5 182.3,202.7 182.4,205.0 182.4,211.0 182.5,214.6 182.6,208.9 182.6,211.3 182.7,218.0 182.7,212.5 182.8,210.7 182.9,217.5 182.9,225.2 183.0,227.2 183.0,228.1 183.1,219.0 183.2,223.9 183.2,223.7 183.3,215.4 183.3,217.3 183.4,223.3 183.5,229.4 183.5,233.8 183.6,234.2 183.7,234.3 183.7,229.6 183.8,224.6 183.8,218.4 183.9,219.2 184.0,214.9 184.0,210.1 184.1,206.9 184.1,212.4 184.2,202.2 184.3,197.8 184.3,188.4 184.4,183.5 184.4,186.0 184.5,184.1 184.6,187.9 184.6,197.4 184.7,205.2 184.7,208.8 184.8,221.6 184.9,220.4 184.9,215.7 185.0,218.8 185.1,223.6 185.1,229.6 185.2,232.9 185.2,233.0 185.3,234.3 185.4,226.9 185.4,223.2 185.5,218.2 185.5,211.3 185.6,213.6 185.7,219.2 185.7,220.8 185.8,212.5 185.8,214.2 185.9,220.1 186.0,208.9 186.0,211.8 186.1,214.9 186.2,216.5 186.2,211.7 186.3,216.1 186.3,220.2 186.4,219.3 186.5,223.5 186.5,228.8 186.6,235.2 186.6,234.8 186.7,235.3 186.8,232.1 186.8,224.7 186.9,218.8 186.9,217.8 187.0,218.8 187.1,216.2 187.1,217.8 187.2,222.9 187.3,223.8 187.3,224.4 187.4,218.0 187.4,206.2 187.5,217.4 187.6,222.8 187.6,214.1 187.7,215.5 187.7,220.7 187.8,214.8 187.9,214.3 187.9,215.8 188.0,212.9 188.0,209.9 188.1,214.4 188.2,213.7 188.2,215.6 188.3,217.6 188.4,217.4 188.4,222.9 188.5,229.5 188.5,230.3 188.6,232.5 188.7,234.5 188.7,227.8 188.8,222.3 188.8,217.8 188.9,196.3 189.0,197.0 189.0,194.9 189.1,195.8 189.1,199.9 189.2,201.9 189.3,206.5 189.3,215.8 189.4,220.1 189.5,222.0 189.5,221.7 189.6,212.4 189.6,214.6 189.7,212.8 189.8,213.5 189.8,207.1 189.9,203.6 189.9,200.7 190.0,202.5 190.1,221.6 190.1,227.9 190.2,236.5 190.2,237.4 190.3,238.2 190.4,241.0 190.4,234.0 190.5,226.5 190.5,218.9 190.6,201.7 190.7,200.3 190.7,198.7 190.8,201.0 190.9,200.1 190.9,205.8 191.0,208.9 191.0,210.2 191.1,208.7 191.2,217.0 191.2,218.0 191.3,213.9 191.3,212.6 191.4,215.0 191.5,217.3 191.5,213.1 191.6,222.7 191.6,216.7 191.7,219.5 191.8,213.4 191.8,218.9 191.9,209.0 192.0,204.0 192.0,200.9 192.1,197.2 192.1,196.1 192.2,196.6 192.3,200.5 192.3,203.9 192.4,208.9 192.4,214.7 192.5,211.4 192.6,217.2 192.6,211.7 192.7,216.8 192.7,222.8 192.8,223.3 192.9,222.5 192.9,227.9 193.0,232.4 193.1,231.3 193.1,235.2 193.2,227.4 193.2,222.7 193.3,217.4 193.4,209.5 193.4,222.3 193.5,218.1 193.5,219.9 193.6,213.5 193.7,216.6 193.7,218.7 193.8,211.8 193.8,204.4 193.9,221.2 194.0,214.9 194.0,212.9 194.1,214.5 194.2,218.9 194.2,222.5 194.3,226.8 194.3,233.5 194.4,232.6 194.5,234.5 194.5,227.1 194.6,222.9 194.6,215.2 194.7,200.0 194.8,194.0 194.8,193.2 194.9,192.4 194.9,192.3 195.0,194.7 195.1,201.3 195.1,207.3 195.2,211.8 195.3,219.7 195.3,210.5 195.4,209.8 195.4,214.4 195.5,209.4 195.6,218.3 195.6,224.8 195.7,229.8 195.7,236.2 195.8,236.9 195.9,234.8 195.9,228.7 196.0,226.9 196.0,218.6 196.1,216.3 196.2,219.2 196.2,209.9 196.3,208.7 196.3,213.8 196.4,206.8 196.5,201.9 196.5,196.2 196.6,193.4 196.7,189.7 196.7,193.0 196.8,194.2 196.8,201.6 196.9,209.3 197.0,212.4 197.0,210.0 197.1,212.6 197.1,217.7 197.2,221.6 197.3,227.9 197.3,229.8 197.4,228.7 197.4,221.5 197.5,219.3 197.6,220.3 197.6,217.7 197.7,214.7 197.8,219.9 197.8,207.7 197.9,216.5 197.9,217.3 198.0,212.5 198.1,208.9 198.1,207.8 198.2,216.8 198.2,212.2 198.3,218.5 198.4,226.9 198.4,231.1 198.5,240.5 198.5,239.8 198.6,238.2 198.7,234.4 198.7,224.8 198.8,221.3 198.9,193.0 198.9,193.4 199.0,197.6 199.0,203.2 199.1,207.3 199.2,221.3 199.2,220.3 199.3,212.7 199.3,215.7 199.4,213.9 199.5,211.3 199.5,207.7 199.6,203.4 199.6,201.9 199.7,202.8 199.8,209.3 199.8,218.9 199.9,210.4 200.0,218.6 200.0,222.0 200.1,227.3 200.1,230.7 200.2,234.1 200.3,231.3 200.3,231.5 200.4,224.7 200.4,217.8 200.5,211.1 200.6,211.5 200.6,212.2 200.7,210.5 200.7,212.6 200.8,216.0 200.9,212.1 200.9,215.6 201.0,208.9 201.0,207.8 201.1,203.4 201.2,198.4 201.2,193.9 201.3,195.6 201.4,192.5 201.4,198.2 201.5,202.3 201.5,220.2 201.6,227.8 201.7,242.7 201.7,242.1 201.8,244.6 201.8,243.7 201.9,237.0 202.0,229.2 202.0,218.8 202.1,211.0 202.1,218.1 202.2,226.5 202.3,227.7 202.3,223.7 202.4,218.7 202.5,213.8 202.5,205.1 202.6,214.2 202.6,219.6 202.7,227.2 202.8,239.7 202.8,240.8 202.9,239.1 202.9,242.2 203.0,234.8 203.1,228.6 203.1,222.3 203.2,192.5 203.2,196.8 203.3,202.1 203.4,206.6 203.4,211.5 203.5,219.5 203.6,206.3 203.6,201.5 203.7,201.0 203.7,202.8 203.8,206.8 203.9,214.3 203.9,211.8 204.0,212.4 204.0,220.4 204.1,212.3 204.2,212.3 204.2,218.3 204.3,211.6 204.3,218.8 204.4,207.7 204.5,216.7 204.5,220.4 204.6,228.3 204.7,231.6 204.7,237.9 204.8,236.8 204.8,237.6 204.9,232.4 205.0,225.9 205.0,218.8 205.1,211.2 205.1,209.1 205.2,217.6 205.3,219.6 205.3,204.1 205.4,196.9 205.4,188.6 205.5,181.9 205.6,185.6 205.6,181.5 205.7,187.9 205.8,196.3 205.8,204.7 205.9,229.1 205.9,219.5 206.0,213.7 206.1,211.3 206.1,216.8 206.2,206.1 206.2,221.4 206.3,217.9 206.4,218.4 206.4,208.5 206.5,212.3 206.5,216.4 206.6,220.7 206.7,208.5 206.7,202.3 206.8,196.5 206.8,194.1 206.9,194.5 207.0,196.2 207.0,199.8 207.1,203.1 207.2,209.1 207.2,222.0 207.3,220.6 207.3,229.1 207.4,236.8 207.5,240.8 207.5,241.8 207.6,238.3 207.6,233.6 207.7,229.1 207.8,226.6 207.8,223.2 207.9,214.9 207.9,219.9 208.0,224.7 208.1,231.4 208.1,235.6 208.2,235.5 208.3,236.7 208.3,233.6 208.4,225.9 208.4,220.6 208.5,209.2 208.6,202.5 208.6,199.1 208.7,195.6 208.7,192.5 208.8,194.6 208.9,199.5 208.9,202.3 209.0,208.8 209.0,213.1 209.1,217.6 209.2,223.4 209.2,228.2 209.3,231.9 209.4,233.4 209.4,231.4 209.5,228.9 209.5,225.8 209.6,217.2 209.7,220.7 209.7,210.5 209.8,215.8 209.8,217.4 209.9,211.1 210.0,223.5 210.0,230.0 210.1,233.2 210.1,228.8 210.2,222.4 210.3,227.0 210.3,235.0 210.4,236.7 210.5,240.2 210.5,235.6 210.6,233.1 210.6,225.9 210.7,222.8 210.8,220.5 210.8,213.5 210.9,207.0 210.9,213.2 211.0,216.4 211.1,203.0 211.1,195.1 211.2,187.8 211.2,178.1 211.3,184.0 211.4,181.7 211.4,184.9 211.5,196.6 211.6,203.8 211.6,209.5 211.7,215.4 211.7,224.3 211.8,213.2 211.9,208.1 211.9,217.9 212.0,216.9 212.0,219.2 212.1,221.7 212.2,231.4 212.2,230.9 212.3,234.6 212.3,231.7 212.4,232.7 212.5,223.6 212.5,219.1 212.6,196.5 212.6,195.6 212.7,198.8 212.8,203.5 212.8,206.2 212.9,211.4 213.0,209.4 213.0,212.4 213.1,217.5 213.1,213.4 213.2,216.7 213.3,213.1 213.3,208.2 213.4,223.0 213.4,230.1 213.5,240.3 213.6,244.8 213.6,248.6 213.7,247.8 213.7,239.3 213.8,232.5 213.9,226.2 213.9,242.3 214.0,258.2 214.1,267.6 214.1,265.1 214.2,264.1 214.2,257.8 214.3,244.1 214.4,235.4 214.4,246.4 214.5,250.1 214.5,255.4 214.6,252.2 214.7,247.2 214.7,235.4 214.8,229.4 214.8,217.2 214.9,213.0 215.0,222.8 215.0,219.6 215.1,226.2 215.2,229.6 215.2,227.9 215.3,206.1 215.3,200.4 215.4,198.0 215.5,201.6 215.5,197.9 215.6,191.8 215.6,192.6 215.7,194.5 215.8,196.3 215.8,202.3 215.9,209.7 215.9,232.2 216.0,231.2 216.1,235.0 216.1,242.4 216.2,252.8 216.3,253.7 216.3,251.4 216.4,241.9 216.4,233.8 216.5,223.6 216.6,222.9 216.6,233.3 216.7,220.1 216.7,228.8 216.8,231.0 216.9,226.2 216.9,223.4 217.0,211.2 217.0,226.6 217.1,233.1 217.2,214.9 217.2,221.5 217.3,214.8 217.4,211.5 217.4,209.7 217.5,205.5 217.5,199.3 217.6,189.1 217.7,183.4 217.7,185.2 217.8,183.2 217.8,189.6 217.9,200.1 218.0,205.9 218.0,213.0 218.1,210.4 218.1,223.3 218.2,225.9 218.3,228.9 218.3,226.1 218.4,220.8 218.4,207.4 218.5,217.9 218.6,222.9 218.6,227.7 218.7,235.0 218.8,240.5 218.8,255.0 218.9,251.4 218.9,248.8 219.0,243.1 219.1,234.3 219.1,222.2 219.2,219.2 219.2,217.9 219.3,225.2 219.4,214.1 219.4,209.8 219.5,221.4 219.5,226.3 219.6,228.5 219.7,205.7 219.7,195.1 219.8,188.2 219.9,182.2 219.9,178.4 220.0,218.8 220.0,222.8 220.1,230.9 220.2,236.0 220.2,232.6 220.3,233.8 220.3,231.2 220.4,224.6 220.5,225.1 220.5,224.7 220.6,230.9 220.6,221.5 220.7,225.6 220.8,224.8 220.8,218.4 220.9,219.7 221.0,212.5 221.0,216.0 221.1,226.9 221.1,236.6 221.2,254.4 221.3,258.7 221.3,257.3 221.4,264.9 221.4,252.6 221.5,236.2 221.6,225.4 221.6,231.4 221.7,217.2 221.7,214.5 221.8,212.1 221.9,217.9 221.9,214.1 222.0,211.2 222.1,215.1 222.1,216.5 222.2,209.8 222.2,212.6 222.3,213.4 222.4,211.2 222.4,205.6 222.5,204.1 222.5,200.5 222.6,196.2 222.7,196.2 222.7,194.1 222.8,198.9 222.8,204.5 222.9,208.8 223.0,220.9 223.0,207.7 223.1,216.1 223.2,217.1 223.2,220.1 223.3,215.1 223.3,217.7 223.4,225.3 223.5,223.3 223.5,225.3 223.6,224.8 223.6,228.5 223.7,233.4 223.8,232.7 223.8,234.5 223.9,230.3 223.9,225.0 224.0,221.4 224.1,188.6 224.1,186.4 224.2,187.9 224.2,193.0 224.3,198.2 224.4,206.4 224.4,211.8 224.5,214.1 224.6,205.7 224.6,211.4 224.7,217.5 224.7,212.6 224.8,209.6 224.9,218.4 224.9,227.2 225.0,226.6 225.0,226.4 225.1,218.7 225.2,224.4 225.2,222.1 225.3,214.7 225.3,217.2 225.4,225.5 225.5,231.7 225.5,234.0 225.6,232.7 225.7,233.2 225.7,230.9 225.8,222.5 225.8,217.6 225.9,218.8 226.0,217.5 226.0,212.4 226.1,208.8 226.1,215.0 226.2,204.6 226.3,197.1 226.3,188.3 226.4,183.4 226.4,181.1 226.5,180.1 226.6,190.3 226.6,195.8 226.7,204.1 226.8,208.1 226.8,218.8 226.9,220.4 226.9,217.4 227.0,217.9 227.1,224.5 227.1,227.9 227.2,232.8 227.2,231.4 227.3,231.1 227.4,228.2 227.4,224.0 227.5,218.1 227.5,213.5 227.6,213.9 227.7,217.9 227.7,219.4 227.8,210.5 227.9,214.6 227.9,222.7 228.0,210.9 228.0,210.5 228.1,215.0 228.2,216.3 228.2,214.5 228.3,216.5 228.3,220.6 228.4,218.1 228.5,224.9 228.5,231.6 228.6,235.3 228.6,235.1 228.7,237.6 228.8,231.1 228.8,224.4 228.9,219.0 228.9,216.7 229.0,217.3 229.1,217.0 229.1,219.8 229.2,223.7 229.3,223.5 229.3,224.8 229.4,218.5 229.4,206.9 229.5,215.4 229.6,223.4 229.6,213.8 229.7,214.5 229.7,223.3 229.8,212.6 229.9,215.1 229.9,219.7 230.0,212.5 230.0,210.3 230.1,215.4 230.2,212.8 230.2,217.3 230.3,218.3 230.4,216.9 230.4,224.9 230.5,227.8 230.5,233.8 230.6,233.1 230.7,229.2 230.7,227.2 230.8,223.6 230.8,219.0 230.9,198.9 231.0,193.2 231.0,193.6 231.1,195.0 231.1,198.7 231.2,202.3 231.3,209.2 231.3,216.3 231.4,219.6 231.5,222.7 231.5,220.4 231.6,213.7 231.6,215.6 231.7,211.7 231.8,214.2 231.8,205.4 231.9,200.7 231.9,199.9 232.0,201.9 232.1,221.7 232.1,226.4 232.2,235.0 232.2,240.1 232.3,242.8 232.4,236.4 232.4,232.8 232.5,228.1 232.6,219.7 232.6,200.6 232.7,198.5 232.7,198.7 232.8,195.8 232.9,202.0 232.9,203.4 233.0,209.3 233.0,212.1 233.1,209.3 233.2,218.9 233.2,221.3 233.3,215.6 233.3,212.1 233.4,215.4 233.5,217.5 233.5,214.1 233.6,225.2 233.7,216.8 233.7,220.4 233.8,215.0 233.8,216.4 233.9,208.9 234.0,206.7 234.0,199.6 234.1,197.6 234.1,197.2 234.2,198.1 234.3,200.9 234.3,205.1 234.4,208.6 234.4,211.6 234.5,212.1 234.6,219.0 234.6,210.6 234.7,219.0 234.7,223.4 234.8,222.8 234.9,223.6 234.9,228.6 235.0,230.5 235.1,233.1 235.1,231.0 235.2,225.4 235.2,222.5 235.3,216.9 235.4,210.2 235.4,222.9 235.5,216.6 235.5,219.4 235.6,216.0 235.7,218.2 235.7,218.8 235.8,214.0 235.8,205.9 235.9,222.7 236.0,216.7 236.0,211.5 236.1,215.8 236.2,218.2 236.2,223.0 236.3,229.1 236.3,231.8 236.4,234.3 236.5,234.7 236.5,229.9 236.6,222.2 236.6,217.0 236.7,200.4 236.8,196.7 236.8,189.6 236.9,190.1 236.9,189.2 237.0,197.6 237.1,200.3 237.1,206.3 237.2,212.3 237.3,219.8 237.3,208.9 237.4,210.2 237.4,214.9 237.5,208.2 237.6,219.3 237.6,225.6 237.7,230.5 237.7,232.1 237.8,234.5 237.9,230.8 237.9,229.6 238.0,224.3 238.0,217.6 238.1,215.7 238.2,219.1 238.2,211.8 238.3,208.7 238.4,216.9 238.4,205.7 238.5,203.1 238.5,195.5 238.6,191.4 238.7,193.8 238.7,192.1 238.8,198.4 238.8,203.5 238.9,206.8 239.0,212.5 239.0,210.2 239.1,214.0 239.1,218.4 239.2,221.6 239.3,227.7 239.3,228.2 239.4,227.5 239.5,219.0 239.5,220.0 239.6,220.0 239.6,217.2 239.7,215.4 239.8,220.9 239.8,207.3 239.9,216.8 239.9,217.4 240.0,214.9 240.1,209.4 240.1,208.4 240.2,216.7 240.2,213.2 240.3,220.0 240.4,228.3 240.4,234.7 240.5,238.4 240.5,237.1 240.6,238.1 240.7,232.8 240.7,226.9 240.8,219.6 240.9,196.0 240.9,194.3 241.0,198.5 241.0,203.0 241.1,207.6 241.2,219.2 241.2,224.1 241.3,212.6 241.3,214.3 241.4,213.8 241.5,214.4 241.5,207.8 241.6,201.5 241.6,200.2 241.7,202.6 241.8,208.0 241.8,218.8 241.9,210.4 242.0,219.4 242.0,222.3 242.1,227.2 242.1,233.8 242.2,229.9 242.3,232.0 242.3,228.1 242.4,224.7 242.4,217.7 242.5,211.9 242.6,211.1 242.6,209.4 242.7,209.7 242.7,213.3 242.8,214.1 242.9,211.6 242.9,213.0 243.0,208.9 243.1,209.3 243.1,203.2 243.2,198.6 243.2,194.2 243.3,196.3 243.4,194.1 243.4,198.8 243.5,204.2 243.5,221.2 243.6,231.0 243.7,236.6 243.7,240.8 243.8,242.7 243.8,245.8 243.9,236.1 244.0,228.2 244.0,220.3 244.1,209.4 244.2,217.9 244.2,224.8 244.3,226.3 244.3,226.1 244.4,219.2 244.5,214.0 244.5,207.4 244.6,213.9 244.6,220.7 244.7,230.6 244.8,237.5 244.8,239.2 244.9,242.9 244.9,241.1 245.0,236.2 245.1,227.5 245.1,219.9 245.2,190.7 245.3,198.2 245.3,201.9 245.4,207.8 245.4,210.0 245.5,217.6 245.6,206.8 245.6,200.3 245.7,200.4 245.7,200.7 245.8,207.1 245.9,214.9 245.9,209.2 246.0,210.6 246.0,219.8 246.1,212.8 246.2,209.7 246.2,217.7 246.3,213.3 246.3,220.1 246.4,208.3 246.5,214.8 246.5,220.9 246.6,226.1 246.7,236.4 246.7,237.0 246.8,237.0 246.8,239.6 246.9,236.0 247.0,227.4 247.0,221.1 247.1,213.5 247.1,211.9 247.2,217.8 247.3,218.7 247.3,205.9 247.4,197.5 247.4,186.5 247.5,182.3 247.6,179.8 247.6,183.4 247.7,185.3 247.8,195.3 247.8,205.1 247.9,228.0 247.9,220.7 248.0,211.8 248.1,211.3 248.1,217.7 248.2,206.3 248.2,222.2 248.3,219.5 248.4,220.5 248.4,206.4 248.5,213.7 248.5,214.4 248.6,219.3 248.7,208.6 248.7,202.8 248.8,200.0 248.9,194.1 248.9,197.1 249.0,195.5 249.0,199.3 249.1,200.7 249.2,207.6 249.2,220.1 249.3,219.9 249.3,229.7 249.4,233.0 249.5,240.1 249.5,243.5 249.6,242.1 249.6,235.1 249.7,229.5 249.8,226.2 249.8,221.4 249.9,213.5 250.0,219.2 250.0,225.7 250.1,233.6 250.1,236.4 250.2,237.7 250.3,237.3 250.3,230.2 250.4,224.3 250.4,222.6 250.5,207.8 250.6,201.0 250.6,198.6 250.7,193.0 250.7,197.2 250.8,194.5 250.9,197.3 250.9,203.9 251.0,207.3 251.0,213.6 251.1,218.1 251.2,221.2 251.2,228.7 251.3,234.3 251.4,231.8 251.4,229.2 251.5,226.8 251.5,222.8 251.6,217.6 251.7,222.9 251.7,213.1 251.8,217.0 251.8,218.7 251.9,208.7 252.0,223.6 252.0,228.3 252.1,235.5 252.1,233.0 252.2,222.0 252.3,226.5 252.3,233.2 252.4,239.9 252.5,239.6 252.5,238.0 252.6,233.5 252.6,228.5 252.7,221.7 252.8,221.0 252.8,212.7 252.9,206.9 252.9,213.2 253.0,214.5 253.1,204.4 253.1,193.4 253.2,184.2 253.2,179.5 253.3,182.5 253.4,181.3 253.4,184.4 253.5,195.8 253.6,205.3 253.6,210.1 253.7,215.3 253.7,220.5 253.8,214.4 253.9,206.1 253.9,214.8 254.0,219.0 254.0,220.0 254.1,222.2 254.2,228.9 254.2,232.2 254.3,235.2 254.3,235.4 254.4,230.8 254.5,223.1 254.5,218.5 254.6,196.7 254.7,197.4 254.7,198.5 254.8,201.8 254.8,208.0 254.9,212.7 255.0,209.5 255.0,212.1 255.1,219.1 255.1,215.8 255.2,216.3 255.3,214.9 255.3,208.3 255.4,221.0 255.4,233.9 255.5,239.4 255.6,246.5 255.6,248.5 255.7,243.2 255.8,241.1 255.8,230.2 255.9,226.1 255.9,240.2 256.0,259.9 256.1,263.5 256.1,266.8 256.2,272.1 256.2,259.7 256.3,240.4 256.4,231.9 256.4,243.4 256.5,255.3 256.5,252.3 256.6,252.0 256.7,244.6 256.7,235.3 256.8,230.2 256.8,217.6 256.9,212.3 257.0,219.9 257.0,218.1 257.1,228.7 257.2,234.2 257.2,226.2 257.3,206.9 257.3,197.9 257.4,199.7 257.5,199.7 257.5,196.6 257.6,194.5 257.6,197.2 257.7,193.9 257.8,195.5 257.8,203.8 257.9,210.6 257.9,234.1 258.0,232.0 258.1,232.9 258.1,246.4 258.2,249.9 258.3,251.0 258.3,250.9 258.4,245.1 258.4,231.4 258.5,223.6 258.6,223.9 258.6,231.8 258.7,220.3 258.7,232.3 258.8,231.0 258.9,227.7 258.9,222.2 259.0,215.0 259.0,226.9 259.1,232.2 259.2,214.5 259.2,222.0 259.3,215.5 259.4,212.2 259.4,209.8 259.5,204.6 259.5,197.8 259.6,188.1 259.7,183.3 259.7,186.1 259.8,184.5 259.8,190.9 259.9,194.6 260.0,204.1 260.0,212.7 260.1,210.3 260.1,219.8 260.2,228.2 260.3,228.6 260.3,228.4 260.4,219.6 260.5,206.2 260.5,221.1 260.6,221.3 260.6,227.5 260.7,234.6 260.8,244.3 260.8,247.9 260.9,254.1 260.9,249.1 261.0,243.7 261.1,232.7 261.1,220.8 261.2,217.7 261.2,217.5 261.3,227.6 261.4,215.8 261.4,210.2 261.5,220.2 261.6,224.9 261.6,227.6 261.7,205.0 261.7,193.2 261.8,188.6 261.9,181.7 261.9,183.1 262.0,217.9 262.0,226.6 262.1,231.2 262.2,235.7 262.2,237.1 262.3,234.2 262.3,228.0 262.4,224.0 262.5,223.7 262.5,225.4 262.6,231.7 262.6,219.4 262.7,228.5 262.8,223.7 262.8,215.3 262.9,218.5 263.0,214.0 263.0,216.6 263.1,225.3 263.1,237.9 263.2,252.1 263.3,260.2 263.3,257.5 263.4,258.3 263.4,252.1 263.5,241.0 263.6,226.3 263.6,228.2 263.7,217.8 263.7,213.7 263.8,210.5 263.9,217.6 263.9,213.8 264.0,210.5 264.1,214.0 264.1,215.9 264.2,209.6 264.2,213.3 264.3,210.7 264.4,208.6 264.4,209.2 264.5,204.3 264.5,199.3 264.6,195.0 264.7,196.2 264.7,196.5 264.8,197.3 264.8,203.1 264.9,208.8 265.0,219.0 265.0,209.9 265.1,216.4 265.2,214.5 265.2,220.3 265.3,215.1 265.3,216.5 265.4,225.3 265.5,226.4 265.5,224.0 265.6,223.6 265.6,232.2 265.7,232.3 265.8,235.3 265.8,232.8 265.9,227.4 265.9,224.2 266.0,218.1 266.1,189.2 266.1,186.2 266.2,186.0 266.3,195.4 266.3,199.8 266.4,206.1 266.4,212.3 266.5,215.2 266.6,208.2 266.6,211.5 266.7,217.6 266.7,211.6 266.8,211.3 266.9,217.6 266.9,223.2 267.0,227.2 267.0,224.8 267.1,219.8 267.2,224.5 267.2,221.8 267.3,215.7 267.4,216.4 267.4,223.1 267.5,228.4 267.5,233.3 267.6,231.7 267.7,234.9 267.7,229.1 267.8,224.1 267.8,216.8 267.9,219.2 268.0,214.8 268.0,208.5 268.1,206.4 268.1,213.9 268.2,206.0 268.3,197.1 268.3,188.2 268.4,181.5 268.4,186.5 268.5,182.5 268.6,189.2 268.6,197.4 268.7,205.1 268.8,209.9 268.8,219.8 268.9,220.4 268.9,214.1 269.0,220.2 269.1,222.6 269.1,229.5 269.2,232.5 269.2,231.7 269.3,233.9 269.4,229.6 269.4,223.0 269.5,217.2 269.5,211.1 269.6,212.6 269.7,218.7 269.7,217.4 269.8,212.8 269.9,216.5 269.9,221.5 270.0,209.3 270.0,210.3 270.1,216.2 270.2,216.9 270.2,214.1 270.3,218.5 270.3,220.7 270.4,217.6 270.5,223.6 270.5,228.8 270.6,236.6 270.6,237.4 270.7,234.0 270.8,229.5 270.8,226.8 270.9,218.2 271.0,217.5 271.0,218.2 271.1,218.5 271.1,219.4 271.2,222.9 271.3,224.2 271.3,221.0 271.4,217.5 271.4,205.9 271.5,215.5 271.6,223.7 271.6,214.9 271.7,214.8 271.7,223.7 271.8,213.7 271.9,216.0 271.9,217.8 272.0,211.1 272.1,210.2 272.1,217.0 272.2,212.8 272.2,217.5 272.3,217.0 272.4,218.3 272.4,224.1 272.5,228.1 272.5,234.4 272.6,232.3 272.7,232.3 272.7,231.1 272.8,223.0 272.8,218.8 272.9,199.5 273.0,197.3 273.0,197.0 273.1,191.9 273.1,198.5 273.2,202.2 273.3,207.9 273.3,215.1 273.4,218.4 273.5,224.3 273.5,218.5 273.6,215.0 273.6,214.4 273.7,209.9 273.8,215.6 273.8,207.4 273.9,202.8 273.9,201.9 274.0,201.9 274.1,221.0 274.1,227.2 274.2,234.8 274.2,240.5 274.3,241.3 274.4,242.2 274.4,232.6 274.5,229.2 274.6,220.3 274.6,200.9 274.7,195.9 274.7,195.7 274.8,199.0 274.9,201.3 274.9,204.6 275.0,210.1 275.0,210.4 275.1,208.2 275.2,217.8 275.2,219.2 275.3,217.4 275.3,209.8 275.4,216.8 275.5,217.9 275.5,211.6 275.6,223.2 275.7,217.5 275.7,220.1 275.8,213.9 275.8,216.5 275.9,207.9 276.0,203.0 276.0,199.8 276.1,196.3 276.1,199.1 276.2,195.5 276.3,199.4 276.3,206.2 276.4,207.4 276.4,211.9 276.5,212.9 276.6,216.5 276.6,211.8 276.7,217.2 276.8,222.6 276.8,224.8 276.9,222.0 276.9,227.0 277.0,230.4 277.1,230.4 277.1,230.3 277.2,228.7 277.2,223.1 277.3,216.9 277.4,210.2 277.4,221.2 277.5,216.0 277.5,218.7 277.6,216.5 277.7,218.7 277.7,217.6 277.8,212.5 277.9,206.4 277.9,222.7 278.0,214.9 278.0,214.9 278.1,212.9 278.2,216.7 278.2,223.6 278.3,228.4 278.3,233.0 278.4,230.8 278.5,230.7 278.5,229.2 278.6,222.8 278.6,218.7 278.7,201.0 278.8,195.4 278.8,189.5 278.9,191.8 278.9,194.3 279.0,195.0 279.1,201.4 279.1,205.6 279.2,213.1 279.3,218.2 279.3,209.4 279.4,212.1 279.4,213.4 279.5,212.5 279.6,219.5 279.6,223.4 279.7,230.7 279.7,233.2 279.8,233.9 279.9,233.4 279.9,231.1 280.0,224.0 280.0,216.7 280.1,217.3 280.2,219.3 280.2,210.2 280.3,211.1 280.4,214.9 280.4,207.0 280.5,200.0 280.5,195.8 280.6,194.3 280.7,194.4 280.7,191.4 280.8,196.6 280.8,202.7 280.9,208.8 281.0,213.3 281.0,209.6 281.1,215.5 281.1,218.4 281.2,221.9 281.3,227.8 281.3,226.1 281.4,227.8 281.5,220.4 281.5,219.9 281.6,218.6 281.6,216.6 281.7,216.3 281.8,219.1 281.8,207.4 281.9,215.8 281.9,216.3 282.0,215.5 282.1,208.9 282.1,208.3 282.2,218.5 282.2,211.8 282.3,220.3 282.4,227.5 282.4,235.3 282.5,239.9 282.6,241.8 282.6,238.4 282.7,232.9 282.7,226.4 282.8,221.5 282.9,193.0 282.9,195.8 283.0,198.9 283.0,203.1 283.1,208.3 283.2,220.3 283.2,221.8 283.3,212.8 283.3,214.8 283.4,213.0 283.5,212.5 283.5,209.3 283.6,202.1 283.7,201.7 283.7,203.1 283.8,207.3 283.8,219.6 283.9,213.4 284.0,218.6 284.0,224.0 284.1,229.7 284.1,234.1 284.2,234.5 284.3,232.4 284.3,231.2 284.4,225.0 284.4,217.5 284.5,213.4 284.6,209.8 284.6,211.0 284.7,210.7 284.7,211.6 284.8,214.0 284.9,210.8 284.9,214.4 285.0,208.1 285.1,209.0 285.1,204.1 285.2,197.7 285.2,193.6 285.3,196.4 285.4,197.4 285.4,197.6 285.5,204.9 285.5,222.0 285.6,228.5 285.7,237.6 285.7,246.4 285.8,244.3 285.8,244.5 285.9,240.1 286.0,227.5 286.0,219.5 286.1,207.8 286.2,219.2 286.2,226.9 286.3,227.2 286.3,224.6 286.4,220.0 286.5,213.1 286.5,205.5 286.6,216.4 286.6,220.5 286.7,230.3 286.8,237.7 286.8,241.7 286.9,244.3 286.9,243.9 287.0,234.6 287.1,229.1 287.1,220.9 287.2,190.0 287.3,195.1 287.3,202.4 287.4,207.9 287.4,209.4 287.5,217.8 287.6,207.2 287.6,201.4 287.7,199.6 287.7,199.4 287.8,208.5 287.9,213.0 287.9,212.7 288.0,211.4 288.0,219.8 288.1,212.3 288.2,209.8 288.2,217.7 288.3,213.5 288.4,220.7 288.4,206.8 288.5,216.5 288.5,219.7 288.6,226.4 288.7,235.0 288.7,237.2 288.8,237.3 288.8,239.9 288.9,233.5 289.0,226.2 289.0,219.4 289.1,212.2 289.1,211.3 289.2,219.1 289.3,217.4 289.3,204.7 289.4,196.4 289.5,188.6 289.5,181.2 289.6,180.3 289.6,179.6 289.7,184.6 289.8,196.6 289.8,205.0 289.9,226.8 289.9,221.1 290.0,213.9 290.1,210.7 290.1,215.9 290.2,207.1 290.2,224.7 290.3,215.9 290.4,218.8 290.4,207.5 290.5,213.2 290.5,214.9 290.6,218.7 290.7,206.6 290.7,202.4 290.8,197.6 290.9,198.5 290.9,195.3 291.0,193.8 291.0,198.3 291.1,202.5 291.2,209.4 291.2,220.1 291.3,221.4 291.3,227.4 291.4,234.4 291.5,240.4 291.5,240.9 291.6,240.7 291.6,235.6 291.7,227.4 291.8,229.7 291.8,221.9 291.9,216.4 292.0,219.0 292.0,228.1 292.1,234.2 292.1,238.7 292.2,239.6 292.3,233.0 292.3,234.2 292.4,226.4 292.4,222.0 292.5,207.3 292.6,201.6 292.6,197.0 292.7,193.5 292.7,195.9 292.8,196.8 292.9,198.6 292.9,201.5 293.0,208.8 293.1,213.3 293.1,219.3 293.2,223.6 293.2,228.9 293.3,231.3 293.4,231.7 293.4,234.0 293.5,227.9 293.5,222.8 293.6,217.6 293.7,222.7 293.7,209.6 293.8,215.4 293.8,217.1 293.9,209.8 294.0,223.0 294.0,233.1 294.1,234.3 294.2,231.6 294.2,220.7 294.3,225.1 294.3,233.9 294.4,237.5 294.5,236.7 294.5,239.5 294.6,234.6 294.6,227.4 294.7,220.0 294.8,221.4 294.8,213.5 294.9,205.5 294.9,212.8 295.0,217.3 295.1,203.6 295.1,198.1 295.2,185.7 295.3,179.4 295.3,181.9 295.4,179.0 295.4,186.0 295.5,196.1 295.6,202.8 295.6,209.9 295.7,216.4 295.7,221.3 295.8,213.8 295.9,207.3 295.9,215.2 296.0,217.4 296.0,221.3 296.1,222.0 296.2,227.3 296.2,231.4 296.3,233.0 296.3,231.5 296.4,229.9 296.5,223.4 296.5,218.3 296.6,197.6 296.7,195.7 296.7,201.0 296.8,204.3 296.8,207.5 296.9,211.6 297.0,210.6 297.0,211.3 297.1,218.8 297.1,213.6 297.2,215.7 297.3,216.5 297.3,207.9 297.4,221.4 297.4,229.9 297.5,240.6 297.6,246.2 297.6,246.4 297.7,247.7 297.8,242.4 297.8,229.0 297.9,227.7 297.9,243.1 298.0,260.8 298.1,271.3 298.1,267.5 298.2,265.4 298.2,257.0 298.3,241.6 298.4,232.8 298.4,244.3 298.5,255.0 298.5,256.0 298.6,254.5 298.7,246.1 298.7,232.3 298.8,231.2 298.9,217.4 298.9,212.5 299.0,222.3 299.0,221.0 299.1,228.5 299.2,234.0 299.2,224.8 299.3,206.0 299.3,199.6 299.4,197.7 299.5,199.2 299.5,198.6 299.6,194.5 299.6,193.9 299.7,193.4 299.8,196.0 299.8,203.8 299.9,207.2 300.0,233.1 300.0,235.3 300.1,233.3 300.1,243.1 300.2,248.4 300.3,253.9 300.3,253.9 300.4,241.7 300.4,234.8 300.5,225.1 300.6,222.9 300.6,232.7 300.7,219.8 300.7,231.0 300.8,232.1 300.9,229.0 300.9,221.4 301.0,213.1 301.0,228.1 301.1,230.3 301.2,214.0 301.2,222.1 301.3,215.1 301.4,211.0 301.4,210.5 301.5,207.5 301.5,197.8 301.6,190.5 301.7,185.7 301.7,186.8 301.8,183.9 301.8,189.0 301.9,198.3 302.0,206.1 302.0,213.3 302.1,209.1 302.1,220.0 302.2,227.1 302.3,229.1 302.3,226.4 302.4,221.3 302.5,205.9 302.5,217.4 302.6,224.3 302.6,225.6 302.7,232.0 302.8,241.6 302.8,253.2 302.9,247.4 302.9,248.2 303.0,246.4 303.1,236.3 303.1,222.8 303.2,217.8 303.2,218.8 303.3,225.0 303.4,215.5 303.4,210.8 303.5,221.4 303.6,224.5 303.6,229.4 303.7,204.2 303.7,193.9 303.8,188.8 303.9,180.3 303.9,176.8 304.0,217.3 304.0,226.1 304.1,231.0 304.2,233.9 304.2,235.1 304.3,235.0 304.3,230.1 304.4,225.2 304.5,224.1 304.5,226.3 304.6,230.1 304.7,218.7 304.7,225.3 304.8,224.6 304.8,216.9 304.9,218.9 305.0,213.4 305.0,218.9 305.1,225.3 305.1,236.0 305.2,248.3 305.3,263.3 305.3,260.8 305.4,258.1 305.4,248.2 305.5,239.7 305.6,225.8 305.6,230.2 305.7,216.4 305.8,213.1 305.8,211.5 305.9,215.7 305.9,215.5 306.0,211.1 306.1,214.2 306.1,216.7 306.2,208.8 306.2,214.1 306.3,211.3 306.4,210.3 306.4,208.4 306.5,203.4 306.5,197.9 306.6,194.8 306.7,194.9 306.7,193.5 306.8,198.4 306.8,204.8 306.9,207.9 307.0,219.4 307.0,210.4 307.1,217.6 307.2,214.0 307.2,222.1 307.3,214.3 307.3,217.2 307.4,225.2 307.5,224.4 307.5,225.4 307.6,221.7 307.6,228.7 307.7,234.5 307.8,231.8 307.8,232.0 307.9,227.3 307.9,224.2 308.0,218.6 308.1,184.6 308.1,186.1 308.2,188.7 308.3,190.9 308.3,198.1 308.4,205.6 308.4,211.1 308.5,214.5 308.6,207.6 308.6,211.7 308.7,216.7 308.7,212.8 308.8,209.2 308.9,217.5 308.9,228.5 309.0,227.5 309.0,224.3 309.1,218.6 309.2,222.8 309.2,220.6 309.3,217.7 309.4,218.1 309.4,225.9 309.5,228.5 309.5,234.4 309.6,232.5 309.7,234.4 309.7,229.1 309.8,227.4 309.8,218.1 309.9,218.8 310.0,217.1 310.0,210.4 310.1,207.4 310.1,214.1 310.2,206.5 310.3,196.4 310.3,187.5 310.4,182.8 310.5,180.5 310.5,182.5 310.6,188.1 310.6,196.2 310.7,205.5 310.8,207.1 310.8,220.4 310.9,220.3 310.9,216.3 311.0,218.0 311.1,225.4 311.1,231.7 311.2,230.1 311.2,230.7 311.3,234.5 311.4,227.9 311.4,222.7 311.5,218.6 311.6,210.8 311.6,214.6 311.7,217.5 311.7,218.2 311.8,210.8 311.9,215.2 311.9,222.5 312.0,208.8 312.0,211.6 312.1,215.1 312.2,215.7 312.2,213.8 312.3,215.6 312.3,220.9 312.4,218.1 312.5,225.6 312.5,231.8 312.6,237.8 312.6,237.1 312.7,232.3 312.8,229.2 312.8,222.9 312.9,219.5 313.0,216.5 313.0,219.9 313.1,217.0 313.1,217.4 313.2,221.5 313.3,226.4 313.3,223.0 313.4,217.1 313.4,205.7 313.5,213.9 313.6,223.2 313.6,214.9 313.7,214.8 313.7,224.2 313.8,213.8 313.9,215.2 313.9,216.9 314.0,210.6 314.1,211.6 314.1,215.8 314.2,214.2 314.2,215.5 314.3,218.8 314.4,215.4 314.4,223.4 314.5,229.3 314.5,231.9 314.6,234.5 314.7,234.1 314.7,229.1 314.8,222.4 314.8,216.3 314.9,198.5 315.0,195.7 315.0,195.3 315.1,196.0 315.2,200.6 315.2,203.9 315.3,208.9 315.3,216.0 315.4,217.0 315.5,221.8 315.5,222.1 315.6,213.9 315.6,215.2 315.7,211.1 315.8,212.4 315.8,207.9 315.9,200.0 315.9,198.3 316.0,202.3 316.1,219.6 316.1,227.5 316.2,234.8 316.3,242.1 316.3,242.5 316.4,241.9 316.4,233.6 316.5,228.1 316.6,220.6 316.6,201.8 316.7,197.8 316.7,199.2 316.8,197.8 316.9,198.0 316.9,204.4 317.0,209.0 317.0,209.3 317.1,209.1 317.2,216.9 317.2,220.2 317.3,213.2 317.4,210.5 317.4,215.7 317.5,216.7 317.5,214.6 317.6,222.2 317.7,216.8 317.7,221.7 317.8,213.6 317.8,219.4 317.9,209.9 318.0,204.8 318.0,199.2 318.1,196.2 318.1,197.6 318.2,199.7 318.3,200.8 318.3,203.5 318.4,208.4 318.4,211.8 318.5,211.5 318.6,218.8 318.6,213.2 318.7,217.3 318.8,223.3 318.8,223.3 318.9,223.2 318.9,228.9 319.0,228.5 319.1,231.4 319.1,232.0 319.2,226.4 319.2,222.3 319.3,218.8 319.4,209.8 319.4,222.6 319.5,217.5 319.5,217.0 319.6,216.7 319.7,218.0 319.7,216.5 319.8,211.0 319.9,207.2 319.9,223.4 320.0,216.5 320.0,213.3 320.1,213.5 320.2,215.8 320.2,222.4 320.3,227.7 320.3,233.3 320.4,231.7 320.5,233.2 320.5,228.1 320.6,224.5 320.6,217.1 320.7,199.9 320.8,195.2 320.8,189.8 320.9,190.4 321.0,187.5 321.0,197.0 321.1,203.1 321.1,208.4 321.2,212.4 321.3,217.7 321.3,209.0 321.4,209.8 321.4,214.5 321.5,209.7 321.6,218.7 321.6,224.7 321.7,228.5 321.7,232.7 321.8,235.0 321.9,235.7 321.9,231.7 322.0,224.0 322.1,219.7 322.1,216.4 322.2,218.9 322.2,213.1 322.3,210.2 322.4,215.6 322.4,206.1 322.5,200.6 322.5,195.4 322.6,192.4 322.7,190.4 322.7,189.8 322.8,195.6 322.8,201.0 322.9,206.4 323.0,211.4 323.0,208.4 323.1,213.0 323.1,218.2 323.2,220.4 323.3,227.0 323.3,225.7 323.4,227.1 323.5,220.8 323.5,219.2 323.6,219.5 323.6,219.1 323.7,215.2 323.8,219.7 323.8,207.4 323.9,216.0 323.9,218.0 324.0,213.5 324.1,210.1 324.1,209.8 324.2,215.4 324.2,212.4 324.3,219.0 324.4,228.1 324.4,233.8 324.5,236.0 324.6,240.6 324.6,242.4 324.7,233.4 324.7,224.9 324.8,220.2 324.9,194.2 324.9,193.8 325.0,196.7 325.0,203.1 325.1,207.7 325.2,221.7 325.2,224.3 325.3,213.9 325.3,214.6 325.4,213.9 325.5,212.1 325.5,207.8 325.6,203.5 325.7,202.4 325.7,203.4 325.8,207.9 325.8,220.4 325.9,212.2 326.0,218.1 326.0,223.3 326.1,231.0 326.1,231.5 326.2,229.6 326.3,235.5 326.3,226.2 326.4,225.1 326.4,218.5 326.5,213.5 326.6,211.3 326.6,210.4 326.7,209.7 326.8,211.1 326.8,216.5 326.9,211.2 326.9,212.4 327.0,208.2 327.1,206.0 327.1,204.2 327.2,197.7 327.2,194.1 327.3,195.3 327.4,193.7 327.4,198.3 327.5,203.9 327.5,222.2 327.6,227.8 327.7,241.0 327.7,246.0 327.8,242.7 327.9,242.8 327.9,235.1 328.0,228.4 328.0,220.0 328.1,211.5 328.2,221.7 328.2,228.9 328.3,228.8 328.3,225.6 328.4,218.2 328.5,213.0 328.5,207.5 328.6,214.6 328.6,220.2 328.7,228.4 328.8,235.0 328.8,243.9 328.9,240.8 328.9,241.5 329.0,237.3 329.1,229.6 329.1,221.3 329.2,188.8 329.3,196.1 329.3,202.1 329.4,207.8 329.4,209.9 329.5,217.3 329.6,204.4 329.6,200.4 329.7,201.3 329.7,201.5 329.8,207.1 329.9,216.4 329.9,213.5 330.0,210.9 330.0,219.7 330.1,209.8 330.2,212.8 330.2,217.2 330.3,211.4 330.4,221.3 330.4,205.7 330.5,214.9 330.5,220.5 330.6,228.2 330.7,232.7 330.7,239.7 330.8,240.6 330.8,238.3 330.9,231.9 331.0,228.0 331.0,220.4 331.1,211.7 331.1,209.9 331.2,219.0 331.3,218.3 331.3,202.3 331.4,196.0 331.5,184.9 331.5,182.6 331.6,180.6 331.6,182.1 331.7,187.7 331.8,195.4 331.8,203.8 331.9,227.3 331.9,221.5 332.0,214.8 332.1,210.5 332.1,215.9 332.2,207.2 332.2,223.9 332.3,218.3 332.4,220.3 332.4,207.6 332.5,213.6 332.6,214.4 332.6,218.9 332.7,209.1 332.7,204.3 332.8,197.7 332.9,196.8 332.9,195.5 333.0,195.6 333.0,199.2 333.1,203.7 333.2,207.8 333.2,220.9 333.3,220.4 333.3,228.8 333.4,235.7 333.5,241.0 333.5,238.7 333.6,238.5 333.7,236.1 333.7,228.0 333.8,225.7 333.8,221.7 333.9,211.3 334.0,221.1 334.0,225.7 334.1,233.8 334.1,238.9 334.2,237.1 334.3,238.4 334.3,233.0 334.4,226.0 334.4,220.2 334.5,208.8 334.6,203.7 334.6,195.8 334.7,196.1 334.7,193.8 334.8,193.8 334.9,195.5 334.9,203.9 335.0,207.6 335.1,214.8 335.1,218.4 335.2,223.2 335.2,228.9 335.3,234.2 335.4,231.8 335.4,232.4 335.5,226.7 335.5,224.4 335.6,219.4 335.7,224.1 335.7,210.0 335.8,216.8 335.8,216.2 335.9,209.9 336.0,222.4 336.0,229.9 336.1,230.3 336.2,229.1 336.2,219.9 336.3,225.7 336.3,233.6 336.4,240.0 336.5,240.1 336.5,238.4 336.6,233.0 336.6,226.3 336.7,222.7 336.8,221.8 336.8,213.0 336.9,207.7 336.9,212.4 337.0,216.5 337.1,202.1 337.1,193.9 337.2,184.2 337.3,179.7 337.3,183.4 337.4,177.1 337.4,186.6 337.5,194.7 337.6,203.5 337.6,208.9 337.7,214.5 337.7,221.5 337.8,213.4 337.9,205.5 337.9,215.3 338.0,216.7 338.0,218.9 338.1,223.8 338.2,229.6 338.2,236.4 338.3,232.0 338.4,233.0 338.4,226.2 338.5,224.1 338.5,217.2 338.6,195.9 338.7,194.5 338.7,199.8 338.8,203.5 338.8,208.0 338.9,211.8 339.0,209.9 339.0,211.8 339.1,218.2 339.1,215.7 339.2,216.1 339.3,216.8 339.3,208.9 339.4,222.6 339.5,232.6 339.5,241.4 339.6,250.8 339.6,246.2 339.7,243.8 339.8,239.6 339.8,230.4 339.9,228.9 339.9,246.0 340.0,259.6 340.1,269.3 340.1,266.9 340.2,263.0 340.2,257.1 340.3,241.8 340.4,235.9 340.4,244.8 340.5,254.7 340.5,255.1 340.6,255.5 340.7,247.0 340.7,233.8 340.8,230.5 340.9,219.5 340.9,212.3 341.0,220.1 341.0,220.7 341.1,228.8 341.2,234.2 341.2,225.3 341.3,206.4 341.3,200.4 341.4,197.4 341.5,198.2 341.5,197.2 341.6,194.2 341.6,193.9 341.7,192.5 341.8,196.9 341.8,200.1 341.9,208.3 342.0,235.7 342.0,234.2 342.1,233.4 342.1,242.5 342.2,251.1 342.3,250.0 342.3,254.1 342.4,240.3 342.4,232.8 342.5,222.9 342.6,223.5 342.6,230.9 342.7,218.4 342.7,230.2 342.8,231.8 342.9,229.0 342.9,222.7 343.0,214.1 343.1,225.2 343.1,230.6 343.2,214.2 343.2,220.9 343.3,215.7 343.4,211.0 343.4,208.2 343.5,206.8 343.5,197.0 343.6,189.6 343.7,186.5 343.7,180.6 343.8,181.3 343.8,192.9 343.9,199.8 344.0,205.1 344.0,212.1 344.1,210.0 344.2,221.1 344.2,228.5 344.3,227.8 344.3,225.3 344.4,218.3 344.5,205.8 344.5,218.0 344.6,222.3 344.6,229.2 344.7,232.8 344.8,242.8 344.8,251.0 344.9,254.1 344.9,250.4 345.0,244.7 345.1,233.8 345.1,225.3 345.2,217.2 345.2,218.7 345.3,225.2 345.4,217.1 345.4,211.0 345.5,220.6 345.6,225.9 345.6,229.1 345.7,202.4 345.7,192.9 345.8,188.0 345.9,178.8 345.9,179.8 346.0,219.9 346.0,226.0 346.1,233.5 346.2,235.1 346.2,235.2 346.3,237.8 346.3,231.2 346.4,225.1 346.5,223.3 346.5,225.3 346.6,229.7 346.7,220.6 346.7,228.3 346.8,223.4 346.8,217.0 346.9,221.0 347.0,213.9 347.0,218.3 347.1,224.1 347.1,239.9 347.2,249.0 347.3,262.0 347.3,257.6 347.4,262.4 347.4,255.1 347.5,237.0 347.6,224.9 347.6,228.7 347.7,215.8 347.8,212.8 347.8,211.4 347.9,217.3 347.9,215.5 348.0,211.6 348.1,214.6 348.1,217.1 348.2,210.8 348.2,213.6 348.3,213.3 348.4,210.0 348.4,207.0 348.5,203.4 348.5,199.1 348.6,194.6 348.7,194.7 348.7,194.7 348.8,198.0 348.9,201.3 348.9,208.8 349.0,220.3 349.0,208.3 349.1,216.9 349.2,213.6 349.2,221.6 349.3,212.7 349.3,217.1 349.4,224.6 349.5,227.5 349.5,225.5 349.6,224.3 349.6,229.8 349.7,233.7 349.8,236.0 349.8,233.5 349.9,226.2 350.0,223.7 350.0,217.2 350.1,188.0 350.1,189.9 350.2,189.2 350.3,194.4 350.3,198.7 350.4,207.1 350.4,213.4 350.5,213.3 350.6,208.6 350.6,212.0 350.7,218.1 350.7,211.3 350.8,211.2 350.9,218.1 350.9,224.5 351.0,227.3 351.0,223.9 351.1,218.4 351.2,222.6 351.2,220.4 351.3,215.5 351.4,219.0 351.4,223.7 351.5,230.3 351.5,234.3 351.6,234.3 351.7,235.2 351.7,228.7 351.8,224.3 351.8,219.3 351.9,217.7 352.0,217.9 352.0,209.6 352.1,205.4 352.1,214.8 352.2,206.8 352.3,197.3 352.3,187.0 352.4,185.0 352.5,185.4 352.5,183.7 352.6,187.9 352.6,196.3 352.7,204.0 352.8,208.0 352.8,218.5 352.9,219.2 352.9,218.3 353.0,219.6 353.1,225.0 353.1,228.6 353.2,235.7 353.2,232.0 353.3,231.5 353.4,229.2 353.4,223.2 353.5,219.5 353.6,210.2 353.6,212.4 353.7,217.3 353.7,221.3 353.8,212.0 353.9,215.6 353.9,221.1 354.0,209.7 354.0,212.8 354.1,213.9 354.2,214.5 354.2,212.5 354.3,215.9 354.3,221.3 354.4,218.4 354.5,226.2 354.5,230.8 354.6,234.4 354.7,235.4 354.7,233.2 354.8,229.3 354.8,224.4 354.9,219.2 355.0,217.7 355.0,219.6 355.1,216.9 355.1,219.8 355.2,225.3 355.3,224.3 355.3,222.6 355.4,218.6 355.4,206.1 355.5,216.4 355.6,222.4 355.6,216.7 355.7,215.0 355.8,223.0 355.8,214.0 355.9,216.8 355.9,215.6 356.0,212.7 356.1,208.4 356.1,217.9 356.2,212.6 356.2,215.3 356.3,217.7 356.4,219.2 356.4,220.9 356.5,228.6 356.5,230.8 356.6,233.0 356.7,234.4 356.7,229.3 356.8,225.4 356.8,218.7 356.9,199.3 357.0,194.9 357.0,195.5 357.1,194.2 357.2,200.3 357.2,202.5 357.3,209.0 357.3,215.4 357.4,219.8 357.5,223.9 357.5,219.0 357.6,213.5 357.6,215.6 357.7,211.7 357.8,215.5 357.8,207.4 357.9,202.2 357.9,200.6 358.0,203.9 358.1,222.8 358.1,227.5 358.2,238.0 358.3,239.4 358.3,239.3 358.4,239.0 358.4,236.8 358.5,228.2 358.6,220.5 358.6,200.5 358.7,196.9 358.7,199.3 358.8,198.2 358.9,199.4 358.9,205.2 359.0,208.5 359.0,210.1 359.1,210.5 359.2,216.2 359.2,221.1 359.3,214.2 359.4,210.7 359.4,217.8 359.5,218.0 359.5,212.5 359.6,224.2 359.7,218.2 359.7,220.5 359.8,211.4 359.8,216.8 359.9,208.7 360.0,204.8 360.0,199.2 360.1,197.3 360.1,198.7 360.2,197.2 360.3,199.5 360.3,203.7 360.4,207.9 360.5,210.6 360.5,210.5 360.6,217.5 360.6,212.5 360.7,218.5 360.8,223.1 360.8,223.7 360.9,220.7 360.9,229.3 361.0,232.5 361.1,232.3 361.1,231.6 361.2,228.2 361.2,224.2 361.3,216.6 361.4,208.8 361.4,223.2 361.5,215.6 361.6,218.7 361.6,213.6 361.7,219.5 361.7,216.8 361.8,210.3 361.9,207.9 361.9,224.8 362.0,216.0 362.0,212.8 362.1,214.8 362.2,217.1 362.2,223.6 362.3,228.8 362.3,234.2 362.4,230.7 362.5,231.3 362.5,227.6 362.6,224.6 362.6,219.0 362.7,202.1 362.8,191.5 362.8,191.8 362.9,191.1 363.0,191.1 363.0,193.8 363.1,201.4 363.1,206.6 363.2,212.5 363.3,219.3 363.3,210.7 363.4,212.2 363.4,218.4 363.5,210.4 363.6,217.0 363.6,225.4 363.7,229.2 363.7,233.8 363.8,237.3 363.9,236.0 363.9,230.4 364.0,224.7 364.1,218.9 364.1,215.6 364.2,220.8 364.2,210.9 364.3,208.1 364.4,214.7 364.4,205.7 364.5,200.5 364.5,196.4 364.6,190.7 364.7,190.2 364.7,190.3 364.8,196.0 364.8,201.5 364.9,207.5 365.0,213.7 365.0,209.3 365.1,211.0 365.2,219.1 365.2,221.5 365.3,226.4 365.3,227.6 365.4,226.9 365.5,218.8 365.5,218.5 365.6,220.2 365.6,220.1 365.7,215.4 365.8,218.1 365.8,206.3 365.9,215.7 365.9,218.0 366.0,212.9 366.1,209.8 366.1,208.5 366.2,215.9 366.3,214.1 366.3,218.9 366.4,228.4 366.4,234.1 366.5,240.5 366.6,236.6 366.6,240.6 366.7,235.8 366.7,227.7 366.8,219.2 366.9,193.0 366.9,193.0 367.0,196.7 367.0,203.0 367.1,207.1 367.2,219.2 367.2,222.5 367.3,212.1 367.4,214.2 367.4,213.5 367.5,211.7 367.5,206.9 367.6,202.1 367.7,199.6 367.7,201.8 367.8,208.6 367.8,219.1 367.9,212.6 368.0,219.1 368.0,224.2 368.1,231.8 368.1,234.5 368.2,233.8 368.3,232.9 368.3,229.0 368.4,224.8 368.4,217.9 368.5,212.4 368.6,211.6 368.6,211.8 368.7,211.5 368.8,212.2 368.8,215.5 368.9,211.2 368.9,213.7 369.0,210.7 369.1,209.3 369.1,202.0 369.2,198.5 369.2,191.6 369.3,194.1 369.4,192.4 369.4,198.7 369.5,203.5 369.5,221.1 369.6,229.9 369.7,239.6 369.7,243.2 369.8,245.1 369.9,243.1 369.9,236.5 370.0,228.2 370.0,222.5 370.1,209.3 370.2,220.8 370.2,226.8 370.3,226.9 370.3,227.7 370.4,220.0 370.5,211.7 370.5,206.0 370.6,215.0 370.6,220.9 370.7,229.9 370.8,236.6 370.8,243.2 370.9,241.6 371.0,241.3 371.0,236.8 371.1,228.4 371.1,221.0 371.2,191.4 371.3,196.5 371.3,202.6 371.4,208.6 371.4,210.6 371.5,218.7 371.6,207.9 371.6,202.8 371.7,200.0 371.7,201.3 371.8,208.5 371.9,215.1 371.9,208.3 372.0,208.8 372.1,220.7 372.1,211.7 372.2,212.4 372.2,216.3 372.3,213.1 372.4,221.6 372.4,208.7 372.5,214.1 372.5,219.2 372.6,229.4 372.7,235.5 372.7,236.2 372.8,236.3 372.8,238.4 372.9,233.4 373.0,229.6 373.0,219.7 373.1,213.9 373.1,211.9 373.2,217.3 373.3,218.0 373.3,204.4 373.4,196.4 373.5,188.0 373.5,183.3 373.6,179.2 373.6,183.1 373.7,184.9 373.8,196.0 373.8,203.9 373.9,227.7 373.9,219.2 374.0,214.4 374.1,213.1 374.1,217.0 374.2,208.5 374.2,222.4 374.3,218.6 374.4,216.6 374.4,209.0 374.5,213.9 374.6,215.5 374.6,219.6 374.7,209.8 374.7,203.4 374.8,198.6 374.9,195.0 374.9,194.0 375.0,192.4 375.0,198.3 375.1,202.9 375.2,207.8 375.2,221.5 375.3,220.9 375.3,227.6 375.4,237.5 375.5,239.8 375.5,237.5 375.6,242.5 375.7,234.3 375.7,224.9 375.8,228.0 375.8,223.1 375.9,214.7 376.0,219.9 376.0,227.1 376.1,232.6 376.1,238.5 376.2,239.0 376.3,236.6 376.3,234.0 376.4,224.4 376.4,220.9 376.5,207.6 376.6,203.8 376.6,199.8 376.7,195.0 376.8,196.8 376.8,197.1 376.9,198.2 376.9,202.4 377.0,207.8 377.1,212.8 377.1,217.4 377.2,222.2 377.2,227.6 377.3,233.9 377.4,231.1 377.4,233.7 377.5,229.7 377.5,223.0 377.6,217.9 377.7,222.1 377.7,210.3 377.8,215.7 377.9,218.1 377.9,210.2 378.0,220.8 378.0,231.0 378.1,231.6 378.2,233.6 378.2,222.3 378.3,228.5 378.3,229.6 378.4,242.0 378.5,239.2 378.5,241.6 378.6,234.0 378.6,225.3 378.7,221.3 378.8,221.6 378.8,214.3 378.9,205.0 378.9,214.5 379.0,217.3 379.1,204.1 379.1,193.1 379.2,184.6 379.3,182.9 379.3,181.7 379.4,176.3 379.4,186.2 379.5,195.0 379.6,203.9 379.6,209.1 379.7,216.3 379.7,221.8 379.8,217.6 379.9,207.1 379.9,215.6 380.0,217.9 380.0,219.9 380.1,223.2 380.2,229.4 380.2,233.2 380.3,233.3 380.4,233.9 380.4,229.0 380.5,225.4 380.5,217.3 380.6,195.1 380.7,194.9 380.7,199.5 380.8,203.1 380.8,209.3 380.9,211.7 381.0,211.4 381.0,212.7 381.1,219.0 381.1,215.8 381.2,217.2 381.3,216.8 381.3,210.5 381.4,222.4 381.5,233.8 381.5,237.1 381.6,250.3 381.6,249.0 381.7,249.5 381.8,243.6 381.8,230.0 381.9,229.8 381.9,243.0 382.0,262.8 382.1,267.5 382.1,263.9 382.2,272.4 382.2,256.0 382.3,241.2 382.4,237.3 382.4,249.4 382.5,255.4 382.6,258.2 382.6,255.0 382.7,247.6 382.7,234.1 382.8,231.4 382.9,218.5 382.9,213.5 383.0,221.7 383.0,218.1 383.1,226.7 383.2,230.6 383.2,225.8 383.3,207.1 383.3,200.4 383.4,198.4 383.5,198.6 383.5,196.9 383.6,194.0 383.7,194.4 383.7,194.0 383.8,193.6 383.8,203.2 383.9,207.9 384.0,231.0 384.0,233.1 384.1,233.5 384.1,245.6 384.2,251.8 384.3,249.4 384.3,256.4 384.4,245.4 384.4,233.2 384.5,224.0 384.6,221.2 384.6,234.5 384.7,220.9 384.7,229.2 384.8,231.4 384.9,228.2 384.9,223.0 385.0,212.7 385.1,225.6 385.1,234.1 385.2,214.9 385.2,220.6 385.3,214.3 385.4,211.8 385.4,209.3 385.5,204.8 385.5,198.8 385.6,191.5 385.7,181.8 385.7,184.0 385.8,185.6 385.8,191.7 385.9,198.8 386.0,204.9 386.0,212.5 386.1,209.4 386.2,220.6 386.2,229.2 386.3,230.6 386.3,227.6 386.4,218.6 386.5,206.5 386.5,218.6 386.6,221.2 386.6,226.4 386.7,233.0 386.8,245.5 386.8,249.1 386.9,249.4 386.9,253.1 387.0,248.1 387.1,235.6 387.1,223.9 387.2,216.5 387.3,217.5 387.3,226.2 387.4,216.0 387.4,207.9 387.5,220.0 387.6,227.6 387.6,226.6 387.7,203.1 387.7,191.7 387.8,187.0 387.9,177.6 387.9,180.0 388.0,219.8 388.0,222.4 388.1,230.6 388.2,235.3 388.2,235.6 388.3,238.2 388.4,230.8 388.4,225.0 388.5,224.2 388.5,224.2 388.6,229.0 388.7,219.4 388.7,229.3 388.8,223.0 388.8,218.7 388.9,221.2 389.0,211.6 389.0,218.3 389.1,225.4 389.1,237.4 389.2,249.4 389.3,263.0 389.3,257.1 389.4,259.4 389.5,254.8 389.5,239.0 389.6,227.1 389.6,230.7 389.7,216.7 389.8,215.1 389.8,211.5 389.9,217.4 389.9,214.7 390.0,209.2 390.1,216.0 390.1,218.0 390.2,210.6 390.2,214.0 390.3,212.9 390.4,209.1 390.4,208.0 390.5,203.3 390.5,198.6 390.6,193.7 390.7,196.2 390.7,194.1 390.8,199.3 390.9,202.7 390.9,210.1 391.0,221.8 391.0,210.7 391.1,216.0 391.2,215.5 391.2,222.0 391.3,214.5 391.3,219.2 391.4,225.0 391.5,224.7 391.5,224.5 391.6,223.8 391.6,230.5 391.7,233.4 391.8,231.6 391.8,233.6 391.9,231.2 392.0,225.0 392.0,217.8 392.1,188.3 392.1,187.1 392.2,182.9 392.3,192.1 392.3,196.9 392.4,205.7 392.4,210.9 392.5,213.4 392.6,208.1 392.6,212.6 392.7,217.6 392.7,211.6 392.8,210.3 392.9,221.1 392.9,224.4 393.0,226.3 393.1,225.9 393.1,218.9 393.2,223.9 393.2,222.1 393.3,213.5 393.4,218.6 393.4,224.7 393.5,229.0 393.5,234.6 393.6,234.8 393.7,238.5 393.7,228.8 393.8,223.9 393.8,217.5 393.9,220.0 394.0,216.8 394.0,209.2 394.1,207.0 394.2,214.1 394.2,207.8 394.3,194.6 394.3,191.7 394.4,183.4 394.5,180.8 394.5,183.5 394.6,186.6 394.6,195.8 394.7,205.2 394.8,208.4 394.8,218.4 394.9,221.6 394.9,217.0 395.0,218.3 395.1,222.0 395.1,229.0 395.2,235.0 395.2,234.2 395.3,233.4 395.4,227.6 395.4,221.8 395.5,216.7 395.6,209.0 395.6,214.2 395.7,218.7 395.7,219.6 395.8,211.8 395.9,215.5 395.9,220.7 396.0,208.7 396.0,211.5 396.1,216.6 396.2,214.3 396.2,214.5 396.3,216.4 396.3,220.6 396.4,218.4 396.5,225.0 396.5,231.5 396.6,237.3 396.7,233.4 396.7,233.8 396.8,232.5 396.8,226.1 396.9,219.2 397.0,216.8 397.0,218.7 397.1,219.0 397.1,218.3 397.2,224.2 397.3,227.1 397.3,224.0 397.4,218.7 397.4,206.2 397.5,214.8 397.6,224.6 397.6,213.3 397.7,213.6 397.8,222.4 397.8,215.1 397.9,215.9 397.9,217.3 398.0,213.0 398.1,210.6 398.1,214.7 398.2,211.8 398.2,217.1 398.3,220.0 398.4,216.1 398.4,224.7 398.5,231.8 398.5,232.6 398.6,233.7 398.7,234.5 398.7,230.3 398.8,224.0 398.9,218.0 398.9,201.1 399.0,193.0 399.0,193.9 399.1,195.7 399.2,196.6 399.2,202.3 399.3,207.6 399.3,215.1 399.4,218.3 399.5,222.7 399.5,222.8 399.6,213.9 399.6,215.5 399.7,212.2 399.8,214.4 399.8,206.6 399.9,200.7 400.0,201.4 400.0,198.5 400.1,223.1 400.1,228.6 400.2,235.5 400.3,242.7 400.3,244.0 400.4,239.2 400.4,235.0 400.5,227.1 400.6,221.4 400.6,200.5 400.7,195.4 400.7,195.7 400.8,200.1 400.9,201.3 400.9,205.5 401.0,209.2 401.0,210.2 401.1,207.3 401.2,216.3 401.2,220.7 401.3,214.9 401.4,211.1 401.4,216.9 401.5,215.7 401.5,214.5 401.6,221.6 401.7,217.0 401.7,219.1 401.8,212.2 401.8,217.5 401.9,207.9 402.0,203.6 402.0,200.3 402.1,197.9 402.1,197.1 402.2,193.2 402.3,199.6 402.3,202.9 402.4,208.6 402.5,211.7 402.5,213.6 402.6,218.2 402.6,211.7 402.7,219.5 402.8,223.3 402.8,222.6 402.9,223.6 402.9,228.1 403.0,230.5 403.1,233.2 403.1,234.8 403.2,226.7 403.2,223.1 403.3,218.5 403.4,211.2 403.4,223.2 403.5,214.7 403.6,219.5 403.6,213.9 403.7,217.1 403.7,216.3 403.8,209.9 403.9,205.7 403.9,224.2 404.0,215.8 404.0,214.3 404.1,215.2 404.2,220.8 404.2,225.5 404.3,227.4 404.3,232.0 404.4,232.1 404.5,233.5 404.5,228.0 404.6,222.4 404.7,218.6 404.7,201.0 404.8,193.7 404.8,186.7 404.9,186.9 405.0,192.5 405.0,194.6 405.1,201.2 405.1,206.0 405.2,210.3 405.3,218.6 405.3,209.2 405.4,208.6 405.4,215.2 405.5,212.1 405.6,217.1 405.6,226.7 405.7,230.7 405.8,232.8 405.8,234.1 405.9,236.9 405.9,230.1 406.0,225.4 406.1,219.0 406.1,218.5 406.2,220.5 406.2,209.7 406.3,208.9 406.4,214.3 406.4,208.3 406.5,200.8 406.5,195.7 406.6,193.6 406.7,190.9 406.7,192.0 406.8,196.2 406.8,201.7 406.9,205.2 407.0,213.8 407.0,209.6 407.1,212.6 407.2,218.1 407.2,224.1 407.3,228.5 407.3,226.8 407.4,227.1 407.5,219.3 407.5,220.0 407.6,221.5 407.6,218.6 407.7,214.8 407.8,221.0 407.8,206.1 407.9,216.3 407.9,218.8 408.0,215.4 408.1,207.2 408.1,210.9 408.2,216.3 408.3,211.6 408.3,220.0 408.4,227.8 408.4,236.9 408.5,240.8 408.6,242.2 408.6,241.1 408.7,233.6 408.7,227.3 408.8,220.9 408.9,193.6 408.9,192.0 409.0,196.7 409.0,202.7 409.1,209.0 409.2,223.3 409.2,222.9 409.3,212.5 409.4,215.7 409.4,214.2 409.5,211.9 409.5,209.2 409.6,201.7 409.7,202.1 409.7,201.3 409.8,208.2 409.8,218.1 409.9,212.8 410.0,220.4 410.0,222.9 410.1,230.3 410.1,235.5 410.2,235.3 410.3,233.7 410.3,230.3 410.4,225.1 410.5,218.7 410.5,211.2 410.6,208.9 410.6,210.5 410.7,211.4 410.8,211.1 410.8,216.7 410.9,212.8 410.9,213.3 411.0,207.8 411.1,208.3 411.1,203.3 411.2,197.4 411.2,192.6 411.3,195.0 411.4,192.3 411.4,197.2 411.5,203.5 411.6,223.1 411.6,231.5 411.7,241.2 411.7,244.9 411.8,247.1 411.9,245.4 411.9,237.2 412.0,231.0 412.0,221.8 412.1,210.4 412.2,218.2 412.2,227.3 412.3,227.8 412.3,227.3 412.4,219.0 412.5,213.7 412.5,206.9 412.6,216.4 412.6,222.2 412.7,230.8 412.8,240.4 412.8,242.4 412.9,240.5 413.0,244.1 413.0,237.7 413.1,230.4 413.1,222.0 413.2,190.3 413.3,194.4 413.3,200.4 413.4,207.1 413.4,209.6 413.5,218.0 413.6,205.8 413.6,200.4 413.7,200.4 413.7,201.1 413.8,207.4 413.9,214.8 413.9,211.6 414.0,211.3 414.1,220.2 414.1,212.3 414.2,211.5 414.2,219.2 414.3,212.8 414.4,219.0 414.4,205.6 414.5,215.7 414.5,220.6 414.6,228.1 414.7,233.7 414.7,238.4 414.8,242.5 414.8,241.2 414.9,235.7 415.0,227.2 415.0,221.5 415.1,214.2 415.2,209.8 415.2,220.4 415.3,218.6 415.3,203.7 415.4,192.4 415.5,186.5 415.5,178.2 415.6,176.6 415.6,182.0 415.7,185.9 415.8,196.2 415.8,203.2 415.9,226.8 415.9,221.4 416.0,212.6 416.1,210.8 416.1,216.2 416.2,206.6 416.3,221.6 416.3,219.6 416.4,219.8 416.4,206.7 416.5,212.9 416.6,214.5 416.6,219.2 416.7,207.1 416.7,202.8 416.8,198.9 416.9,192.3 416.9,194.7 417.0,193.6 417.0,199.1 417.1,200.9 417.2,208.0 417.2,222.1 417.3,219.1 417.4,230.2 417.4,239.2 417.5,241.1 417.5,240.8 417.6,240.8 417.7,234.3 417.7,229.8 417.8,229.4 417.8,224.3 417.9,215.9 418.0,219.2 418.0,225.3 418.1,235.0 418.1,237.4 418.2,240.3 418.3,237.3 418.3,234.2 418.4,228.0 418.4,221.2 418.5,208.4 418.6,201.4 418.6,196.7 418.7,192.9 418.8,193.9 418.8,194.0 418.9,199.2 418.9,203.9 419.0,208.3 419.1,214.3 419.1,220.8 419.2,224.8 419.2,230.4 419.3,233.5 419.4,231.0 419.4,232.0 419.5,229.2 419.5,222.6 419.6,217.1 419.7,222.8 419.7,210.7 419.8,216.1 419.9,217.3 419.9,211.1 420.0,223.4 420.0,232.5 420.1,231.7 420.2,229.6 420.2,225.4 420.3,230.8 420.3,237.9 420.4,237.6 420.5,239.8 420.5,240.8 420.6,237.9 420.6,229.3 420.7,221.8 420.8,222.0 420.8,213.7 420.9,206.1 421.0,213.3 421.0,215.3 421.1,202.6 421.1,194.0 421.2,182.5 421.3,178.4 421.3,174.3 421.4,179.9 421.4,183.3 421.5,192.9 421.6,200.3 421.6,209.3 421.7,216.1 421.7,222.4 421.8,215.5 421.9,206.6 421.9,215.9 422.0,216.8 422.1,218.9 422.1,225.5 422.2,231.7 422.2,235.8 422.3,237.2 422.4,236.8 422.4,235.3 422.5,226.0 422.5,218.9 422.6,197.8 422.7,196.0 422.7,200.2 422.8,202.7 422.8,206.9 422.9,211.4 423.0,210.8 423.0,213.0 423.1,219.0 423.1,214.9 423.2,216.0 423.3,215.6 423.3,210.0 423.4,224.4 423.5,233.7 423.5,243.5 423.6,249.6 423.6,254.3 423.7,247.5 423.8,241.5 423.8,236.7 423.9,230.6 423.9,246.5 424.0,260.6 424.1,269.4 424.1,272.4 424.2,276.6 424.2,261.1 424.3,244.9 424.4,234.6 424.4,248.6 424.5,259.9 424.6,259.3 424.6,256.6 424.7,250.3 424.7,235.6 424.8,228.2 424.9,217.6 424.9,210.5 425.0,222.6 425.0,219.3 425.1,230.1 425.2,234.4 425.2,224.5 425.3,204.6 425.3,199.3 425.4,197.4 425.5,200.3 425.5,197.2 425.6,194.1 425.7,194.4 425.7,192.5 425.8,195.1 425.8,201.0 425.9,207.3 426.0,234.0 426.0,231.5 426.1,235.6 426.1,249.7 426.2,254.0 426.3,251.1 426.3,256.4 426.4,248.1 426.4,235.9 426.5,223.4 426.6,223.0 426.6,235.3 426.7,220.8 426.8,230.0 426.8,232.8 426.9,233.2 426.9,222.8 427.0,214.1 427.1,228.0 427.1,231.4 427.2,213.7 427.2,222.0 427.3,214.9 427.4,213.2 427.4,210.9 427.5,204.2 427.5,198.3 427.6,189.9 427.7,182.2 427.7,185.6 427.8,186.9 427.9,189.4 427.9,197.5 428.0,205.0 428.0,213.1 428.1,209.1 428.2,219.1 428.2,228.3 428.3,230.4 428.3,229.7 428.4,221.0 428.5,203.6 428.5,220.5 428.6,221.5 428.6,228.4 428.7,239.1 428.8,243.5 428.8,254.1 428.9,254.3 428.9,256.3 429.0,247.9 429.1,237.9 429.1,223.9 429.2,220.3 429.3,219.2 429.3,226.3 429.4,215.6 429.4,209.3 429.5,220.5 429.6,229.8 429.6,230.6 429.7,204.5 429.7,192.2 429.8,182.1 429.9,175.8 429.9,179.0 430.0,218.6 430.0,225.2 430.1,235.4 430.2,237.8 430.2,238.2 430.3,239.9 430.4,233.6 430.4,224.9 430.5,224.8 430.5,223.7 430.6,232.4 430.7,222.2 430.7,229.7 430.8,224.4 430.8,218.6 430.9,222.8 431.0,212.5 431.0,218.9 431.1,226.7 431.1,242.1 431.2,253.2 431.3,266.5 431.3,261.1 431.4,262.8 431.5,254.4 431.5,243.4 431.6,227.5 431.6,229.8 431.7,215.3 431.8,215.7 431.8,211.4 431.9,215.7 431.9,214.8 432.0,212.2 432.1,217.2 432.1,218.3 432.2,210.7 432.2,213.6 432.3,212.8 432.4,210.0 432.4,206.8 432.5,203.7 432.6,197.4 432.6,191.8 432.7,194.2 432.7,193.6 432.8,198.6 432.9,202.3 432.9,206.4 433.0,219.1 433.0,208.2 433.1,216.3 433.2,214.3 433.2,222.6 433.3,214.4 433.3,222.6 433.4,228.1 433.5,228.2 433.5,224.6 433.6,226.0 433.7,230.7 433.7,233.6 433.8,235.7 433.8,231.9 433.9,229.6 434.0,226.5 434.0,218.7 434.1,184.0 434.1,184.9 434.2,186.0 434.3,190.0 434.3,197.4 434.4,206.6 434.4,210.6 434.5,215.1 434.6,210.1 434.6,211.3 434.7,219.3 434.7,209.7 434.8,211.7 434.9,220.5 434.9,227.6 435.0,230.4 435.1,226.2 435.1,221.0 435.2,224.4 435.2,220.9 435.3,216.5 435.4,218.7 435.4,225.4 435.5,230.5 435.5,237.8 435.6,235.4 435.7,234.2 435.7,230.4 435.8,223.1 435.8,218.6 435.9,217.6 436.0,216.6 436.0,210.2 436.1,206.3 436.2,215.3 436.2,205.2 436.3,193.9 436.3,189.9 436.4,182.6 436.5,183.1 436.5,183.9 436.6,186.4 436.6,197.4 436.7,205.6 436.8,207.6 436.8,220.0 436.9,221.4 436.9,216.7 437.0,220.5 437.1,222.6 437.1,227.0 437.2,237.5 437.3,236.0 437.3,235.1 437.4,232.3 437.4,225.9 437.5,216.4 437.6,211.5 437.6,213.8 437.7,218.2 437.7,222.8 437.8,212.6 437.9,216.2 437.9,222.7 438.0,209.1 438.0,211.3 438.1,214.6 438.2,218.3 438.2,213.9 438.3,216.0 438.4,220.1 438.4,220.6 438.5,225.7 438.5,230.6 438.6,235.4 438.7,238.6 438.7,236.4 438.8,234.7 438.8,226.0 438.9,216.7 439.0,217.3 439.0,219.7 439.1,217.1 439.1,218.2 439.2,224.3 439.3,227.7 439.3,225.9 439.4,219.4 439.5,206.5 439.5,216.1 439.6,224.9 439.6,215.0 439.7,213.5 439.8,220.3 439.8,211.6 439.9,215.0 439.9,218.4 440.0,212.6 440.1,208.6 440.1,216.0 440.2,211.8 440.2,217.1 440.3,218.9 440.4,219.3 440.4,223.9 440.5,233.2 440.5,232.6 440.6,235.6 440.7,233.7 440.7,231.6 440.8,223.8 440.9,219.4 440.9,197.1 441.0,193.0 441.0,194.0 441.1,194.7 441.2,198.5 441.2,201.8 441.3,205.7 441.3,215.2 441.4,219.4 441.5,224.8 441.5,221.3 441.6,216.3 441.6,215.6 441.7,213.6 441.8,216.1 441.8,206.7 441.9,200.5 442.0,199.7 442.0,201.9 442.1,220.4 442.1,229.9 442.2,237.6 442.3,242.8 442.3,242.6 442.4,242.4 442.4,240.1 442.5,228.8 442.6,222.1 442.6,199.2 442.7,198.0 442.7,195.0 442.8,196.1 442.9,200.6 442.9,206.3 443.0,207.1 443.1,209.3 443.1,210.0 443.2,217.1 443.2,221.3 443.3,216.3 443.4,211.9 443.4,216.5 443.5,216.3 443.5,211.9 443.6,224.1 443.7,218.9 443.7,221.1 443.8,213.6 443.8,216.9 443.9,208.4 444.0,203.8 444.0,199.6 444.1,197.7 444.2,197.7 444.2,196.9 444.3,199.3 444.3,205.2 444.4,207.7 444.5,212.7 444.5,212.7 444.6,218.3 444.6,212.6 444.7,214.5 444.8,224.3 444.8,223.0 444.9,224.4 444.9,231.0 445.0,233.9 445.1,234.9 445.1,234.6 445.2,230.6 445.2,223.4 445.3,218.5 445.4,210.1 445.4,224.0 445.5,217.9 445.6,220.7 445.6,214.2 445.7,218.7 445.7,219.7 445.8,209.9 445.9,205.7 445.9,225.1 446.0,215.4 446.0,212.4 446.1,214.9 446.2,218.3 446.2,223.9 446.3,232.5 446.3,235.0 446.4,234.7 446.5,234.2 446.5,232.3 446.6,225.4 446.7,219.4 446.7,201.1 446.8,194.6 446.8,190.1 446.9,187.4 447.0,191.4 447.0,195.6 447.1,202.4 447.1,207.3 447.2,210.4 447.3,219.7 447.3,210.0 447.4,210.4 447.4,214.2 447.5,210.8 447.6,221.6 447.6,225.9 447.7,232.6 447.8,237.6 447.8,241.3 447.9,239.8 447.9,232.3 448.0,227.8 448.1,218.7 448.1,217.4 448.2,222.5 448.2,210.2 448.3,210.1 448.4,215.7 448.4,206.3 448.5,199.4 448.5,194.0 448.6,189.7 448.7,191.4 448.7,190.4 448.8,195.7 448.9,200.1 448.9,207.2 449.0,213.1 449.0,208.3 449.1,212.8 449.2,220.1 449.2,221.0 449.3,228.5 449.3,232.7 449.4,228.1 449.5,220.3 449.5,218.5 449.6,217.7 449.6,220.2 449.7,216.3 449.8,218.7 449.8,208.6 449.9,218.5 450.0,216.9 450.0,214.4 450.1,207.1 450.1,208.4 450.2,215.6 450.3,213.4 450.3,221.1 450.4,230.4 450.4,236.2 450.5,243.8 450.6,242.0 450.6,243.3 450.7,237.5 450.7,229.6 450.8,220.8 450.9,195.6 450.9,190.4 451.0,196.8 451.0,202.0 451.1,206.6 451.2,223.0 451.2,224.8 451.3,212.7 451.4,217.5 451.4,211.6 451.5,211.5 451.5,207.1 451.6,204.1 451.7,200.2 451.7,199.5 451.8,207.8 451.8,219.9 451.9,210.0 452.0,219.0 452.0,223.5 452.1,230.8 452.1,240.2 452.2,236.0 452.3,233.6 452.3,232.6 452.4,224.9 452.5,219.0 452.5,213.1 452.6,211.1 452.6,212.0 452.7,210.9 452.8,212.9 452.8,215.6 452.9,211.7 452.9,212.7 453.0,206.9 453.1,206.2 453.1,202.6 453.2,196.4 453.2,192.8 453.3,194.4 453.4,193.2 453.4,195.9 453.5,200.2 453.6,222.6 453.6,234.4 453.7,239.9 453.7,244.6 453.8,247.6 453.9,248.4 453.9,240.0 454.0,230.5 454.0,224.0 454.1,209.0 454.2,221.0 454.2,229.8 454.3,228.0 454.3,228.3 454.4,221.2 454.5,214.1 454.5,205.5 454.6,217.1 454.7,222.1 454.7,230.2 454.8,239.0 454.8,248.8 454.9,247.6 455.0,243.8 455.0,240.5 455.1,231.5 455.1,222.1 455.2,186.7 455.3,194.8 455.3,200.3 455.4,207.1 455.4,209.6 455.5,219.7 455.6,206.1 455.6,200.6 455.7,199.7 455.8,199.5 455.8,206.1 455.9,214.0 455.9,211.8 456.0,210.2 456.1,221.0 456.1,210.8 456.2,211.0 456.2,217.0 456.3,214.4 456.4,218.8 456.4,206.6 456.5,216.2 456.5,220.9 456.6,229.2 456.7,237.3 456.7,242.6 456.8,243.7 456.8,245.0 456.9,238.1 457.0,229.3 457.0,219.9 457.1,213.5 457.2,211.7 457.2,218.3 457.3,218.5 457.3,202.0 457.4,195.0 457.5,186.5 457.5,180.3 457.6,179.8 457.6,178.6 457.7,186.3 457.8,191.9 457.8,205.7 457.9,229.2 457.9,221.7 458.0,213.0 458.1,210.7 458.1,216.1 458.2,204.7 458.3,224.4 458.3,221.4 458.4,219.2 458.4,207.4 458.5,211.9 458.6,215.8 458.6,221.4 458.7,207.8 458.7,203.5 458.8,197.8 458.9,195.1 458.9,194.3 459.0,195.6 459.0,199.2 459.1,201.2 459.2,208.8 459.2,223.1 459.3,223.3 459.4,230.6 459.4,238.7 459.5,243.0 459.5,242.7 459.6,249.3 459.7,242.9 459.7,232.2 459.8,231.3 459.8,224.8 459.9,215.9 460.0,220.4 460.0,229.0 460.1,236.9 460.1,241.9 460.2,241.4 460.3,241.5 460.3,236.7 460.4,228.6 460.5,223.8 460.5,206.0 460.6,201.3 460.6,196.5 460.7,194.8 460.8,192.6 460.8,194.2 460.9,198.0 460.9,201.2 461.0,208.6 461.1,213.3 461.1,219.2 461.2,225.5 461.2,230.4 461.3,237.4 461.4,236.3 461.4,236.4 461.5,229.0 461.6,225.0 461.6,219.7 461.7,223.1 461.7,208.9 461.8,216.7 461.9,218.1 461.9,210.5 462.0,223.0 462.0,234.0 462.1,234.5 462.2,232.4 462.2,224.6 462.3,232.2 462.3,237.1 462.4,246.3 462.5,247.0 462.5,245.4 462.6,238.2 462.6,229.4 462.7,223.3 462.8,225.5 462.8,212.3 462.9,204.2 463.0,211.8 463.0,216.7 463.1,202.8 463.1,192.6 463.2,186.2 463.3,175.7 463.3,179.2 463.4,176.2 463.4,183.3 463.5,192.2 463.6,201.4 463.6,210.5 463.7,217.8 463.7,221.9 463.8,214.1 463.9,207.4 463.9,217.4 464.0,217.6 464.1,222.9 464.1,227.2 464.2,231.2 464.2,236.3 464.3,237.2 464.4,238.6 464.4,233.5 464.5,226.1 464.5,220.3 464.6,196.1 464.7,197.0 464.7,200.9 464.8,201.3 464.8,208.3 464.9,213.2 465.0,210.4 465.0,213.0 465.1,216.1 465.2,215.8 465.2,218.0 465.3,215.4 465.3,210.1 465.4,223.5 465.5,233.7 465.5,248.5 465.6,255.8 465.6,256.2 465.7,250.5 465.8,245.1 465.8,235.1 465.9,231.0 465.9,248.8 466.0,269.2 466.1,278.3 466.1,280.5 466.2,272.6 466.3,270.4 466.3,247.1 466.4,242.4 466.4,249.6 466.5,260.5 466.6,267.2 466.6,259.0 466.7,254.6 466.7,242.1 466.8,234.0 466.9,218.8 466.9,212.7 467.0,223.1 467.0,217.3 467.1,231.5 467.2,236.3 467.2,230.1 467.3,205.0 467.4,198.6 467.4,198.2 467.5,196.0 467.5,196.3 467.6,191.3 467.7,190.2 467.7,189.9 467.8,195.6 467.8,201.9 467.9,208.4 468.0,239.4 468.0,236.1 468.1,238.0 468.1,252.1 468.2,256.4 468.3,258.1 468.3,257.4 468.4,251.9 468.4,237.3 468.5,224.4 468.6,226.9 468.6,236.8 468.7,222.4 468.8,231.6 468.8,236.3 468.9,230.6 468.9,224.3 469.0,215.6 469.1,230.3 469.1,235.9 469.2,212.8 469.2,223.9 469.3,215.6 469.4,211.2 469.4,209.8 469.5,204.8 469.5,197.0 469.6,186.9 469.7,183.3 469.7,183.7 469.8,182.6 469.9,190.8 469.9,197.1 470.0,204.6 470.0,210.8 470.1,207.7 470.2,221.5 470.2,231.1 470.3,234.3 470.3,228.1 470.4,221.6 470.5,205.5 470.5,221.7 470.6,222.0 470.6,230.7 470.7,239.8 470.8,252.8 470.8,260.2 470.9,256.0 471.0,264.0 471.0,247.3 471.1,235.6 471.1,229.1 471.2,217.3 471.3,220.1 471.3,230.6 471.4,215.8 471.4,207.2 471.5,221.6 471.6,226.2 471.6,233.3 471.7,203.8 471.7,193.1 471.8,184.8 471.9,175.5 471.9,175.7 472.0,220.7 472.1,228.0 472.1,234.3 472.2,236.4 472.2,238.2 472.3,239.4 472.4,232.2 472.4,230.2 472.5,224.7 472.5,229.6 472.6,235.2 472.7,219.4 472.7,232.2 472.8,227.5 472.8,218.0 472.9,221.8 473.0,215.6 473.0,219.0 473.1,228.7 473.1,244.0 473.2,263.3 473.3,276.9 473.3,268.6 473.4,273.9 473.5,259.0 473.5,245.9 473.6,227.0 473.6,236.0 473.7,217.6 473.8,214.0 473.8,210.7 473.9,219.5 473.9,213.2 474.0,211.4 474.1,216.0 474.1,217.1 474.2,209.4 474.2,215.3 474.3,212.3 474.4,207.7 474.4,205.9 474.5,202.8 474.6,196.3 474.6,193.6 474.7,191.2 474.7,195.7 474.8,198.2 474.9,202.4 474.9,207.3 475.0,220.9 475.0,209.1 475.1,217.1 475.2,215.4 475.2,219.7 475.3,216.1 475.3,219.5 475.4,226.9 475.5,229.1 475.5,225.1 475.6,225.5 475.7,233.0 475.7,238.9 475.8,235.9 475.8,240.6 475.9,230.8 476.0,224.3 476.0,218.3 476.1,181.7 476.1,184.4 476.2,186.3 476.3,191.7 476.3,198.8 476.4,206.0 476.4,208.8 476.5,215.1 476.6,207.5 476.6,213.1 476.7,216.6 476.8,211.4 476.8,210.9 476.9,220.0 476.9,228.6 477.0,228.9 477.1,229.4 477.1,220.5 477.2,224.8 477.2,224.0 477.3,216.2 477.4,219.2 477.4,224.6 477.5,236.9 477.5,238.5 477.6,242.1 477.7,241.1 477.7,231.9 477.8,227.5 477.9,219.7 477.9,218.6 478.0,217.2 478.0,212.0 478.1,205.4 478.2,212.8 478.2,205.5 478.3,196.9 478.3,186.0 478.4,180.5 478.5,177.9 478.5,178.2 478.6,188.1 478.6,196.5 478.7,203.2 478.8,208.6 478.8,222.1 478.9,221.7 478.9,220.1 479.0,223.0 479.1,226.4 479.1,229.6 479.2,235.2 479.3,233.3 479.3,238.0 479.4,234.0 479.4,228.8 479.5,219.4 479.6,211.3 479.6,212.4 479.7,221.4 479.7,222.4 479.8,212.1 479.9,214.5 479.9,221.9 480.0,208.8 480.0,212.0 480.1,216.9 480.2,215.1 480.2,215.4 480.3,218.6 480.4,222.1 480.4,220.4 480.5,226.4 480.5,233.7 480.6,238.6 480.7,236.4 480.7,241.3 480.8,235.0 480.8,228.9 480.9,220.3 481.0,217.8 481.0,223.3 481.1,216.5 481.1,218.9 481.2,226.2 481.3,230.0 481.3,226.7 481.4,218.7 481.5,205.6 481.5,216.2 481.6,225.8 481.6,214.6 481.7,212.4 481.8,226.3 481.8,213.9 481.9,216.2 481.9,221.2 482.0,211.6 482.1,210.1 482.1,216.6 482.2,212.4 482.2,218.1 482.3,219.1 482.4,218.5 482.4,223.7 482.5,233.3 482.6,235.0 482.6,237.5 482.7,239.5 482.7,233.6 482.8,227.0 482.9,218.4 482.9,196.7 483.0,193.2 483.0,195.4 483.1,193.2 483.2,195.2 483.2,203.0 483.3,206.6 483.3,217.5 483.4,218.3 483.5,225.2 483.5,224.4 483.6,215.5 483.7,213.4 483.7,212.2 483.8,214.1 483.8,205.9 483.9,200.6 484.0,200.9 484.0,200.1 484.1,222.0 484.1,232.5 484.2,244.7 484.3,246.8 484.3,247.9 484.4,250.5 484.4,246.4 484.5,228.7 484.6,222.8 484.6,197.8 484.7,194.9 484.7,193.6 484.8,195.7 484.9,200.4 484.9,202.0 485.0,207.5 485.1,209.9 485.1,209.0 485.2,220.0 485.2,221.9 485.3,218.1 485.4,211.0 485.4,216.9 485.5,219.8 485.5,212.2 485.6,224.0 485.7,217.5 485.7,223.8 485.8,213.9 485.8,217.9 485.9,208.8 486.0,205.5 486.0,198.5 486.1,196.4 486.2,194.1 486.2,193.6 486.3,198.5 486.3,205.6 486.4,209.3 486.5,213.3 486.5,210.8 486.6,218.0 486.6,212.1 486.7,217.5 486.8,225.1 486.8,227.5 486.9,228.3 486.9,233.9 487.0,236.4 487.1,236.0 487.1,235.3 487.2,230.2 487.3,227.4 487.3,219.0 487.4,212.0 487.4,229.0 487.5,219.9 487.6,218.3 487.6,213.8 487.7,217.8 487.7,217.2 487.8,212.3 487.9,206.4 487.9,224.3 488.0,215.4 488.0,211.7 488.1,216.3 488.2,219.0 488.2,225.6 488.3,232.7 488.4,239.3 488.4,239.0 488.5,238.2 488.5,231.3 488.6,226.2 488.7,219.5 488.7,200.1 488.8,190.4 488.8,189.6 488.9,189.1 489.0,189.5 489.0,196.1 489.1,198.9 489.1,206.5 489.2,210.0 489.3,218.8 489.3,207.9 489.4,210.6 489.5,216.1 489.5,208.9 489.6,219.8 489.6,227.2 489.7,236.9 489.8,239.5 489.8,243.8 489.9,240.0 489.9,234.4 490.0,227.4 490.1,221.6 490.1,218.7 490.2,221.7 490.2,211.5 490.3,209.7 490.4,216.1 490.4,207.5 490.5,200.2 490.5,194.1 490.6,191.2 490.7,188.7 490.7,188.0 490.8,198.5 490.9,197.6 490.9,206.9 491.0,213.0 491.0,208.2 491.1,212.4 491.2,218.1 491.2,223.5 491.3,232.1 491.3,232.3 491.4,230.0 491.5,223.4 491.5,219.6 491.6,220.8 491.6,219.7 491.7,216.9 491.8,221.0 491.8,206.3 491.9,217.2 492.0,218.1 492.0,212.4 492.1,209.7 492.1,208.0 492.2,220.2 492.3,214.0 492.3,219.1 492.4,231.8 492.4,240.3 492.5,246.0 492.6,252.9 492.6,250.9 492.7,241.2 492.7,232.6 492.8,223.6 492.9,193.7 492.9,191.6 493.0,197.9 493.1,200.2 493.1,206.7 493.2,222.9 493.2,224.2 493.3,213.0 493.4,215.3 493.4,212.4 493.5,213.1 493.5,207.5 493.6,202.1 493.7,199.2 493.7,199.5 493.8,206.6 493.8,223.4 493.9,210.6 494.0,218.0 494.0,224.7 494.1,235.5 494.2,239.1 494.2,240.3 494.3,237.0 494.3,236.6 494.4,225.8 494.5,219.0 494.5,210.5 494.6,210.7 494.6,211.5 494.7,211.9 494.8,212.8 494.8,218.0 494.9,211.9 494.9,215.3 495.0,206.2 495.1,205.6 495.1,202.6 495.2,192.4 495.2,191.9 495.3,191.3 495.4,190.1 495.4,194.1 495.5,201.5 495.6,225.0 495.6,238.5 495.7,246.6 495.7,254.3 495.8,258.1 495.9,257.7 495.9,249.4 496.0,233.6 496.0,223.3 496.1,207.2 496.2,222.4 496.2,229.8 496.3,232.6 496.3,228.9 496.4,223.4 496.5,210.9 496.5,205.2 496.6,216.6 496.7,219.6 496.7,233.3 496.8,242.6 496.8,254.6 496.9,256.6 497.0,249.1 497.0,247.7 497.1,233.4 497.1,223.5 497.2,188.3 497.3,189.1 497.3,200.2 497.4,205.0 497.4,212.3 497.5,217.9 497.6,207.0 497.6,201.4 497.7,199.9 497.8,198.3 497.8,204.8 497.9,215.6 497.9,211.1 498.0,209.9 498.1,225.3 498.1,211.9 498.2,210.6 498.2,219.2 498.3,212.5 498.4,220.6 498.4,207.7 498.5,216.5 498.5,224.6 498.6,231.6 498.7,243.2 498.7,245.5 498.8,243.7 498.9,245.5 498.9,237.8 499.0,234.3 499.0,223.0 499.1,213.8 499.2,210.6 499.2,219.9 499.3,219.3 499.3,201.7 499.4,193.7 499.5,184.1 499.5,175.9 499.6,179.4 499.6,174.2 499.7,185.9 499.8,194.7 499.8,203.9 499.9,232.3 500.0,224.9 500.0,215.0 500.1,212.1 500.1,218.1 500.2,207.0 500.3,228.1 500.3,222.4 500.4,224.4 500.4,207.9 500.5,211.5 500.6,215.7 500.6,222.2 500.7,206.4 500.7,203.1 500.8,196.6 500.9,194.3 500.9,195.0 501.0,195.7 501.0,195.3 501.1,201.8 501.2,205.2 501.2,224.3 501.3,222.0 501.4,233.5 501.4,240.8 501.5,253.5 501.5,251.0 501.6,249.8 501.7,243.9 501.7,236.5 501.8,233.0 501.8,227.0 501.9,213.5 502.0,221.4 502.0,229.7 502.1,240.8 502.1,246.0 502.2,250.4 502.3,245.4 502.3,237.6 502.4,228.6 502.5,223.7 502.5,206.4 502.6,200.7 502.6,195.2 502.7,192.9 502.8,192.0 502.8,189.7 502.9,195.7 502.9,202.7 503.0,208.2 503.1,213.2 503.1,218.7 503.2,226.7 503.2,235.0 503.3,237.8 503.4,235.3 503.4,238.2 503.5,236.9 503.6,225.8 503.6,219.6 503.7,227.8 503.7,209.8 503.8,218.8 503.9,219.9 503.9,209.7 504.0,223.5 504.0,238.7 504.1,240.4 504.2,239.3 504.2,222.1 504.3,232.3 504.3,247.6 504.4,249.4 504.5,250.1 504.5,249.7 504.6,240.1 504.7,230.9 504.7,223.3 504.8,224.9 504.8,213.0 504.9,205.1 505.0,212.1 505.0,219.0 505.1,202.3 505.1,191.9 505.2,178.6 505.3,174.4 505.3,174.8 505.4,174.6 505.4,184.5 505.5,190.7 505.6,201.6 505.6,208.4 505.7,218.9 505.8,227.3 505.8,214.9 505.9,208.4 505.9,218.8 506.0,219.9 506.1,222.6 506.1,231.5 506.2,234.1 506.2,245.4 506.3,241.8 506.4,243.2 506.4,234.7 506.5,228.0 506.5,218.9 506.6,193.6 506.7,194.2 506.7,199.5 506.8,203.2 506.8,207.2 506.9,212.4 507.0,209.4 507.0,212.6 507.1,217.8 507.2,213.9 507.2,216.0 507.3,215.5 507.3,206.7 507.4,225.5 507.5,237.8 507.5,252.3 507.6,260.0 507.6,263.6 507.7,262.6 507.8,251.6 507.8,236.2 507.9,227.8 507.9,255.5 508.0,272.5 508.1,283.7 508.1,261.3 508.2,287.3 508.3,212.7 528.4,212.7"/>
<path d="M101.05 293.80v-5.80M101.05 170.00v5.80M162.10 293.80v-5.80M162.10 170.00v5.80M223.15 293.80v-5.80M223.15 170.00v5.80M284.20 293.80v-5.80M284.20 170.00v5.80M345.25 293.80v-5.80M345.25 170.00v5.80M406.30 293.80v-5.80M406.30 170.00v5.80M467.35 293.80v-5.80M467.35 170.00v5.80M40.00 253.24h5.80M528.40 253.24h-5.80M40.00 212.67h5.80M528.40 212.67h-5.80M40.00 172.11h5.80M528.40 172.11h-5.80" stroke="#1a1a1a" stroke-width="1.3" fill="none"/>
<rect x="40.00" y="170.00" width="488.40" height="123.80" fill="none" stroke="#1a1a1a" stroke-width="1.5"/>
<text x="40.0" y="309.3" font-size="11.2" text-anchor="middle">0</text>
<text x="101.0" y="309.3" font-size="11.2" text-anchor="middle">2000</text>
<text x="162.1" y="309.3" font-size="11.2" text-anchor="middle">4000</text>
<text x="223.2" y="309.3" font-size="11.2" text-anchor="middle">6000</text>
<text x="284.2" y="309.3" font-size="11.2" text-anchor="middle">8000</text>
<text x="345.2" y="309.3" font-size="11.2" text-anchor="middle">10,000</text>
<text x="406.3" y="309.3" font-size="11.2" text-anchor="middle">12,000</text>
<text x="467.4" y="309.3" font-size="11.2" text-anchor="middle">14,000</text>
<text x="528.4" y="309.3" font-size="11.2" text-anchor="middle">16,000</text>
<text x="36.4" y="298.7" font-size="11.5" text-anchor="end">-10</text>
<text x="36.4" y="258.1" font-size="11.5" text-anchor="end">-5</text>
<text x="36.4" y="217.6" font-size="11.5" text-anchor="end">0</text>
<text x="36.4" y="177.0" font-size="11.5" text-anchor="end">5</text>
<text x="284.2" y="324.8" font-size="12.3" text-anchor="middle">Time (s)</text>
<text transform="translate(13.7 231.6) rotate(-90)" font-size="12.7" text-anchor="middle">Current (A)</text>
<rect x="429.2" y="174.4" width="93.2" height="14.6" fill="#fff" stroke="#1a1a1a" stroke-width="1.5"/>
<path d="M432.2 181.8H449.0" stroke="#ff00ff" stroke-width="1.4"/>
<text x="450.8" y="185.7" font-size="10.4" >UDDS Current</text>
</g></svg>
</body></html>
